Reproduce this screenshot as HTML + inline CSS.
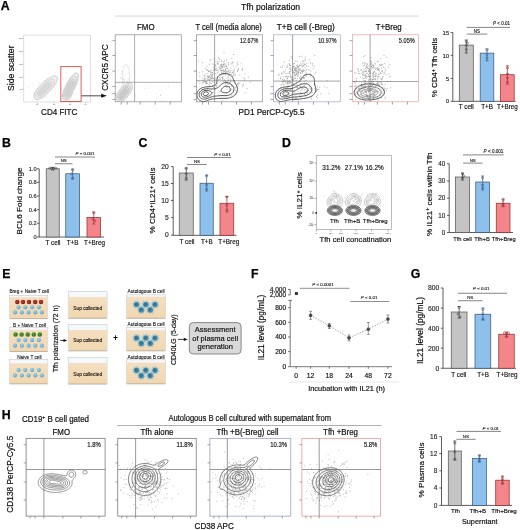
<!DOCTYPE html>
<html><head><meta charset="utf-8"><title>Figure</title>
<style>html,body{margin:0;padding:0;background:#fff;width:520px;height:530px;overflow:hidden}svg{display:block;filter:blur(0.35px)}</style>
</head><body>
<svg width="520" height="530" viewBox="0 0 520 530" font-family="Liberation Sans, Arial, Helvetica, sans-serif"><text x="0.66" y="9.93" font-size="12.3" font-weight="bold" fill="#000" stroke="#000" stroke-width="0.25">A</text>
<defs><clipPath id="cA1"><rect x="23.8" y="35.1" width="66.5" height="66.9"/></clipPath><clipPath id="cA2"><rect x="115.2" y="34.8" width="66.1" height="67"/></clipPath><clipPath id="cA3"><rect x="196.5" y="34.8" width="65.8" height="67"/></clipPath><clipPath id="cA4"><rect x="273.4" y="34.8" width="66.9" height="67"/></clipPath><clipPath id="cA5"><rect x="352.4" y="34.8" width="66" height="67"/></clipPath><clipPath id="cD"><rect x="316.3" y="155.3" width="75.2" height="74.3"/></clipPath><clipPath id="cH1"><rect x="25.8" y="438" width="78" height="77.5"/></clipPath><clipPath id="cH2"><rect x="118.8" y="438" width="71.7" height="77.5"/></clipPath><clipPath id="cH3"><rect x="210" y="438" width="81.2" height="77.5"/></clipPath><clipPath id="cH4"><rect x="301.2" y="438" width="79.3" height="77.5"/></clipPath></defs>
<rect x="23.8" y="35.1" width="66.5" height="66.9" fill="none" stroke="#c8c8c8" stroke-width="0.6" rx="0"/>
<line x1="22" y1="38.5" x2="23.8" y2="38.5" stroke="#bbb" stroke-width="0.6"/>
<line x1="22" y1="51.5" x2="23.8" y2="51.5" stroke="#bbb" stroke-width="0.6"/>
<line x1="22" y1="64.2" x2="23.8" y2="64.2" stroke="#bbb" stroke-width="0.6"/>
<line x1="22" y1="77" x2="23.8" y2="77" stroke="#bbb" stroke-width="0.6"/>
<line x1="22" y1="89.2" x2="23.8" y2="89.2" stroke="#bbb" stroke-width="0.6"/>
<line x1="37.2" y1="102" x2="37.2" y2="103.8" stroke="#bbb" stroke-width="0.6"/>
<line x1="54.2" y1="102" x2="54.2" y2="103.8" stroke="#bbb" stroke-width="0.6"/>
<line x1="70.3" y1="102" x2="70.3" y2="103.8" stroke="#bbb" stroke-width="0.6"/>
<line x1="85.7" y1="102" x2="85.7" y2="103.8" stroke="#bbb" stroke-width="0.6"/>
<text x="37.2" y="104.64" font-size="1.8" text-anchor="middle" font-weight="normal" fill="#999" stroke="#999" stroke-width="0.04">10³</text>
<text x="54.2" y="104.64" font-size="1.8" text-anchor="middle" font-weight="normal" fill="#999" stroke="#999" stroke-width="0.04">10⁴</text>
<text x="70.3" y="104.64" font-size="1.8" text-anchor="middle" font-weight="normal" fill="#999" stroke="#999" stroke-width="0.04">10⁵</text>
<text x="85.7" y="104.64" font-size="1.8" text-anchor="middle" font-weight="normal" fill="#999" stroke="#999" stroke-width="0.04">10⁶</text>
<text x="22.6" y="39.07" font-size="1.6" text-anchor="end" font-weight="normal" fill="#999" stroke="#999" stroke-width="0.04">250K</text>
<text x="22.6" y="52.07" font-size="1.6" text-anchor="end" font-weight="normal" fill="#999" stroke="#999" stroke-width="0.04">200K</text>
<text x="22.6" y="64.77" font-size="1.6" text-anchor="end" font-weight="normal" fill="#999" stroke="#999" stroke-width="0.04">150K</text>
<text x="22.6" y="77.57" font-size="1.6" text-anchor="end" font-weight="normal" fill="#999" stroke="#999" stroke-width="0.04">100K</text>
<text x="22.6" y="89.77" font-size="1.6" text-anchor="end" font-weight="normal" fill="#999" stroke="#999" stroke-width="0.04">50K</text>
<path d="M46.01 78.82h0.7M48.09 85.13h0.7M44.08 82.13h0.7M39.77 83.15h0.7M42.82 94.37h0.7M39.06 83.15h0.7M46.42 87.8h0.7M55.38 93.31h0.7M42.55 84.5h0.7M41.66 87.33h0.7M49.43 88.66h0.7M48.5 88.38h0.7M46.74 80.65h0.7M39.49 88.46h0.7M45.8 96.15h0.7M50.87 78.72h0.7M36.59 93.16h0.7M42.8 88.72h0.7M32.69 84.15h0.7M36.97 100h0.7M33.11 92.57h0.7M44.35 80.8h0.7M37.13 88.45h0.7M47.9 91.46h0.7M47.1 86.87h0.7M44.69 92.1h0.7M28.38 87.6h0.7M42.23 92h0.7M45.66 96.63h0.7M46.79 83.95h0.7M71.81 85.81h0.7M69.15 91.35h0.7M71.51 83.28h0.7M66.25 94.42h0.7M68.68 85.96h0.7M70.22 90.67h0.7M74.6 75.67h0.7M75.58 88.77h0.7M65.71 72.49h0.7M67.82 69.72h0.7M73.59 83.56h0.7M63.03 78.8h0.7M69.15 87.31h0.7M76.03 79.35h0.7M73.76 81.01h0.7M69.69 87.64h0.7M69.53 89.94h0.7M70 84.59h0.7M77.09 84.35h0.7M69.29 91.62h0.7M69.79 90.16h0.7M72.41 77.73h0.7M70.52 85.37h0.7M70.21 86.28h0.7M66.54 77.56h0.7M70.95 88.08h0.7M69.23 79.14h0.7M75.66 93.78h0.7M73.61 87.54h0.7" stroke="#c8c8c8" stroke-width="0.7" opacity="1" fill="none"/>
<g clip-path="url(#cA1)"><path d="M52.5 76.39 L53.5 76.12 L54.5 76 L55.5 76.07 L56.45 76.5 L56.91 77 L57.15 77.5 L57.31 78.5 L57.24 79.5 L57 80.47 L56.85 81 L56.5 81.87 L56.23 82.5 L55.97 83 L55.5 83.88 L55.15 84.5 L54.84 85 L54.49 85.5 L54 86.22 L53.5 86.91 L53.05 87.5 L52.66 88 L52.25 88.5 L51.82 89 L51.38 89.5 L50.92 90 L50.45 90.5 L49.96 91 L49.46 91.5 L48.96 92 L48.44 92.5 L47.92 93 L47.39 93.5 L46.85 94 L46.32 94.5 L45.77 95 L45.21 95.5 L44.63 96 L44.01 96.5 L43.5 96.91 L43 97.28 L42.5 97.6 L41.82 98 L41 98.44 L40.5 98.67 L39.54 99 L39 99.17 L38 99.35 L37 99.37 L36 99.19 L35.5 98.98 L34.84 98.5 L34.46 98 L34.08 97 L34.01 96 L34.1 95 L34.33 94 L34.51 93.5 L34.91 92.5 L35.15 92 L35.5 91.39 L36 90.59 L36.4 90 L36.76 89.5 L37.15 89 L37.57 88.5 L38 88 L38.5 87.41 L39 86.84 L39.5 86.28 L40 85.73 L40.5 85.19 L41 84.66 L41.5 84.14 L42 83.63 L42.5 83.14 L43 82.66 L43.5 82.19 L44 81.74 L44.5 81.31 L45 80.89 L45.5 80.5 L46.13 80 L46.8 79.5 L47.5 79.01 L48 78.66 L48.5 78.34 L49.08 78 L49.97 77.5 L50.5 77.21 L51 76.99 L52 76.57 L52.5 76.39 Z" fill="#f6f6f6" stroke="#a4a4a4" stroke-width="0.55"/><path d="M51.5 78.94 L52.5 78.81 L53.5 78.98 L54 79.33 L54.39 80 L54.48 81 L54.32 82 L54 82.94 L53.77 83.5 L53.5 84.05 L53 84.96 L52.68 85.5 L52.35 86 L52 86.5 L51.5 87.18 L51 87.82 L50.5 88.42 L50 88.99 L49.54 89.5 L49.06 90 L48.57 90.5 L48.07 91 L47.56 91.5 L47.03 92 L46.51 92.5 L46 92.99 L45.5 93.47 L45 93.95 L44.5 94.42 L44 94.87 L43.5 95.29 L43 95.68 L42.5 96.03 L41.75 96.5 L41 96.9 L40.5 97.1 L39.5 97.4 L38.5 97.49 L37.5 97.34 L36.85 97 L36.36 96.5 L36 95.62 L35.91 95 L36 94.06 L36.12 93.5 L36.49 92.5 L36.71 92 L37 91.5 L37.5 90.71 L38 90.03 L38.42 89.5 L38.84 89 L39.27 88.5 L39.72 88 L40.18 87.5 L40.64 87 L41.11 86.5 L41.58 86 L42.05 85.5 L42.54 85 L43.04 84.5 L43.55 84 L44.09 83.5 L44.65 83 L45.23 82.5 L45.86 82 L46.5 81.52 L47 81.15 L47.5 80.81 L48.01 80.5 L48.87 80 L49.5 79.67 L50 79.44 L51 79.07 L51.5 78.94 Z" fill="#eeeeee" stroke="#b0b0b0" stroke-width="0.5"/><path d="M50 81.47 L51 81.47 L51.5 81.75 L51.86 82.5 L51.79 83.5 L51.5 84.37 L51.22 85 L50.95 85.5 L50.5 86.24 L50 86.96 L49.59 87.5 L49.19 88 L48.76 88.5 L48.3 89 L47.82 89.5 L47.33 90 L46.82 90.5 L46.31 91 L45.81 91.5 L45.3 92 L44.8 92.5 L44.3 93 L43.78 93.5 L43.22 94 L42.61 94.5 L42 94.93 L41.5 95.23 L40.94 95.5 L40 95.8 L39 95.82 L38.24 95.5 L37.8 95 L37.57 94 L37.73 93 L38 92.3 L38.42 91.5 L38.75 91 L39.12 90.5 L39.53 90 L40 89.47 L40.5 88.93 L41 88.4 L41.5 87.87 L42 87.34 L42.5 86.81 L43 86.29 L43.5 85.78 L44 85.29 L44.5 84.82 L45 84.37 L45.5 83.95 L46.07 83.5 L46.76 83 L47.5 82.52 L48 82.23 L48.5 81.98 L49.5 81.59 L50 81.47 Z" fill="#e4e4e4" stroke="#bbb" stroke-width="0.5"/><path d="M47.5 83.95 L48.5 83.59 L49.5 83.75 L49.75 84.5 L49.5 85.48 L49.25 86 L48.96 86.5 L48.5 87.17 L48 87.8 L47.5 88.38 L47 88.92 L46.5 89.43 L46 89.93 L45.5 90.43 L45 90.93 L44.5 91.45 L44 91.98 L43.5 92.49 L43 92.97 L42.5 93.41 L42 93.79 L41.5 94.1 L40.5 94.49 L40 94.53 L39.5 94.41 L39 93.89 L38.92 93 L39.05 92.5 L39.5 91.6 L39.91 91 L40.32 90.5 L40.77 90 L41.25 89.5 L41.75 89 L42.24 88.5 L42.73 88 L43.21 87.5 L43.69 87 L44.19 86.5 L44.71 86 L45.26 85.5 L45.87 85 L46.5 84.54 L47 84.22 L47.5 83.95 Z" fill="#dadada" stroke="#c4c4c4" stroke-width="0.5"/></g>
<g clip-path="url(#cA1)"><path d="M76 73 L76.77 73 L77.5 73.35 L77.95 74 L78.13 74.5 L78.3 75.5 L78.32 76.5 L78.24 77.5 L78.08 78.5 L77.98 79 L77.77 80 L77.5 80.92 L77.35 81.5 L77 82.5 L76.85 83 L76.5 83.88 L76.28 84.5 L76 85.11 L75.63 86 L75.4 86.5 L75 87.29 L74.66 88 L74.4 88.5 L74 89.24 L73.61 90 L73.36 90.5 L73 91.24 L72.72 92 L72.5 92.59 L72.26 93.5 L72 94.29 L71.79 95 L71.5 95.65 L71.09 96.5 L70.79 97 L70.43 97.5 L70 98.01 L69.5 98.52 L68.92 99 L68.15 99.5 L67.5 99.83 L66.95 100 L66 100.21 L65 100.19 L64.35 100 L63.53 99.5 L63.1 99 L62.82 98.5 L62.53 97.5 L62.45 97 L62.4 96 L62.49 95 L62.56 94.5 L62.76 93.5 L63 92.74 L63.21 92 L63.5 91.27 L63.77 90.5 L64 89.96 L64.35 89 L64.56 88.5 L64.97 87.5 L65.16 87 L65.5 86.25 L65.81 85.5 L66.06 85 L66.5 84.11 L66.79 83.5 L67.06 83 L67.5 82.21 L67.9 81.5 L68.19 81 L68.51 80.5 L69 79.73 L69.5 79 L69.83 78.5 L70.2 78 L70.59 77.5 L71 76.99 L71.5 76.38 L72 75.82 L72.5 75.3 L73 74.82 L73.5 74.38 L74 74 L74.76 73.5 L75.5 73.13 L76 73 Z" fill="#f4f4f4" stroke="#9a9a9a" stroke-width="0.55"/><path d="M74 76.36 L75 76.08 L75.94 76.5 L76.23 77 L76.44 78 L76.44 79 L76.33 80 L76.14 81 L76 81.54 L75.74 82.5 L75.5 83.21 L75.23 84 L75 84.57 L74.62 85.5 L74.4 86 L74 86.83 L73.68 87.5 L73.41 88 L73 88.76 L72.6 89.5 L72.34 90 L72 90.69 L71.68 91.5 L71.5 92 L71.25 93 L71 93.86 L70.82 94.5 L70.5 95.27 L70.14 96 L69.81 96.5 L69.41 97 L68.91 97.5 L68.26 98 L67.5 98.4 L67 98.56 L66 98.64 L65.42 98.5 L64.6 98 L64.2 97.5 L63.96 97 L63.73 96 L63.71 95 L63.85 94 L64 93.42 L64.26 92.5 L64.5 91.87 L64.82 91 L65.03 90.5 L65.42 89.5 L65.61 89 L66 88.01 L66.19 87.5 L66.5 86.76 L66.81 86 L67.05 85.5 L67.5 84.57 L67.77 84 L68.05 83.5 L68.5 82.7 L68.91 82 L69.22 81.5 L69.55 81 L70 80.35 L70.5 79.67 L71 79.04 L71.47 78.5 L71.93 78 L72.44 77.5 L73 77.02 L73.5 76.65 L74 76.36 Z" fill="#eaeaea" stroke="#aaa" stroke-width="0.5"/><path d="M73.5 78.98 L74.03 79 L74.55 79.5 L74.75 80.5 L74.69 81.5 L74.51 82.5 L74.38 83 L74.08 84 L73.9 84.5 L73.5 85.49 L73.28 86 L73 86.58 L72.53 87.5 L72.26 88 L71.97 88.5 L71.5 89.32 L71.13 90 L70.89 90.5 L70.52 91.5 L70.39 92 L70.18 93 L70 93.71 L69.76 94.5 L69.5 95.07 L69 95.88 L68.5 96.43 L68 96.82 L67.5 97.08 L66.5 97.24 L65.81 97 L65.28 96.5 L65 95.9 L64.86 95 L64.94 94 L65.05 93.5 L65.37 92.5 L65.57 92 L66 91 L66.21 90.5 L66.5 89.78 L66.79 89 L67 88.43 L67.33 87.5 L67.53 87 L67.94 86 L68.17 85.5 L68.5 84.82 L68.93 84 L69.22 83.5 L69.52 83 L70 82.26 L70.5 81.56 L70.95 81 L71.39 80.5 L71.88 80 L72.47 79.5 L73 79.17 L73.5 78.98 Z" fill="#dedede" stroke="#b4b4b4" stroke-width="0.5"/><path d="M72.5 81.27 L73.19 81.5 L73.4 82.5 L73.26 83.5 L73 84.46 L72.81 85 L72.5 85.75 L72.15 86.5 L71.88 87 L71.5 87.68 L71 88.49 L70.67 89 L70.36 89.5 L70 90.18 L69.67 91 L69.5 91.82 L69.4 92.5 L69.23 93.5 L69 94.26 L68.63 95 L68.22 95.5 L67.53 96 L67 96.12 L66.45 96 L65.96 95.5 L65.76 94.5 L65.9 93.5 L66.06 93 L66.49 92 L66.76 91.5 L67 91 L67.46 90 L67.65 89.5 L67.95 88.5 L68.1 88 L68.43 87 L68.62 86.5 L69 85.62 L69.31 85 L69.58 84.5 L70 83.79 L70.5 83.06 L70.94 82.5 L71.42 82 L72 81.51 L72.5 81.27 Z" fill="#d2d2d2" stroke="#c0c0c0" stroke-width="0.5"/></g>
<rect x="60.8" y="66.6" width="20.3" height="34.9" fill="none" stroke="#df5c5c" stroke-width="1" rx="0"/>
<line x1="81.3" y1="95.8" x2="102" y2="95.8" stroke="#5a5a5a" stroke-width="1.1"/>
<path d="M101.2 93.8 L106.8 95.8 L101.2 97.8 Z" fill="#111"/>
<text x="11.4" y="71.25" font-size="8.6" text-anchor="middle" font-weight="normal" fill="#111" stroke="#111" stroke-width="0.21" transform="rotate(-90 11.4 68.2)">Side scatter</text>
<text x="59.2" y="114.76" font-size="8.05" text-anchor="middle" font-weight="normal" fill="#111" stroke="#111" stroke-width="0.19" transform="matrix(1,0,0,1.14,0,-16.07)">CD4 FITC</text>
<text x="241" y="10.27" font-size="8.65" text-anchor="start" font-weight="normal" fill="#111" stroke="#111" stroke-width="0.21" transform="matrix(1,0,0,1.05,0,-0.51)">Tfh polarization</text>
<line x1="115" y1="16.1" x2="418.5" y2="16.1" stroke="#d2d2d2" stroke-width="0.9"/>
<text x="145.8" y="30.3" font-size="7.9" text-anchor="middle" font-weight="normal" fill="#111" stroke="#111" stroke-width="0.19" transform="matrix(1,0,0,1.22,0,-6.67)">FMO</text>
<text x="228.7" y="30.2" font-size="7.6" text-anchor="middle" font-weight="normal" fill="#111" stroke="#111" stroke-width="0.18" transform="matrix(1,0,0,1.12,0,-3.62)">T cell (media alone)</text>
<text x="305.8" y="30.43" font-size="8.25" text-anchor="middle" font-weight="normal" fill="#111" stroke="#111" stroke-width="0.2" transform="matrix(1,0,0,1.18,0,-5.48)">T+B cell (-Breg)</text>
<text x="388.7" y="30.3" font-size="7.9" text-anchor="middle" font-weight="normal" fill="#111" stroke="#111" stroke-width="0.19" transform="matrix(1,0,0,1.22,0,-6.67)">T+Breg</text>
<text x="105.4" y="70.51" font-size="8.2" text-anchor="middle" font-weight="normal" fill="#111" stroke="#111" stroke-width="0.2" transform="rotate(-90 105.4 67.6)">CXCR5 APC</text>
<text x="238.6" y="114.89" font-size="8.15" text-anchor="start" font-weight="normal" fill="#111" stroke="#111" stroke-width="0.2">PD1 PerCP-Cy5.5</text>
<rect x="115.2" y="34.8" width="66.1" height="67" fill="none" stroke="#8c8c8c" stroke-width="0.7" rx="0"/>
<line x1="112.4" y1="40.7" x2="115.2" y2="40.7" stroke="#666" stroke-width="0.6"/>
<line x1="112.4" y1="55.5" x2="115.2" y2="55.5" stroke="#666" stroke-width="0.6"/>
<line x1="112.4" y1="71.1" x2="115.2" y2="71.1" stroke="#666" stroke-width="0.6"/>
<line x1="112.4" y1="86.6" x2="115.2" y2="86.6" stroke="#666" stroke-width="0.6"/>
<line x1="112.4" y1="93.7" x2="115.2" y2="93.7" stroke="#666" stroke-width="0.6"/>
<line x1="112.4" y1="99.4" x2="115.2" y2="99.4" stroke="#666" stroke-width="0.6"/>
<line x1="121.2" y1="101.8" x2="121.2" y2="104.6" stroke="#666" stroke-width="0.6"/>
<line x1="127.2" y1="101.8" x2="127.2" y2="104.6" stroke="#666" stroke-width="0.6"/>
<line x1="140.2" y1="101.8" x2="140.2" y2="104.6" stroke="#666" stroke-width="0.6"/>
<line x1="155.2" y1="101.8" x2="155.2" y2="104.6" stroke="#666" stroke-width="0.6"/>
<line x1="170.2" y1="101.8" x2="170.2" y2="104.6" stroke="#666" stroke-width="0.6"/>
<rect x="196.5" y="34.8" width="65.8" height="67" fill="none" stroke="#8c8c8c" stroke-width="0.7" rx="0"/>
<line x1="193.7" y1="40.7" x2="196.5" y2="40.7" stroke="#666" stroke-width="0.6"/>
<line x1="193.7" y1="55.5" x2="196.5" y2="55.5" stroke="#666" stroke-width="0.6"/>
<line x1="193.7" y1="71.1" x2="196.5" y2="71.1" stroke="#666" stroke-width="0.6"/>
<line x1="193.7" y1="86.6" x2="196.5" y2="86.6" stroke="#666" stroke-width="0.6"/>
<line x1="193.7" y1="93.7" x2="196.5" y2="93.7" stroke="#666" stroke-width="0.6"/>
<line x1="193.7" y1="99.4" x2="196.5" y2="99.4" stroke="#666" stroke-width="0.6"/>
<line x1="202.5" y1="101.8" x2="202.5" y2="104.6" stroke="#666" stroke-width="0.6"/>
<line x1="208.5" y1="101.8" x2="208.5" y2="104.6" stroke="#666" stroke-width="0.6"/>
<line x1="221.5" y1="101.8" x2="221.5" y2="104.6" stroke="#666" stroke-width="0.6"/>
<line x1="236.5" y1="101.8" x2="236.5" y2="104.6" stroke="#666" stroke-width="0.6"/>
<line x1="251.5" y1="101.8" x2="251.5" y2="104.6" stroke="#666" stroke-width="0.6"/>
<rect x="273.4" y="34.8" width="66.9" height="67" fill="none" stroke="#a4aac4" stroke-width="0.7" rx="0"/>
<line x1="270.6" y1="40.7" x2="273.4" y2="40.7" stroke="#666" stroke-width="0.6"/>
<line x1="270.6" y1="55.5" x2="273.4" y2="55.5" stroke="#666" stroke-width="0.6"/>
<line x1="270.6" y1="71.1" x2="273.4" y2="71.1" stroke="#666" stroke-width="0.6"/>
<line x1="270.6" y1="86.6" x2="273.4" y2="86.6" stroke="#666" stroke-width="0.6"/>
<line x1="270.6" y1="93.7" x2="273.4" y2="93.7" stroke="#666" stroke-width="0.6"/>
<line x1="270.6" y1="99.4" x2="273.4" y2="99.4" stroke="#666" stroke-width="0.6"/>
<line x1="279.4" y1="101.8" x2="279.4" y2="104.6" stroke="#666" stroke-width="0.6"/>
<line x1="285.4" y1="101.8" x2="285.4" y2="104.6" stroke="#666" stroke-width="0.6"/>
<line x1="298.4" y1="101.8" x2="298.4" y2="104.6" stroke="#666" stroke-width="0.6"/>
<line x1="313.4" y1="101.8" x2="313.4" y2="104.6" stroke="#666" stroke-width="0.6"/>
<line x1="328.4" y1="101.8" x2="328.4" y2="104.6" stroke="#666" stroke-width="0.6"/>
<rect x="352.4" y="34.8" width="66" height="67" fill="none" stroke="#e8a0a0" stroke-width="0.7" rx="0"/>
<line x1="349.6" y1="40.7" x2="352.4" y2="40.7" stroke="#666" stroke-width="0.6"/>
<line x1="349.6" y1="55.5" x2="352.4" y2="55.5" stroke="#666" stroke-width="0.6"/>
<line x1="349.6" y1="71.1" x2="352.4" y2="71.1" stroke="#666" stroke-width="0.6"/>
<line x1="349.6" y1="86.6" x2="352.4" y2="86.6" stroke="#666" stroke-width="0.6"/>
<line x1="349.6" y1="93.7" x2="352.4" y2="93.7" stroke="#666" stroke-width="0.6"/>
<line x1="349.6" y1="99.4" x2="352.4" y2="99.4" stroke="#666" stroke-width="0.6"/>
<line x1="358.4" y1="101.8" x2="358.4" y2="104.6" stroke="#666" stroke-width="0.6"/>
<line x1="364.4" y1="101.8" x2="364.4" y2="104.6" stroke="#666" stroke-width="0.6"/>
<line x1="377.4" y1="101.8" x2="377.4" y2="104.6" stroke="#666" stroke-width="0.6"/>
<line x1="392.4" y1="101.8" x2="392.4" y2="104.6" stroke="#666" stroke-width="0.6"/>
<line x1="407.4" y1="101.8" x2="407.4" y2="104.6" stroke="#666" stroke-width="0.6"/>
<path d="M124.31 81.3h0.7M121.93 71.59h0.7M123.58 76.74h0.7M117.01 98.89h0.7M120.04 77.96h0.7M125.27 74.51h0.7M116.55 87.04h0.7M126.96 96.67h0.7M117.89 70.91h0.7M126.65 82.12h0.7M121.04 78.31h0.7M126.73 68.15h0.7M124.46 90.61h0.7M118.62 83.79h0.7M128.37 84.64h0.7M129.05 77.23h0.7M123.77 88.09h0.7M123.04 79.15h0.7M123.44 82.71h0.7M120.59 74.03h0.7M127.85 73.06h0.7M122.1 96.02h0.7M123.82 79.44h0.7M121.22 86.63h0.7M121.81 83.7h0.7M119.53 80.03h0.7M128.4 79.43h0.7M123.46 89.67h0.7M127.38 81.28h0.7M124.05 82.64h0.7M121.57 84.2h0.7M122.86 94.59h0.7M122.04 90.12h0.7M124.03 87.44h0.7M122.69 78.93h0.7M161.39 100.94h0.7M161.6 90.42h0.7M148.31 88.25h0.7M156.5 98.27h0.7M159.38 90.94h0.7M159.97 94.95h0.7M161.06 98.36h0.7M144.53 88.42h0.7M168.18 86.56h0.7M135.04 96.04h0.7M160.34 95.18h0.7M155.93 94.02h0.7M160.48 95.15h0.7" stroke="#c0c0c0" stroke-width="0.7" opacity="1" fill="none"/>
<g clip-path="url(#cA2)"><path d="M127.5 83.49 L128.5 83.22 L129.5 83.14 L130.5 83.29 L131 83.52 L131.62 84 L132 84.54 L132.35 85.5 L132.44 86.5 L132.38 87.5 L132.18 88.5 L132 89.1 L131.7 90 L131.48 90.5 L131 91.5 L130.75 92 L130.45 92.5 L130 93.22 L129.5 93.95 L129.11 94.5 L128.74 95 L128.35 95.5 L127.96 96 L127.5 96.6 L127 97.27 L126.5 97.91 L126 98.49 L125.5 99 L125 99.44 L124.5 99.81 L124 100.12 L123.22 100.5 L122.5 100.81 L121.78 101 L121 101.19 L120 101.29 L119 101.24 L118.12 101 L117.5 100.72 L117 100.34 L116.5 99.78 L116.05 99 L115.87 98.5 L115.7 97.5 L115.77 96.5 L116 95.76 L116.31 95 L116.59 94.5 L117 93.85 L117.5 93.09 L117.87 92.5 L118.19 92 L118.52 91.5 L119 90.76 L119.5 90.05 L119.9 89.5 L120.29 89 L120.7 88.5 L121.15 88 L121.62 87.5 L122.12 87 L122.66 86.5 L123.24 86 L123.87 85.5 L124.5 85.04 L125 84.7 L125.5 84.4 L126.27 84 L127 83.66 L127.5 83.49 Z" fill="#f0f0f0" stroke="#a0a0a0" stroke-width="0.55"/><path d="M126.5 85.91 L127.5 85.64 L128.5 85.63 L129.39 86 L129.85 86.5 L130.09 87 L130.24 88 L130.15 89 L130 89.62 L129.72 90.5 L129.5 91.01 L129 92 L128.72 92.5 L128.4 93 L128 93.58 L127.5 94.25 L127 94.89 L126.51 95.5 L126.14 96 L125.78 96.5 L125.4 97 L125 97.51 L124.5 98.06 L124 98.5 L123.25 99 L122.5 99.36 L122 99.52 L121 99.7 L120 99.68 L119.31 99.5 L118.5 99.1 L118 98.63 L117.6 98 L117.45 97.5 L117.44 96.5 L117.56 96 L118 95.04 L118.32 94.5 L118.65 94 L119 93.49 L119.5 92.71 L119.94 92 L120.26 91.5 L120.59 91 L121 90.43 L121.5 89.79 L122 89.2 L122.5 88.67 L123 88.18 L123.5 87.74 L124 87.33 L124.5 86.98 L125.26 86.5 L126 86.11 L126.5 85.91 Z" fill="#e4e4e4" stroke="#aaa" stroke-width="0.55"/><path d="M127 87.5 L127.5 87.56 L128.16 88 L128.5 88.82 L128.52 89.5 L128.45 90 L128.15 91 L127.93 91.5 L127.5 92.29 L127.04 93 L126.68 93.5 L126.29 94 L125.88 94.5 L125.47 95 L125 95.62 L124.5 96.31 L124 96.98 L123.51 97.5 L123 97.91 L122.5 98.21 L121.64 98.5 L121 98.58 L120.27 98.5 L119.5 98.17 L119 97.65 L118.75 97 L118.86 96 L119.08 95.5 L119.5 94.8 L120 94.07 L120.38 93.5 L120.69 93 L121 92.48 L121.5 91.67 L121.96 91 L122.34 90.5 L122.77 90 L123.25 89.5 L123.81 89 L124.45 88.5 L125 88.15 L125.5 87.88 L126.5 87.55 L127 87.5 Z" fill="#d8d8d8" stroke="#b4b4b4" stroke-width="0.55"/><path d="M125.5 89.35 L126.5 89.38 L126.92 90 L126.84 91 L126.5 91.85 L126.12 92.5 L125.76 93 L125.35 93.5 L124.92 94 L124.48 94.5 L124 95.09 L123.5 95.79 L123 96.48 L122.5 96.96 L122 97.26 L121 97.43 L120.25 97 L120.17 96 L120.5 95.33 L121 94.6 L121.41 94 L121.71 93.5 L122 92.95 L122.5 92.06 L122.87 91.5 L123.27 91 L123.73 90.5 L124.31 90 L125 89.55 L125.5 89.35 Z" fill="#cccccc" stroke="#bbb" stroke-width="0.55"/></g>
<g clip-path="url(#cA2)"><path d="M126 64.41 L126.5 64.52 L127.13 65 L127.53 65.5 L128 66.33 L128.28 67 L128.5 67.61 L128.76 68.5 L129 69.5 L129.1 70 L129.27 71 L129.4 72 L129.5 73 L129.54 73.5 L129.6 74.5 L129.63 75.5 L129.63 76.5 L129.6 77.5 L129.54 78.5 L129.5 79 L129.4 80 L129.27 81 L129.1 82 L129 82.5 L128.76 83.5 L128.5 84.39 L128.28 85 L128 85.67 L127.53 86.5 L127.13 87 L126.5 87.48 L126 87.59 L125.5 87.48 L124.87 87 L124.47 86.5 L124 85.67 L123.72 85 L123.5 84.39 L123.24 83.5 L123 82.5 L122.9 82 L122.73 81 L122.6 80 L122.5 79 L122.46 78.5 L122.4 77.5 L122.37 76.5 L122.37 75.5 L122.4 74.5 L122.46 73.5 L122.5 73 L122.6 72 L122.73 71 L122.9 70 L123 69.5 L123.24 68.5 L123.5 67.61 L123.72 67 L124 66.33 L124.47 65.5 L124.87 65 L125.5 64.52 L126 64.41 Z" fill="none" stroke="#c8c8c8" stroke-width="0.45"/></g>
<line x1="134.6" y1="34.8" x2="134.6" y2="101.8" stroke="#777" stroke-width="0.6"/>
<line x1="115.2" y1="82.3" x2="181.3" y2="82.3" stroke="#777" stroke-width="0.6"/>
<path d="M214.83 64.95h0.85M208.62 76.24h0.85M221.42 74.01h0.85M213.77 58.66h0.85M207.39 79.76h0.85M227.8 74.89h0.85M222.42 79.73h0.85M226.86 68.51h0.85M213.6 69.08h0.85M216.75 63.68h0.85M213.51 87.49h0.85M214.58 69.86h0.85M224.86 81.32h0.85M215.56 66.79h0.85M226.38 72.06h0.85M226.23 60.14h0.85M242.24 68.51h0.85M209.77 77.39h0.85M231.44 62.86h0.85M222.15 77.97h0.85M222.87 73.19h0.85M209.23 64.21h0.85M218.63 67.74h0.85M230.06 68.02h0.85M222.22 70.68h0.85M223.77 67.52h0.85M220.24 65.62h0.85M233.97 69.02h0.85M222.8 64.33h0.85M202.1 62.62h0.85M216.43 70.69h0.85M204.3 76.74h0.85M217.96 71.02h0.85M235.67 66.78h0.85M223.45 64.65h0.85M211.86 76.55h0.85M214.06 67.63h0.85M233.74 80.74h0.85M224.5 65.93h0.85M223.46 73.51h0.85M222.49 69.52h0.85M223.36 66.1h0.85M230.65 74.82h0.85M228.25 69.99h0.85M225.05 74.92h0.85M213.09 70.69h0.85M227.86 63.94h0.85M216.5 70.34h0.85M233.39 71.34h0.85M210.93 77.23h0.85M221.69 65.11h0.85M222.93 70.74h0.85M210.42 59.81h0.85M239.36 75.23h0.85M236.87 63.97h0.85M218.6 59.26h0.85M230.33 70.62h0.85M226.6 78.19h0.85M198.17 61.09h0.85M225.38 63.93h0.85M222.42 66.17h0.85M223.79 63.66h0.85M212.77 73.47h0.85M220.44 65.75h0.85M221.31 66.31h0.85M234.29 74.79h0.85M226.18 66.09h0.85M222.95 73.81h0.85M237.53 64.69h0.85M217.73 63.12h0.85M219.3 59.07h0.85M205.74 83.1h0.85M237.91 68.92h0.85M232.16 72.59h0.85M231.71 70.8h0.85M229.35 72.04h0.85M224.05 71.32h0.85M225.05 83.4h0.85M220.61 64.25h0.85M221.07 60.88h0.85M223.52 64.42h0.85M237.36 62.32h0.85M228.28 75.86h0.85M222.44 76.33h0.85M217.5 64.75h0.85M216.97 61.96h0.85M238.23 68.69h0.85M227.81 80.04h0.85M223.64 52.67h0.85M219.71 74.42h0.85M212.46 64.01h0.85M222.36 77.76h0.85M231.3 63.99h0.85M219.27 69.14h0.85M220.84 61.21h0.85M220.9 64.65h0.85M224.04 80.01h0.85M207.87 76.33h0.85M220.76 68.39h0.85M214.88 65.34h0.85M231.4 58.69h0.85M215.68 68.44h0.85M228.48 70.8h0.85M237.48 70.45h0.85M220.02 70.39h0.85M217.29 63.71h0.85M224.82 70.57h0.85M222.98 70.75h0.85M213.56 79.39h0.85M227.38 83.13h0.85M242.15 70.11h0.85M220.55 66.02h0.85M221.07 70.58h0.85M213.07 67.05h0.85M226.03 66.17h0.85M211.15 70.62h0.85M212.48 64.22h0.85M235.16 74.94h0.85M214.4 70.32h0.85M233.27 72.63h0.85M237.48 69.81h0.85M225.46 66.27h0.85M228.26 64.84h0.85M241.55 69.46h0.85M221.13 67.43h0.85M217.37 72.52h0.85M210.14 70.97h0.85M223.4 62.15h0.85M237.05 71.44h0.85M232.12 62.27h0.85M214.05 66.99h0.85M214.87 69.09h0.85M218.21 57.51h0.85M225.78 71.59h0.85M221.05 71.98h0.85M225.04 69.97h0.85M225.82 68.24h0.85M220.16 68.57h0.85M222.62 64.65h0.85M224.96 69.25h0.85M222.2 67.41h0.85M227.78 71.6h0.85M240.77 63.17h0.85M228.62 72.53h0.85M223.53 71.93h0.85M206.98 70.08h0.85M226.69 68.15h0.85M204.51 74.59h0.85M209.61 60.18h0.85M231.12 73.99h0.85M229.71 72.58h0.85M221.58 72.84h0.85M206.75 73.49h0.85M219.47 66.75h0.85M216.55 69.31h0.85M229.05 75.14h0.85M244.45 73.8h0.85M225.06 72.34h0.85M215.6 61.16h0.85M211.88 74.5h0.85M222.47 78.6h0.85M221.32 77.56h0.85M212.06 72.52h0.85M224.11 60.88h0.85M212.07 77.13h0.85M233.57 70.04h0.85M233.1 54.54h0.85M233.31 73.45h0.85M218.5 61.3h0.85M227.89 62.57h0.85M221.75 66.87h0.85M219.31 79.27h0.85M219.78 68.59h0.85M210.65 72.76h0.85M209.28 82.36h0.85M230.55 81.36h0.85M221.18 70.33h0.85M225.06 69.43h0.85M232.52 62.8h0.85M206.54 66.49h0.85M215.55 73.76h0.85M224.67 73.57h0.85M226.72 71.72h0.85M219.42 77.47h0.85M232.78 65.98h0.85M225 70.64h0.85M211.47 75.75h0.85M209.92 79.38h0.85M212.35 75.12h0.85M208.99 80.58h0.85M205.45 82.26h0.85M208.81 75.85h0.85M201.99 71.77h0.85M198.8 72.82h0.85M209.9 83.33h0.85M206.72 76.21h0.85M208.54 79.29h0.85M198.51 81.06h0.85M205.17 83.1h0.85M204 78.33h0.85M202.68 82.49h0.85M205.33 78.19h0.85M211.49 74.88h0.85M208.9 85.66h0.85M204 79.86h0.85M206.93 76.3h0.85M210.78 78.24h0.85M206.38 83.5h0.85M209.72 72.02h0.85M210.41 74.81h0.85M215.5 78.11h0.85M212.68 92.66h0.85M208.56 84.78h0.85M208.51 79.44h0.85M210.93 83.56h0.85M204.3 90.29h0.85M206.8 78.83h0.85M211.53 78.17h0.85M216.79 86.06h0.85M206.2 82.47h0.85M206.76 83.36h0.85M207.99 77.46h0.85M213.72 89.62h0.85M206.85 88.55h0.85M214.35 82.83h0.85M202.17 83.42h0.85M206.07 69.86h0.85M206.01 83.19h0.85M210.93 79.03h0.85M212.23 82.17h0.85M199.45 83.41h0.85M202.42 78.29h0.85M208.68 71.55h0.85M203.71 81.84h0.85M199.39 76.29h0.85M212.19 78.35h0.85M209.47 76.98h0.85M209.47 78.29h0.85M204.62 68.45h0.85M212.14 86.08h0.85M205.8 81.27h0.85M212.48 85.56h0.85M202.44 89.9h0.85M202.73 80.11h0.85M208.02 70.99h0.85M203.49 75.53h0.85M210.38 73.97h0.85M208.3 77.49h0.85M202.39 80.4h0.85M207.36 69.99h0.85M205.24 81.71h0.85M211.58 72.45h0.85M203.84 81.49h0.85M204.8 79.45h0.85M213.06 78.43h0.85M218.19 79.63h0.85M217 77.3h0.85M207.32 76.94h0.85M208.09 71.59h0.85M214.67 79.85h0.85M246.76 88.46h0.85M247.84 77.26h0.85M242.57 85.01h0.85M237.65 84.44h0.85M226.59 87.25h0.85M243.54 77.85h0.85M231.55 95.8h0.85M231.45 86.63h0.85M229.67 78.73h0.85M232.74 75.75h0.85M228.52 84.31h0.85M231.33 85.46h0.85M223.32 81.69h0.85M229.01 86.55h0.85M250.24 82.15h0.85M231.44 89.31h0.85M230.09 81.65h0.85M236.26 85.77h0.85M237.66 91.87h0.85M230.34 79.95h0.85M239.35 83.21h0.85M234.16 80.96h0.85M232.98 90.71h0.85M244.43 79.11h0.85M226.58 83.09h0.85M232.66 85.82h0.85M227.84 80.13h0.85M243.92 80.26h0.85M216.39 83.15h0.85M226.64 73.4h0.85M227.77 77.33h0.85M237.31 83.52h0.85M236.85 86.89h0.85M243.16 84.89h0.85M219.41 75.36h0.85M238 83.22h0.85M229.65 90.79h0.85M226.67 89.34h0.85M236.32 85.53h0.85M224.64 80.68h0.85M215.38 89.79h0.85M229.04 82.53h0.85M220.02 78.98h0.85M226.81 81.19h0.85M234.97 94.69h0.85M234.5 87.32h0.85M244.7 92.96h0.85M230.4 83.12h0.85M219.73 91.63h0.85M225.95 82.39h0.85M224.64 85.06h0.85M222.26 100.92h0.85M235.48 90.6h0.85M226.84 82.99h0.85M216.18 85.49h0.85M237.58 87.96h0.85M231.11 93.26h0.85M234.85 83.07h0.85M232.85 75.55h0.85M237.05 84.32h0.85M232.3 86.09h0.85M241.89 86.66h0.85M235.4 93.9h0.85M235.14 87.9h0.85" stroke="#9a9a9a" stroke-width="0.85" opacity="1" fill="none"/>
<g clip-path="url(#cA3)"><path d="M222 73.98 L223 73.74 L224 73.6 L225 73.56 L226 73.6 L227 73.74 L228 73.98 L228.5 74.14 L229.38 74.5 L230 74.82 L230.5 75.13 L231 75.5 L231.55 76 L232 76.51 L232.5 77.24 L232.9 78 L233.1 78.5 L233.43 79.5 L233.59 80 L233.96 81 L234.18 81.5 L234.5 82.11 L235 82.99 L235.32 83.5 L235.62 84 L236 84.65 L236.45 85.5 L236.68 86 L237 86.85 L237.2 87.5 L237.38 88.5 L237.43 89.5 L237.35 90.5 L237.12 91.5 L236.95 92 L236.5 92.95 L236.17 93.5 L235.82 94 L235.4 94.5 L234.91 95 L234.35 95.5 L233.69 96 L233 96.44 L232.5 96.73 L231.93 97 L231 97.39 L230.5 97.56 L229.5 97.85 L228.74 98 L228 98.14 L227 98.25 L226 98.31 L225 98.34 L224 98.34 L223 98.33 L222 98.33 L221 98.35 L220 98.4 L219 98.45 L218.23 98.5 L217.5 98.55 L216.5 98.62 L215.5 98.67 L214.5 98.72 L213.5 98.8 L212.5 98.92 L212 99 L211 99.26 L210.15 99.5 L209.5 99.74 L208.75 100 L208 100.31 L207.46 100.5 L206.5 100.88 L206 101.05 L205 101.35 L204.01 101.5 L203.5 101.54 L202.54 101.5 L202 101.43 L201 101.13 L200.5 100.91 L199.81 100.5 L199.17 100 L198.66 99.5 L198.26 99 L197.93 98.5 L197.5 97.64 L197.24 97 L197.02 96 L196.94 95.5 L196.91 94.5 L197 93.69 L197.13 93 L197.49 92 L197.72 91.5 L198.03 91 L198.5 90.36 L199 89.81 L199.5 89.35 L200 88.97 L200.73 88.5 L201.5 88.09 L202 87.87 L203 87.53 L203.5 87.38 L204.5 87.15 L205.5 87.01 L206 86.95 L207 86.86 L208 86.8 L209 86.74 L210 86.66 L211 86.55 L211.5 86.47 L212.5 86.25 L213.42 86 L214 85.77 L214.6 85.5 L215.36 85 L215.88 84.5 L216.26 84 L216.54 83.5 L216.86 82.5 L216.98 81.5 L216.98 80.5 L216.99 79.5 L217.04 79 L217.27 78 L217.5 77.43 L218 76.59 L218.5 76 L219 75.53 L219.5 75.15 L220 74.83 L220.63 74.5 L221.5 74.14 L222 73.98 Z" fill="none" stroke="#222" stroke-width="0.75"/><path d="M226 82.48 L226.51 82.5 L227.5 82.64 L228.5 82.96 L229 83.15 L229.69 83.5 L230.5 83.98 L231 84.33 L231.5 84.73 L232 85.2 L232.5 85.75 L233 86.42 L233.34 87 L233.57 87.5 L233.86 88.5 L233.95 89.5 L233.83 90.5 L233.5 91.47 L233.23 92 L232.89 92.5 L232.47 93 L231.96 93.5 L231.3 94 L230.5 94.48 L230 94.73 L229.28 95 L228.5 95.24 L227.5 95.45 L227 95.52 L226 95.61 L225 95.64 L224 95.63 L223 95.6 L222 95.59 L221 95.61 L220 95.67 L219 95.76 L218 95.87 L217 95.97 L216.5 96.02 L215.5 96.11 L214.5 96.2 L213.5 96.34 L212.77 96.5 L212 96.72 L211.21 97 L210.5 97.28 L209.94 97.5 L209 97.88 L208.5 98.07 L207.5 98.43 L207 98.59 L206 98.88 L205.45 99 L204.5 99.16 L203.5 99.18 L202.5 99.02 L202 98.86 L201.31 98.5 L200.64 98 L200.18 97.5 L199.83 97 L199.5 96.3 L199.25 95.5 L199.16 94.5 L199.26 93.5 L199.5 92.77 L199.86 92 L200.2 91.5 L200.63 91 L201.18 90.5 L201.89 90 L202.5 89.65 L203 89.43 L204 89.09 L204.5 88.98 L205.5 88.8 L206.5 88.73 L207.5 88.73 L208.5 88.78 L209.5 88.86 L210.5 88.94 L211.5 88.97 L212.5 88.93 L213.5 88.82 L214.5 88.67 L215.32 88.5 L216 88.32 L216.9 88 L217.5 87.71 L218 87.41 L218.57 87 L219.15 86.5 L219.68 86 L220.2 85.5 L220.74 85 L221.31 84.5 L221.95 84 L222.5 83.61 L223 83.31 L223.65 83 L224.5 82.68 L225.5 82.51 L226 82.48 Z" fill="none" stroke="#222" stroke-width="0.75"/><path d="M225 86.39 L226 86.2 L227 86.23 L228 86.47 L228.5 86.7 L229.01 87 L229.58 87.5 L230 88.07 L230.35 89 L230.33 90 L230 90.83 L229.5 91.48 L229 91.89 L228.5 92.2 L227.79 92.5 L227 92.71 L226 92.83 L225 92.81 L224 92.67 L223.26 92.5 L222.5 92.23 L221.98 92 L221.32 91.5 L221.06 90.5 L221.42 89.5 L221.72 89 L222.07 88.5 L222.5 87.99 L223 87.5 L223.67 87 L224.5 86.57 L225 86.39 Z" fill="none" stroke="#222" stroke-width="0.75"/><path d="M205 90.49 L206 90.35 L207 90.36 L207.99 90.5 L208.5 90.61 L209.5 90.92 L210 91.13 L210.78 91.5 L211.5 91.99 L211.96 92.5 L212.05 93 L211.88 93.5 L211.5 94.02 L211 94.53 L210.47 95 L209.79 95.5 L209 95.98 L208.5 96.24 L207.93 96.5 L207 96.84 L206.42 97 L205.5 97.18 L204.5 97.23 L203.5 97.09 L203 96.91 L202.33 96.5 L201.83 96 L201.5 95.44 L201.25 94.5 L201.33 93.5 L201.51 93 L202 92.19 L202.5 91.67 L203 91.29 L203.5 91 L204.5 90.61 L205 90.49 Z" fill="none" stroke="#222" stroke-width="0.75"/><path d="M205.5 91.89 L206.5 91.86 L207.23 92 L208 92.39 L208.5 92.96 L208.61 93.5 L208.46 94 L208 94.58 L207.44 95 L206.5 95.4 L206 95.53 L205 95.57 L204.5 95.48 L203.68 95 L203.35 94.5 L203.32 93.5 L203.57 93 L204.04 92.5 L205 92 L205.5 91.89 Z" fill="none" stroke="#222" stroke-width="0.75"/></g>
<line x1="214.6" y1="34.8" x2="214.6" y2="101.8" stroke="#666" stroke-width="0.6"/>
<line x1="196.5" y1="80.8" x2="262.3" y2="80.8" stroke="#666" stroke-width="0.6"/>
<text x="249.2" y="42.82" font-size="5.4" text-anchor="middle" font-weight="normal" fill="#111" stroke="#111" stroke-width="0.13" transform="matrix(1,0,0,1.2,0,-8.56)">12.67%</text>
<path d="M303.1 78.44h0.85M288.74 63.79h0.85M303.51 65.32h0.85M312.72 68.37h0.85M302.8 77.53h0.85M298.9 65.66h0.85M298.15 66.51h0.85M310.4 76.75h0.85M290.05 76.62h0.85M296.17 68.57h0.85M300.45 63.73h0.85M302.58 60.93h0.85M293.72 66.46h0.85M299.3 56.5h0.85M294.92 75.87h0.85M297.9 66.9h0.85M296.01 74.13h0.85M288.44 83.14h0.85M296.84 78.62h0.85M303.58 63.52h0.85M289.75 76.65h0.85M295.19 78.53h0.85M301.99 66.15h0.85M288.98 64.8h0.85M298.37 70.29h0.85M289.05 60.59h0.85M305.51 80.56h0.85M314.35 55.37h0.85M312.17 63.81h0.85M295.36 69.25h0.85M302.55 69.52h0.85M297.91 72.08h0.85M297.77 72.76h0.85M308.61 69.61h0.85M287.11 78.39h0.85M304.91 57.09h0.85M296.63 71h0.85M307.56 66.36h0.85M298.4 71.86h0.85M291.95 72.43h0.85M299.08 65.07h0.85M302.52 66.83h0.85M297.27 76.15h0.85M300.66 73.27h0.85M293.09 66.58h0.85M281 84.26h0.85M303.75 86.01h0.85M302.24 61.49h0.85M298.11 72.96h0.85M297.51 87.31h0.85M304.77 76.1h0.85M293.57 72.44h0.85M291.7 69.65h0.85M295.59 67.48h0.85M305.92 69.62h0.85M286.6 67.42h0.85M305.94 75.84h0.85M292.21 68.41h0.85M288.74 68.13h0.85M306.45 63.19h0.85M296.27 70.68h0.85M287.25 65.19h0.85M294.31 69.83h0.85M303.98 77.77h0.85M305.94 73.38h0.85M293.8 74.28h0.85M300.05 73.31h0.85M302.36 71.38h0.85M292.17 70.17h0.85M299.66 69h0.85M296.76 75.93h0.85M292.98 63.95h0.85M293.31 79.71h0.85M297.5 71.22h0.85M297.22 66.13h0.85M292.76 67.82h0.85M293.81 66.6h0.85M305.35 72.04h0.85M298.6 66.33h0.85M303.64 78.42h0.85M306.01 65.92h0.85M301.42 56.23h0.85M314.03 66.25h0.85M290.81 57.94h0.85M303.06 70.74h0.85M294.61 77.88h0.85M310.92 75.21h0.85M309.75 62.31h0.85M282.34 66.05h0.85M289.73 82.56h0.85M301.98 73.07h0.85M302.92 71.03h0.85M302.52 77.86h0.85M296.47 86.94h0.85M300.41 79.43h0.85M301.9 71.91h0.85M296.42 73.31h0.85M304.7 75.01h0.85M280.05 67.02h0.85M301.75 64.12h0.85M289.24 71.34h0.85M304.19 64.84h0.85M295.28 70.6h0.85M290.33 71.62h0.85M299.8 86.22h0.85M290.16 65.47h0.85M290.15 70.21h0.85M285.25 69.93h0.85M296.8 73.84h0.85M300.73 77.8h0.85M304.67 67.81h0.85M295.94 65.66h0.85M304.86 60.34h0.85M297.13 64.98h0.85M296.3 74.49h0.85M301.3 71.3h0.85M304.94 64.4h0.85M294.44 68.58h0.85M295.17 71.2h0.85M295.79 74.27h0.85M297.62 67.14h0.85M290.25 69.37h0.85M304.71 59.18h0.85M294 63.52h0.85M300.47 81.52h0.85M290.81 56.78h0.85M299.69 68.8h0.85M299.94 72.42h0.85M293.84 68.57h0.85M312.16 65.75h0.85M299.78 70.6h0.85M310.33 70.97h0.85M304.19 70.47h0.85M292.03 58.79h0.85M294.13 70.04h0.85M300.27 65.44h0.85M297.46 67.44h0.85M297.37 72.48h0.85M294.85 75.16h0.85M283.44 76.83h0.85M295.31 67.77h0.85M280.36 77.01h0.85M299.79 78.63h0.85M291.55 78.39h0.85M291.63 80.03h0.85M295.36 70.05h0.85M299.05 69.87h0.85M286.26 76.36h0.85M283.89 62.12h0.85M289 72.36h0.85M281.69 67.55h0.85M289.75 68.6h0.85M308.93 59.68h0.85M289.08 65.21h0.85M301.89 70.87h0.85M286.71 76.77h0.85M299.24 77.44h0.85M294.6 70.48h0.85M296.55 69.77h0.85M301.27 65.6h0.85M310.17 73.62h0.85M298.46 69.39h0.85M297.93 74.94h0.85M289.7 82.39h0.85M301.38 70.79h0.85M295.15 61.27h0.85M303.24 65.4h0.85M296.67 61.52h0.85M310.06 63.22h0.85M282.13 79.48h0.85M294.78 72.47h0.85M303.61 61.12h0.85M294.37 75.25h0.85M291.06 79.19h0.85M295.01 68.66h0.85M286.65 66.61h0.85M297.89 68.81h0.85M315.3 72.85h0.85M289.2 80.88h0.85M291.91 77.35h0.85M292.06 79.84h0.85M291.93 88.05h0.85M292.81 71.49h0.85M289.31 81.29h0.85M278.35 75.47h0.85M285.35 80.94h0.85M287.57 84.2h0.85M284.08 79.71h0.85M290.56 83.86h0.85M284.2 72.05h0.85M281.37 85.53h0.85M293.22 76.98h0.85M289.33 83.11h0.85M287.1 80.91h0.85M290.63 67.07h0.85M291.31 76.22h0.85M287.71 81.1h0.85M282.62 81.44h0.85M283.72 81.29h0.85M281.08 72.94h0.85M286.99 87.16h0.85M291.96 89.04h0.85M283.58 80.14h0.85M280.33 78.9h0.85M296.14 71.9h0.85M283.74 84.42h0.85M279.84 93.51h0.85M287.19 83.59h0.85M288.13 86.32h0.85M282.47 82.71h0.85M289.95 75.07h0.85M283.56 86.68h0.85M281.39 73.83h0.85M286.89 78.95h0.85M289.85 81.39h0.85M282.83 84.41h0.85M287.65 82.08h0.85M285.53 81.93h0.85M300.12 76.19h0.85M282.46 73.55h0.85M292.92 80.31h0.85M285.74 76.45h0.85M285.37 73.46h0.85M289.61 73.67h0.85M290.47 77.55h0.85M292.34 70.74h0.85M287.64 73.26h0.85M283 71.82h0.85M283.31 80.91h0.85M288.55 82.04h0.85M288.9 90.04h0.85M292.99 72.51h0.85M288.09 76.6h0.85M291.3 84.56h0.85M293.58 78.92h0.85M286.82 78.37h0.85M278.57 88.55h0.85M280.1 78.31h0.85M278.81 74.22h0.85M293.96 73.42h0.85M281.76 81.68h0.85M292.16 81.53h0.85M288.93 73.14h0.85M294.58 75.07h0.85M291.02 82.67h0.85M285.49 82.89h0.85M285 76.78h0.85M286.43 83.11h0.85M308.15 90.51h0.85M286.95 82.58h0.85M300.19 86.59h0.85M306.74 92.34h0.85M297.84 91.11h0.85M283.75 96h0.85M300.45 90.4h0.85M317.22 86.42h0.85M283.28 91.3h0.85M326.52 80.42h0.85M292.86 83.73h0.85M311.61 96.64h0.85M314.11 85.29h0.85M311.85 92.65h0.85M304.35 89.69h0.85M292.55 84.78h0.85M308.64 88.26h0.85M296.56 87.43h0.85M280.3 87.56h0.85M328.46 93.77h0.85M309.37 93.26h0.85M319.36 87.11h0.85M294.8 85.46h0.85M316.21 91.41h0.85M317.31 89.5h0.85M316.99 95.14h0.85M292.18 94.21h0.85M301.4 89.83h0.85M283.18 89.14h0.85M287.68 85.72h0.85M303.83 85.47h0.85M294.08 84.98h0.85M301.52 88.02h0.85M302.02 87.86h0.85M320.38 93.72h0.85M314.68 88.01h0.85M302.6 89.01h0.85M313.88 83.91h0.85M295.98 98.22h0.85M299.97 92.53h0.85M311.19 98.94h0.85M291.83 93.98h0.85M300.49 97.45h0.85M291.11 88.76h0.85M304.06 93.59h0.85M296.23 83.88h0.85M305.03 95.88h0.85M294.92 98.49h0.85M292.65 92.11h0.85M291.88 93.83h0.85M316.09 96.4h0.85M324.26 86.65h0.85M307.35 92.09h0.85M296.55 85.56h0.85M309.34 86.54h0.85M299.99 86.84h0.85M310.21 89.27h0.85M305.62 90.75h0.85M305.52 92.32h0.85M308.47 82.75h0.85M297.78 100.13h0.85M299.36 95.92h0.85M287.51 93.72h0.85M299.02 88.17h0.85M290.2 89.54h0.85M301.7 92.81h0.85M294.38 92.11h0.85M303.91 81.39h0.85M307.08 93.8h0.85M295.68 80.53h0.85M294.51 95.1h0.85M309.72 91.89h0.85M318.36 89.43h0.85M310.66 97.04h0.85M299.86 83.93h0.85M316.19 90.84h0.85M289.37 97.51h0.85M316.49 88.99h0.85M297.09 87.85h0.85M277.98 90.59h0.85M326.86 87.72h0.85M317.2 97.95h0.85M293.71 85.34h0.85M304.52 94.48h0.85M301.07 83.57h0.85" stroke="#9a9a9a" stroke-width="0.85" opacity="1" fill="none"/>
<g clip-path="url(#cA4)"><path d="M306.5 74.49 L307.5 74.34 L308.5 74.34 L309.5 74.49 L310 74.62 L310.98 75 L311.5 75.28 L312 75.61 L312.5 76.02 L313 76.54 L313.5 77.21 L313.93 78 L314.12 78.5 L314.37 79.5 L314.48 80.5 L314.49 81.5 L314.49 82.5 L314.51 83 L314.63 84 L314.86 85 L315 85.51 L315.31 86.5 L315.5 87.22 L315.69 88 L315.82 89 L315.83 90 L315.69 91 L315.5 91.63 L315.15 92.5 L314.87 93 L314.5 93.54 L314 94.16 L313.5 94.67 L313 95.12 L312.5 95.5 L311.76 96 L311 96.44 L310.5 96.7 L309.8 97 L309 97.32 L308.43 97.5 L307.5 97.79 L306.58 98 L306 98.13 L305 98.32 L304 98.47 L303.5 98.54 L302.5 98.67 L301.5 98.79 L300.5 98.9 L299.5 98.99 L299 99.04 L298 99.14 L297 99.22 L296 99.28 L295 99.33 L294 99.37 L293 99.41 L292 99.47 L291.5 99.51 L290.5 99.64 L289.5 99.77 L288.5 99.92 L287.98 100 L287 100.22 L286 100.46 L285.5 100.6 L284.5 100.91 L284 101.06 L283 101.34 L282 101.49 L281.5 101.53 L280.61 101.5 L280 101.42 L279 101.12 L278.5 100.89 L277.85 100.5 L277.22 100 L276.73 99.5 L276.35 99 L276 98.41 L275.6 97.5 L275.45 97 L275.27 96 L275.25 95 L275.39 94 L275.52 93.5 L275.87 92.5 L276.13 92 L276.5 91.41 L277 90.75 L277.5 90.21 L278 89.76 L278.5 89.36 L279.05 89 L279.93 88.5 L280.5 88.21 L281.04 88 L282 87.64 L282.55 87.5 L283.5 87.25 L284.5 87.08 L285.11 87 L286 86.88 L287 86.77 L288 86.67 L289 86.55 L289.5 86.46 L290.5 86.18 L291.06 86 L292 85.58 L292.5 85.32 L293.09 85 L293.95 84.5 L294.5 84.17 L295 83.87 L295.66 83.5 L296.5 83.03 L297 82.74 L297.5 82.48 L298.33 82 L299 81.57 L299.5 81.2 L300 80.78 L300.5 80.25 L301 79.57 L301.34 79 L301.62 78.5 L302 77.84 L302.5 77.09 L302.99 76.5 L303.5 76 L304 75.6 L304.5 75.27 L305.01 75 L306 74.62 L306.5 74.49 Z" fill="none" stroke="#222" stroke-width="0.75"/><path d="M303 83.92 L304 83.77 L305 83.71 L306 83.75 L307 83.95 L307.5 84.11 L308.34 84.5 L309 84.91 L309.5 85.3 L310 85.76 L310.5 86.32 L310.99 87 L311.28 87.5 L311.51 88 L311.8 89 L311.86 90 L311.68 91 L311.49 91.5 L311 92.34 L310.5 92.95 L310 93.43 L309.5 93.82 L309 94.16 L308.39 94.5 L307.5 94.91 L307 95.11 L306 95.43 L305.5 95.56 L304.5 95.79 L303.5 95.97 L303 96.05 L302 96.2 L301 96.34 L300 96.46 L299.5 96.51 L298.5 96.63 L297.5 96.74 L296.5 96.83 L295.5 96.9 L294.5 96.98 L294 97.02 L293 97.14 L292 97.29 L291 97.48 L290.5 97.59 L289.5 97.82 L288.61 98 L288 98.13 L287 98.32 L286 98.49 L285.5 98.58 L284.5 98.76 L283.5 98.92 L282.67 99 L282 99.03 L281.41 99 L280.5 98.83 L279.74 98.5 L279.03 98 L278.57 97.5 L278.24 97 L278 96.43 L277.78 95.5 L277.79 94.5 L278 93.58 L278.21 93 L278.5 92.47 L279 91.77 L279.5 91.22 L280 90.78 L280.5 90.41 L281.18 90 L282 89.6 L282.5 89.4 L283.5 89.09 L284 88.98 L285 88.79 L286 88.7 L287 88.66 L288 88.66 L289 88.68 L290 88.67 L291 88.61 L291.74 88.5 L292.5 88.31 L293.41 88 L294 87.74 L294.51 87.5 L295.43 87 L296 86.68 L296.5 86.39 L297.22 86 L298 85.59 L298.5 85.35 L299.33 85 L300 84.74 L300.72 84.5 L301.5 84.26 L302.5 84.03 L303 83.92 Z" fill="none" stroke="#222" stroke-width="0.75"/><path d="M303.5 86.99 L304 87 L305 87.15 L306 87.5 L306.5 87.79 L307 88.2 L307.5 88.85 L307.75 89.5 L307.71 90.5 L307.5 91.01 L307 91.66 L306.5 92.1 L305.87 92.5 L305 92.89 L304.5 93.06 L303.5 93.32 L302.54 93.5 L302 93.57 L301 93.68 L300 93.76 L299 93.83 L298 93.89 L297 93.94 L296 93.99 L295.5 94.02 L294.5 94.11 L293.5 94.29 L292.89 94.5 L292 94.84 L291.5 95.07 L290.58 95.5 L290 95.75 L289.38 96 L288.5 96.3 L287.79 96.5 L287 96.68 L286 96.84 L285 96.94 L284 96.98 L283 96.92 L282 96.7 L281.5 96.48 L280.87 96 L280.5 95.46 L280.27 94.5 L280.44 93.5 L280.67 93 L281.01 92.5 L281.5 91.97 L282.09 91.5 L282.96 91 L283.5 90.77 L284.43 90.5 L285 90.39 L286 90.28 L287 90.29 L288 90.39 L288.69 90.5 L289.5 90.66 L290.5 90.89 L291 91 L292 91.19 L293 91.23 L294 91.08 L294.5 90.93 L295.48 90.5 L296 90.23 L296.5 89.93 L297.18 89.5 L297.95 89 L298.5 88.66 L299 88.35 L299.65 88 L300.5 87.61 L301 87.42 L302 87.15 L303 87.01 L303.5 86.99 Z" fill="none" stroke="#222" stroke-width="0.75"/><path d="M285 91.88 L286 91.76 L287 91.84 L287.64 92 L288.5 92.45 L288.97 93 L289.04 93.5 L288.83 94 L288.32 94.5 L287.5 94.96 L287 95.13 L286 95.34 L285 95.38 L284 95.21 L283.47 95 L282.93 94.5 L282.83 93.5 L283.1 93 L283.61 92.5 L284.5 92.03 L285 91.88 Z" fill="none" stroke="#222" stroke-width="0.75"/></g>
<line x1="292.6" y1="34.8" x2="292.6" y2="101.8" stroke="#666" stroke-width="0.6"/>
<line x1="273.4" y1="81.1" x2="340.3" y2="81.1" stroke="#666" stroke-width="0.6"/>
<text x="327.4" y="42.82" font-size="5.4" text-anchor="middle" font-weight="normal" fill="#111" stroke="#111" stroke-width="0.13" transform="matrix(1,0,0,1.2,0,-8.56)">10.97%</text>
<path d="M377.5 69.6h0.85M371.14 66.39h0.85M371.95 65.48h0.85M363.23 56.72h0.85M368.35 82.2h0.85M384.65 68.21h0.85M362.81 71.55h0.85M363.28 62.82h0.85M383.85 63.4h0.85M372.95 64.75h0.85M384.68 71.11h0.85M374.66 76.96h0.85M364.74 55.62h0.85M371.45 80.02h0.85M382.11 64.54h0.85M379.74 65.47h0.85M372.01 79.42h0.85M372.4 73.4h0.85M371.07 61.71h0.85M367.24 88.76h0.85M387.89 67.12h0.85M372.06 75.98h0.85M362.7 75.6h0.85M368.08 85.29h0.85M377.97 70.35h0.85M377.28 82.06h0.85M370.87 68.06h0.85M366.5 82.98h0.85M372.2 67.9h0.85M358.23 71.1h0.85M361.29 89.17h0.85M378.57 76.54h0.85M368.06 74.88h0.85M375.08 91.94h0.85M382.02 76.89h0.85M377.34 67.47h0.85M372.17 79.88h0.85M389.5 64.55h0.85M377.49 83.03h0.85M369.08 83.65h0.85M378.02 69.42h0.85M375.35 68.98h0.85M364.96 75.41h0.85M372.6 74.11h0.85M370.64 66.18h0.85M355.83 78.54h0.85M370.58 57.66h0.85M369.67 70.54h0.85M368.39 70.77h0.85M358.47 71.81h0.85M369.08 76.46h0.85M371.67 64.18h0.85M372.84 78.71h0.85M362.66 72.56h0.85M377.2 68.8h0.85M362 63.07h0.85M370.16 64.54h0.85M382.73 76.88h0.85M366.31 66.29h0.85M367.8 74.51h0.85M380.83 82.5h0.85M368.84 82.26h0.85M369.56 86.48h0.85M373.82 71.63h0.85M380.63 65.32h0.85M353.88 82.16h0.85M365.19 76.48h0.85M363.72 82.99h0.85M363.08 74.09h0.85M364.98 83.57h0.85M365.11 80.77h0.85M374.47 79.73h0.85M364.7 78.03h0.85M373 77.18h0.85M375.29 75.86h0.85M366.02 75.81h0.85M373.07 81.92h0.85M385.42 69.9h0.85M374.64 87.89h0.85M366.78 73.15h0.85M371.47 81.88h0.85M364.5 73.28h0.85M374.22 72.03h0.85M379.06 90.26h0.85M365.3 71.53h0.85M370.29 63.78h0.85M381.1 68.29h0.85M367.93 71.46h0.85M373.54 91.24h0.85M363.63 75.65h0.85M365.31 81.48h0.85M367.81 65.99h0.85M389.41 76.82h0.85M368.73 79.37h0.85M367.76 88.41h0.85M367.49 68.43h0.85M370.68 78.83h0.85M377.25 76.42h0.85M373.52 65.83h0.85M388.46 73.84h0.85M373.71 71.89h0.85M383.58 55.4h0.85M374.21 78.79h0.85M376.84 78.32h0.85M360.45 70.49h0.85M370.98 63.29h0.85M371.45 85.84h0.85M370.06 76.13h0.85M354.78 82.13h0.85M379.04 85.28h0.85M368.9 69.83h0.85M368.5 80.5h0.85M369.96 72.07h0.85M370.18 73.5h0.85M375.26 73.32h0.85M361.83 73.99h0.85M364.55 82.91h0.85M374.33 74.99h0.85M373.16 72.77h0.85M368.99 71.79h0.85M367.41 76.73h0.85M365.32 66.84h0.85M371.53 69.98h0.85M381.45 73.58h0.85M363.54 69.47h0.85M384.19 73.05h0.85M378.75 69.11h0.85M368.38 90.03h0.85M378.26 84.63h0.85M360.27 77.6h0.85M358.15 73.57h0.85M361.68 91.53h0.85M368.72 76.58h0.85M369.4 73.31h0.85M367.88 76.43h0.85M372.8 76.45h0.85M354.92 85.28h0.85M375.96 73.85h0.85M360.65 90.79h0.85M366.71 66.94h0.85M368.7 79.55h0.85M362.75 65.99h0.85M361.03 88.54h0.85M363.95 71.36h0.85M371.9 73.53h0.85M376.72 81.39h0.85M376.51 84.04h0.85M364.04 65.1h0.85M365.67 71.23h0.85M364.64 62.84h0.85M375.6 75.1h0.85M355.7 73.19h0.85M381.91 71.21h0.85M368.12 68.52h0.85M365.73 70.91h0.85M374.72 68.03h0.85M380.26 78.23h0.85M374.74 86.13h0.85M380.42 58.55h0.85M373.07 73.07h0.85M381.84 70.65h0.85M381.96 77.94h0.85M371.2 66.39h0.85M383.51 72.83h0.85M373.32 65.68h0.85M372.7 79.57h0.85M364.63 74.79h0.85M369.69 72.71h0.85M378.22 76.96h0.85M361.5 72.03h0.85M377.2 61.57h0.85M374.79 78.77h0.85M374.22 76.31h0.85M354.35 72.77h0.85M371.17 81.88h0.85M377.19 83.75h0.85M365.9 65.26h0.85M372.72 67.75h0.85M377.37 85.35h0.85M366.7 68.09h0.85M378.97 64.55h0.85M357.26 68.9h0.85M377.54 70.02h0.85M370.1 61.33h0.85M378.46 74.25h0.85M364.59 63.76h0.85M367.05 64.32h0.85M389.94 81.33h0.85M365.36 68.53h0.85M366.35 73.43h0.85M369.79 79.03h0.85M363.82 80.51h0.85M381.52 71.3h0.85M385.8 74.35h0.85M366.37 67.4h0.85M358.19 87.98h0.85M381.38 79.2h0.85M380.87 65.17h0.85M378.57 74.03h0.85M381.25 79.71h0.85M365.06 77.84h0.85M370.65 88.63h0.85M360.93 84.98h0.85M360.65 69.69h0.85M379.85 73.29h0.85M366.62 63.75h0.85M390.24 76h0.85M372.59 75.21h0.85M366.88 95.63h0.85M378.38 74.78h0.85M386.41 57.25h0.85M375.89 68.62h0.85M362.26 74.9h0.85M374.97 63.95h0.85M383 67.06h0.85M368.05 71.07h0.85M365.81 76.73h0.85M380.13 72.68h0.85M373.12 66.89h0.85M363.18 80.3h0.85M368.96 69.68h0.85M365.95 70.01h0.85M374.37 62.96h0.85M372.88 67.71h0.85M381.2 79.21h0.85M377.68 61.06h0.85M359.49 73.43h0.85M375.26 79.74h0.85M379.18 70.98h0.85M375.65 75.92h0.85M380.24 65.07h0.85M379.79 92.83h0.85M370.12 84.03h0.85M358.59 91.51h0.85M376.79 83.39h0.85M383.42 88.34h0.85M370.67 88.6h0.85M379.23 85.86h0.85M366.3 78.56h0.85M368.01 92.29h0.85M371.81 91.99h0.85M354.24 86.52h0.85M376.47 90.9h0.85M379.9 95.27h0.85M357.66 90.92h0.85M355.8 92.5h0.85M371.16 94.16h0.85M362.11 77.81h0.85M369.4 95.88h0.85M363.71 96.08h0.85M387.02 81.55h0.85M369.25 89.29h0.85M361.22 85.13h0.85M368.91 86.48h0.85M358.64 95.8h0.85M361.14 85.18h0.85M371.48 89.22h0.85M363.01 78.55h0.85M363.94 89.05h0.85M383.02 90.54h0.85M375.74 85.77h0.85M375.23 85.68h0.85M372.36 82.74h0.85M381.11 83.7h0.85M367.82 85.15h0.85M384.7 97.19h0.85M365.7 91.99h0.85M355.59 85.7h0.85M364.91 87.43h0.85M372.67 96.39h0.85M381.06 84.53h0.85M362.03 98.72h0.85M368.05 98.5h0.85M364.77 90.42h0.85M361.35 93.88h0.85M357.3 94.5h0.85M368.55 99.33h0.85M368.99 97.09h0.85M368.19 87.75h0.85M362.08 85.39h0.85M358.9 90.62h0.85M355.54 88.71h0.85M384.84 84.08h0.85M355.92 80.42h0.85M382.02 84.35h0.85M373.4 98.71h0.85M357.59 93.9h0.85M377.38 97.12h0.85M383.57 86.9h0.85M359.59 89.54h0.85M365.31 91.7h0.85M377.46 83.51h0.85M371.02 84.06h0.85M386 90.58h0.85M362.87 88.08h0.85M372.88 83.62h0.85M356.74 92.32h0.85M386.86 88.42h0.85M361.43 96.13h0.85M366.87 88.2h0.85M366.75 90.77h0.85M385.24 88.97h0.85M364.95 85.99h0.85M367.89 87.59h0.85M373.34 94.5h0.85M382.28 93.88h0.85M367.43 97.72h0.85M377.36 79.84h0.85M372.66 87.64h0.85M365.33 87.51h0.85M368.7 91.03h0.85M368.26 87.29h0.85M359.76 86.92h0.85M378.92 94.7h0.85M355.53 91.07h0.85M378.54 83h0.85M376.59 98.01h0.85M367.16 95.98h0.85M361.11 86.56h0.85M365.96 94.99h0.85M372.25 85.59h0.85M374.69 96.75h0.85M370.58 88.69h0.85M376.93 85.18h0.85M362.98 87.76h0.85M370.11 85.41h0.85M353.88 91.15h0.85M374.87 91.05h0.85M369.38 90.21h0.85M364.26 86.66h0.85M378.45 68.03h0.85M374.22 90.56h0.85M368.36 91.47h0.85M354.9 96.78h0.85M377.6 91.64h0.85M390.4 87.66h0.85M363.33 88.92h0.85M368.67 89.2h0.85M365.74 86.7h0.85M371.16 86.5h0.85M373.8 84.46h0.85M379.58 97.13h0.85M359.11 89.91h0.85M382.14 95.74h0.85M359.62 88.5h0.85M370.49 90.43h0.85M378.43 88.98h0.85M374.42 92.78h0.85M359.55 94.96h0.85M361.68 91.44h0.85M363.84 85.96h0.85M367.54 85.32h0.85M378.32 99.96h0.85M356.37 88.32h0.85M372.2 88.25h0.85M373.49 98.79h0.85M373.02 96.53h0.85M372.2 93.2h0.85M381.66 87.6h0.85M375.71 92.36h0.85M373.07 93.28h0.85M384.14 88.97h0.85M379.54 81.99h0.85M365.65 92.44h0.85M365.47 92.35h0.85M359.27 88.56h0.85M364.56 81.35h0.85M361.81 88.03h0.85M372.45 81.26h0.85M354.75 95.39h0.85M380.88 96.92h0.85M365.77 95.27h0.85M361.62 86.44h0.85M360.92 84.77h0.85M357.83 69.29h0.85M363.1 86.43h0.85M368.05 88.94h0.85M366.4 95.81h0.85M355.27 93.67h0.85M365.61 93.53h0.85M359.96 91.28h0.85M369.44 93.97h0.85M384.78 98.69h0.85M373.63 83.61h0.85M365.18 87.26h0.85M353.38 81.67h0.85M355.27 99.71h0.85M374.53 94.51h0.85M361.11 82.81h0.85M368.56 91.04h0.85M362.4 88.59h0.85M368.82 90.48h0.85M380.62 88.87h0.85M361.84 93.12h0.85M364.93 87.63h0.85M360.74 95.13h0.85M375.87 91.45h0.85M358.77 88.24h0.85M357.8 89.33h0.85M355.51 87.36h0.85M355.32 94.88h0.85" stroke="#9a9a9a" stroke-width="0.85" opacity="1" fill="none"/>
<g clip-path="url(#cA5)"><path d="M366.5 83.97 L367.5 83.9 L368.5 83.88 L369.5 83.9 L370.5 83.96 L371 84 L372 84.1 L373 84.24 L374 84.43 L374.5 84.54 L375.5 84.76 L376.29 85 L377 85.21 L377.79 85.5 L378.5 85.77 L379 86 L380 86.5 L380.5 86.77 L381 87.09 L381.57 87.5 L382.19 88 L382.72 88.5 L383.16 89 L383.52 89.5 L384 90.37 L384.25 91 L384.42 92 L384.37 93 L384.07 94 L383.83 94.5 L383.5 95.02 L383 95.65 L382.5 96.15 L382 96.57 L381.41 97 L380.58 97.5 L380 97.81 L379.5 98.02 L378.5 98.42 L378 98.59 L377 98.89 L376.49 99 L375.5 99.24 L374.5 99.41 L373.86 99.5 L373 99.63 L372 99.76 L371 99.86 L370 99.93 L369 99.98 L368.38 100 L367.5 100.02 L366.5 100.01 L366 99.99 L365 99.93 L364 99.83 L363 99.68 L362.22 99.5 L361.5 99.34 L360.5 99.04 L360 98.87 L359.11 98.5 L358.5 98.22 L358 97.95 L357.28 97.5 L356.6 97 L356.04 96.5 L355.56 96 L355.17 95.5 L354.85 95 L354.5 94.21 L354.28 93.5 L354.17 92.5 L354.27 91.5 L354.5 90.74 L354.81 90 L355.1 89.5 L355.5 88.92 L356 88.32 L356.5 87.81 L357 87.37 L357.5 86.99 L358.21 86.5 L359 86.04 L359.5 85.78 L360.11 85.5 L361 85.13 L361.5 84.96 L362.5 84.65 L363.13 84.5 L364 84.3 L365 84.13 L366 84.01 L366.5 83.97 Z" fill="none" stroke="#222" stroke-width="0.75"/><path d="M366.5 86.94 L367.5 86.82 L368.5 86.74 L369.5 86.7 L370.5 86.69 L371.5 86.73 L372.5 86.8 L373.5 86.93 L374 87.01 L375 87.2 L376 87.47 L376.5 87.63 L377.46 88 L378 88.25 L378.5 88.52 L379.24 89 L379.85 89.5 L380.34 90 L380.71 90.5 L381 91.07 L381.26 92 L381.21 93 L381 93.62 L380.5 94.47 L380.03 95 L379.5 95.46 L379 95.82 L378.5 96.12 L377.72 96.5 L377 96.8 L376.4 97 L375.5 97.27 L374.5 97.5 L374 97.61 L373 97.79 L372 97.93 L371.42 98 L370.5 98.11 L369.5 98.21 L368.5 98.27 L367.5 98.3 L366.5 98.29 L365.5 98.22 L364.5 98.11 L363.92 98 L363 97.81 L362 97.51 L361.5 97.34 L360.75 97 L360 96.59 L359.5 96.25 L359 95.84 L358.5 95.32 L358 94.58 L357.74 94 L357.58 93 L357.73 92 L358 91.37 L358.5 90.6 L359 90.04 L359.5 89.59 L360 89.21 L360.5 88.89 L361.2 88.5 L362 88.12 L362.5 87.92 L363.5 87.58 L364 87.44 L365 87.2 L366 87.02 L366.5 86.94 Z" fill="none" stroke="#444" stroke-width="0.65"/><path d="M369.5 88.98 L370.5 88.95 L371.5 88.97 L372.05 89 L373 89.09 L374 89.26 L374.9 89.5 L375.5 89.71 L376.13 90 L376.9 90.5 L377.43 91 L377.76 91.5 L377.99 92.5 L377.66 93.5 L377.27 94 L376.68 94.5 L376 94.91 L375.5 95.16 L374.6 95.5 L374 95.69 L373 95.94 L372.5 96.05 L371.5 96.24 L370.5 96.39 L369.58 96.5 L369 96.56 L368 96.62 L367 96.62 L366 96.56 L365.46 96.5 L364.5 96.33 L363.5 96.04 L363 95.83 L362.35 95.5 L361.66 95 L361.2 94.5 L360.9 94 L360.73 93 L361 92.14 L361.45 91.5 L361.99 91 L362.5 90.65 L363 90.36 L363.83 90 L364.5 89.76 L365.48 89.5 L366 89.38 L367 89.21 L368 89.09 L369 89.01 L369.5 88.98 Z" fill="none" stroke="#666" stroke-width="0.6"/><path d="M367 90.91 L368 90.77 L369 90.69 L370 90.67 L371 90.71 L372 90.82 L372.88 91 L373.5 91.23 L374.03 91.5 L374.53 92 L374.55 93 L374.13 93.5 L373.5 93.91 L373 94.15 L372.06 94.5 L371.5 94.65 L370.5 94.88 L369.87 95 L369 95.12 L368 95.19 L367 95.18 L366 95.07 L365.5 94.95 L364.5 94.56 L364 94.2 L363.51 93.5 L363.48 93 L363.69 92.5 L364.16 92 L364.98 91.5 L365.5 91.3 L366.5 91 L367 90.91 Z" fill="none" stroke="#777" stroke-width="0.6"/></g>
<line x1="370.1" y1="34.8" x2="370.1" y2="101.8" stroke="#666" stroke-width="0.6"/>
<line x1="352.4" y1="81.5" x2="418.4" y2="81.5" stroke="#666" stroke-width="0.6"/>
<text x="406.8" y="43.09" font-size="5.6" text-anchor="middle" font-weight="normal" fill="#111" stroke="#111" stroke-width="0.13" transform="matrix(1,0,0,1.2,0,-8.62)">5.05%</text>
<line x1="452.8" y1="32.5" x2="452.8" y2="101.3" stroke="#333" stroke-width="0.8"/>
<line x1="452.8" y1="101.3" x2="515.5" y2="101.3" stroke="#333" stroke-width="0.8"/>
<line x1="450.6" y1="32.5" x2="452.8" y2="32.5" stroke="#333" stroke-width="0.8"/>
<text x="449.2" y="34.67" font-size="6.1" text-anchor="end" font-weight="normal" fill="#2a2a2a" stroke="#2a2a2a" stroke-width="0.15">15</text>
<line x1="450.6" y1="55.4" x2="452.8" y2="55.4" stroke="#333" stroke-width="0.8"/>
<text x="449.2" y="57.57" font-size="6.1" text-anchor="end" font-weight="normal" fill="#2a2a2a" stroke="#2a2a2a" stroke-width="0.15">10</text>
<line x1="450.6" y1="78.4" x2="452.8" y2="78.4" stroke="#333" stroke-width="0.8"/>
<text x="449.2" y="80.57" font-size="6.1" text-anchor="end" font-weight="normal" fill="#2a2a2a" stroke="#2a2a2a" stroke-width="0.15">5</text>
<line x1="450.6" y1="101.3" x2="452.8" y2="101.3" stroke="#333" stroke-width="0.8"/>
<text x="449.2" y="103.47" font-size="6.1" text-anchor="end" font-weight="normal" fill="#2a2a2a" stroke="#2a2a2a" stroke-width="0.15">0</text>
<rect x="459.3" y="45.1" width="14" height="56.2" fill="#c4c4c4" stroke="#5a5a5a" stroke-width="0.75" rx="0"/>
<line x1="466.3" y1="40" x2="466.3" y2="53" stroke="#333" stroke-width="0.7"/>
<line x1="464.7" y1="40" x2="467.9" y2="40" stroke="#333" stroke-width="0.7"/>
<line x1="464.7" y1="53" x2="467.9" y2="53" stroke="#333" stroke-width="0.7"/>
<circle cx="466.3" cy="41.5" r="1.1" fill="none" stroke="#444" stroke-width="0.55"/>
<circle cx="466.3" cy="45.5" r="1.1" fill="none" stroke="#444" stroke-width="0.55"/>
<circle cx="466.3" cy="49.5" r="1.1" fill="none" stroke="#444" stroke-width="0.55"/>
<circle cx="467.3" cy="43" r="1.1" fill="none" stroke="#444" stroke-width="0.55"/>
<rect x="480.2" y="53.1" width="13.6" height="48.2" fill="#8ec0ec" stroke="#3a5a85" stroke-width="0.75" rx="0"/>
<line x1="487" y1="48.9" x2="487" y2="60.7" stroke="#3a5a85" stroke-width="0.7"/>
<line x1="485.4" y1="48.9" x2="488.6" y2="48.9" stroke="#3a5a85" stroke-width="0.7"/>
<line x1="485.4" y1="60.7" x2="488.6" y2="60.7" stroke="#3a5a85" stroke-width="0.7"/>
<circle cx="487" cy="50" r="1.1" fill="none" stroke="#3a5a85" stroke-width="0.55"/>
<circle cx="487" cy="54.5" r="1.1" fill="none" stroke="#3a5a85" stroke-width="0.55"/>
<circle cx="487" cy="58" r="1.1" fill="none" stroke="#3a5a85" stroke-width="0.55"/>
<rect x="500.6" y="74.7" width="13.6" height="26.6" fill="#f4868b" stroke="#963232" stroke-width="0.75" rx="0"/>
<line x1="507.4" y1="65.8" x2="507.4" y2="84.2" stroke="#963232" stroke-width="0.7"/>
<line x1="505.8" y1="65.8" x2="509" y2="65.8" stroke="#963232" stroke-width="0.7"/>
<line x1="505.8" y1="84.2" x2="509" y2="84.2" stroke="#963232" stroke-width="0.7"/>
<circle cx="507.4" cy="68" r="1.1" fill="none" stroke="#963232" stroke-width="0.55"/>
<circle cx="507.4" cy="74" r="1.1" fill="none" stroke="#963232" stroke-width="0.55"/>
<circle cx="507.4" cy="78" r="1.1" fill="none" stroke="#963232" stroke-width="0.55"/>
<circle cx="507.4" cy="82" r="1.1" fill="none" stroke="#963232" stroke-width="0.55"/>
<text x="466.3" y="109.44" font-size="6.3" text-anchor="middle" font-weight="normal" fill="#111" stroke="#111" stroke-width="0.15">T cell</text>
<text x="487" y="109.44" font-size="6.3" text-anchor="middle" font-weight="normal" fill="#111" stroke="#111" stroke-width="0.15">T+B</text>
<text x="507.4" y="109.44" font-size="6.3" text-anchor="middle" font-weight="normal" fill="#111" stroke="#111" stroke-width="0.15">T+Breg</text>
<text x="434.2" y="70.3" font-size="7.9" text-anchor="middle" font-weight="normal" fill="#111" stroke="#111" stroke-width="0.19" transform="rotate(-90 434.2 67.5)">% CD4<tspan font-size="65%" dy="-2.3">+</tspan><tspan dy="2.3"> Tfh cells</tspan></text>
<line x1="466.7" y1="34.1" x2="487.2" y2="34.1" stroke="#333" stroke-width="0.6"/>
<text x="477" y="32.7" font-size="4.5" text-anchor="middle" font-weight="normal" fill="#111" stroke="#111" stroke-width="0.11">NS</text>
<line x1="466.7" y1="27.4" x2="510" y2="27.4" stroke="#333" stroke-width="0.6"/>
<text x="501.5" y="25.2" font-size="4.5" text-anchor="middle" font-weight="normal" fill="#111" stroke="#111" stroke-width="0.11"><tspan font-style="italic">P</tspan> &lt; 0.01</text>
<text x="1.91" y="146.63" font-size="12.3" font-weight="bold" fill="#000" stroke="#000" stroke-width="0.25">B</text>
<line x1="39.2" y1="168.8" x2="39.2" y2="237" stroke="#333" stroke-width="0.8"/>
<line x1="39.2" y1="237" x2="104" y2="237" stroke="#333" stroke-width="0.8"/>
<line x1="37" y1="168.8" x2="39.2" y2="168.8" stroke="#333" stroke-width="0.8"/>
<text x="36.6" y="170.82" font-size="5.7" text-anchor="end" font-weight="normal" fill="#2a2a2a" stroke="#2a2a2a" stroke-width="0.14">1.0</text>
<line x1="37" y1="182.4" x2="39.2" y2="182.4" stroke="#333" stroke-width="0.8"/>
<text x="36.6" y="184.42" font-size="5.7" text-anchor="end" font-weight="normal" fill="#2a2a2a" stroke="#2a2a2a" stroke-width="0.14">0.8</text>
<line x1="37" y1="196" x2="39.2" y2="196" stroke="#333" stroke-width="0.8"/>
<text x="36.6" y="198.02" font-size="5.7" text-anchor="end" font-weight="normal" fill="#2a2a2a" stroke="#2a2a2a" stroke-width="0.14">0.6</text>
<line x1="37" y1="209.6" x2="39.2" y2="209.6" stroke="#333" stroke-width="0.8"/>
<text x="36.6" y="211.62" font-size="5.7" text-anchor="end" font-weight="normal" fill="#2a2a2a" stroke="#2a2a2a" stroke-width="0.14">0.4</text>
<line x1="37" y1="223.3" x2="39.2" y2="223.3" stroke="#333" stroke-width="0.8"/>
<text x="36.6" y="225.32" font-size="5.7" text-anchor="end" font-weight="normal" fill="#2a2a2a" stroke="#2a2a2a" stroke-width="0.14">0.2</text>
<line x1="37" y1="237" x2="39.2" y2="237" stroke="#333" stroke-width="0.8"/>
<text x="36.6" y="239.02" font-size="5.7" text-anchor="end" font-weight="normal" fill="#2a2a2a" stroke="#2a2a2a" stroke-width="0.14">0</text>
<rect x="46.25" y="168.75" width="13" height="68.25" fill="#c4c4c4" stroke="#5a5a5a" stroke-width="0.75" rx="0"/>
<line x1="52.75" y1="167.5" x2="52.75" y2="170" stroke="#333" stroke-width="0.7"/>
<line x1="51.15" y1="167.5" x2="54.35" y2="167.5" stroke="#333" stroke-width="0.7"/>
<line x1="51.15" y1="170" x2="54.35" y2="170" stroke="#333" stroke-width="0.7"/>
<circle cx="49.75" cy="168.2" r="1.1" fill="none" stroke="#444" stroke-width="0.55"/>
<circle cx="51.75" cy="168.2" r="1.1" fill="none" stroke="#444" stroke-width="0.55"/>
<circle cx="53.75" cy="168.2" r="1.1" fill="none" stroke="#444" stroke-width="0.55"/>
<circle cx="55.75" cy="168.2" r="1.1" fill="none" stroke="#444" stroke-width="0.55"/>
<rect x="65.75" y="173.75" width="13.75" height="63.25" fill="#8ec0ec" stroke="#3a5a85" stroke-width="0.75" rx="0"/>
<line x1="72.62" y1="169" x2="72.62" y2="179" stroke="#3a5a85" stroke-width="0.7"/>
<line x1="71.03" y1="169" x2="74.22" y2="169" stroke="#3a5a85" stroke-width="0.7"/>
<line x1="71.03" y1="179" x2="74.22" y2="179" stroke="#3a5a85" stroke-width="0.7"/>
<circle cx="72.62" cy="170" r="1.1" fill="none" stroke="#3a5a85" stroke-width="0.55"/>
<circle cx="71.62" cy="174" r="1.1" fill="none" stroke="#3a5a85" stroke-width="0.55"/>
<circle cx="72.62" cy="178" r="1.1" fill="none" stroke="#3a5a85" stroke-width="0.55"/>
<rect x="87" y="217.5" width="13.5" height="19.5" fill="#f4868b" stroke="#963232" stroke-width="0.75" rx="0"/>
<line x1="93.75" y1="212" x2="93.75" y2="224" stroke="#963232" stroke-width="0.7"/>
<line x1="92.15" y1="212" x2="95.35" y2="212" stroke="#963232" stroke-width="0.7"/>
<line x1="92.15" y1="224" x2="95.35" y2="224" stroke="#963232" stroke-width="0.7"/>
<circle cx="93.75" cy="213" r="1.1" fill="none" stroke="#963232" stroke-width="0.55"/>
<circle cx="92.75" cy="219" r="1.1" fill="none" stroke="#963232" stroke-width="0.55"/>
<circle cx="94.75" cy="221" r="1.1" fill="none" stroke="#963232" stroke-width="0.55"/>
<text x="53" y="244.74" font-size="6.3" text-anchor="middle" font-weight="normal" fill="#111" stroke="#111" stroke-width="0.15">T cell</text>
<text x="72.5" y="244.74" font-size="6.3" text-anchor="middle" font-weight="normal" fill="#111" stroke="#111" stroke-width="0.15">T+B</text>
<text x="94.5" y="244.74" font-size="6.3" text-anchor="middle" font-weight="normal" fill="#111" stroke="#111" stroke-width="0.15">T+Breg</text>
<text x="19.5" y="203.88" font-size="8.1" text-anchor="middle" font-weight="normal" fill="#111" stroke="#111" stroke-width="0.19" transform="rotate(-90 19.5 201)">BCL6 Fold change</text>
<line x1="55" y1="163.75" x2="72.5" y2="163.75" stroke="#333" stroke-width="0.6"/>
<text x="63.75" y="162.06" font-size="4.4" text-anchor="middle" font-weight="normal" fill="#111" stroke="#111" stroke-width="0.11">NS</text>
<line x1="55" y1="157" x2="95" y2="157" stroke="#333" stroke-width="0.6"/>
<text x="85" y="155.36" font-size="4.4" text-anchor="middle" font-weight="normal" fill="#111" stroke="#111" stroke-width="0.11"><tspan font-style="italic">P</tspan> &lt; 0.001</text>
<text x="138.41" y="146.73" font-size="12.3" font-weight="bold" fill="#000" stroke="#000" stroke-width="0.25">C</text>
<line x1="173.2" y1="166.6" x2="173.2" y2="235.3" stroke="#333" stroke-width="0.8"/>
<line x1="173.2" y1="235.3" x2="236.5" y2="235.3" stroke="#333" stroke-width="0.8"/>
<line x1="171" y1="166.6" x2="173.2" y2="166.6" stroke="#333" stroke-width="0.8"/>
<text x="168.8" y="168.98" font-size="6.7" text-anchor="end" font-weight="normal" fill="#2a2a2a" stroke="#2a2a2a" stroke-width="0.16">20</text>
<line x1="171" y1="183.5" x2="173.2" y2="183.5" stroke="#333" stroke-width="0.8"/>
<text x="168.8" y="185.88" font-size="6.7" text-anchor="end" font-weight="normal" fill="#2a2a2a" stroke="#2a2a2a" stroke-width="0.16">15</text>
<line x1="171" y1="200.4" x2="173.2" y2="200.4" stroke="#333" stroke-width="0.8"/>
<text x="168.8" y="202.78" font-size="6.7" text-anchor="end" font-weight="normal" fill="#2a2a2a" stroke="#2a2a2a" stroke-width="0.16">10</text>
<line x1="171" y1="217.6" x2="173.2" y2="217.6" stroke="#333" stroke-width="0.8"/>
<text x="168.8" y="219.98" font-size="6.7" text-anchor="end" font-weight="normal" fill="#2a2a2a" stroke="#2a2a2a" stroke-width="0.16">5</text>
<line x1="171" y1="235.1" x2="173.2" y2="235.1" stroke="#333" stroke-width="0.8"/>
<text x="168.8" y="237.48" font-size="6.7" text-anchor="end" font-weight="normal" fill="#2a2a2a" stroke="#2a2a2a" stroke-width="0.16">0</text>
<rect x="179.25" y="173" width="14" height="62.3" fill="#c4c4c4" stroke="#5a5a5a" stroke-width="0.75" rx="0"/>
<line x1="186.25" y1="168" x2="186.25" y2="180" stroke="#333" stroke-width="0.7"/>
<line x1="184.65" y1="168" x2="187.85" y2="168" stroke="#333" stroke-width="0.7"/>
<line x1="184.65" y1="180" x2="187.85" y2="180" stroke="#333" stroke-width="0.7"/>
<circle cx="186.25" cy="168.5" r="1.1" fill="none" stroke="#444" stroke-width="0.55"/>
<circle cx="186.25" cy="174" r="1.1" fill="none" stroke="#444" stroke-width="0.55"/>
<circle cx="186.25" cy="178" r="1.1" fill="none" stroke="#444" stroke-width="0.55"/>
<rect x="200" y="183.25" width="13.25" height="52.05" fill="#8ec0ec" stroke="#3a5a85" stroke-width="0.75" rx="0"/>
<line x1="206.62" y1="175" x2="206.62" y2="191" stroke="#3a5a85" stroke-width="0.7"/>
<line x1="205.03" y1="175" x2="208.22" y2="175" stroke="#3a5a85" stroke-width="0.7"/>
<line x1="205.03" y1="191" x2="208.22" y2="191" stroke="#3a5a85" stroke-width="0.7"/>
<circle cx="206.62" cy="176" r="1.1" fill="none" stroke="#3a5a85" stroke-width="0.55"/>
<circle cx="206.62" cy="185" r="1.1" fill="none" stroke="#3a5a85" stroke-width="0.55"/>
<circle cx="206.62" cy="189" r="1.1" fill="none" stroke="#3a5a85" stroke-width="0.55"/>
<rect x="220" y="203.25" width="13.75" height="32.05" fill="#f4868b" stroke="#963232" stroke-width="0.75" rx="0"/>
<line x1="226.88" y1="196.5" x2="226.88" y2="212" stroke="#963232" stroke-width="0.7"/>
<line x1="225.28" y1="196.5" x2="228.47" y2="196.5" stroke="#963232" stroke-width="0.7"/>
<line x1="225.28" y1="212" x2="228.47" y2="212" stroke="#963232" stroke-width="0.7"/>
<circle cx="226.88" cy="197" r="1.1" fill="none" stroke="#963232" stroke-width="0.55"/>
<circle cx="226.88" cy="205" r="1.1" fill="none" stroke="#963232" stroke-width="0.55"/>
<circle cx="226.88" cy="210" r="1.1" fill="none" stroke="#963232" stroke-width="0.55"/>
<text x="187" y="243.99" font-size="6.3" text-anchor="middle" font-weight="normal" fill="#111" stroke="#111" stroke-width="0.15">T cell</text>
<text x="206.75" y="243.99" font-size="6.3" text-anchor="middle" font-weight="normal" fill="#111" stroke="#111" stroke-width="0.15">T+B</text>
<text x="228.75" y="243.99" font-size="6.3" text-anchor="middle" font-weight="normal" fill="#111" stroke="#111" stroke-width="0.15">T+Breg</text>
<text x="152.2" y="203.38" font-size="8.1" text-anchor="middle" font-weight="normal" fill="#111" stroke="#111" stroke-width="0.19" transform="rotate(-90 152.2 200.5)">% CD4<tspan font-size="65%" dy="-2.3">+</tspan><tspan dy="2.3">IL21<tspan font-size="65%" dy="-2.3">+</tspan><tspan dy="2.3"> cells</tspan></tspan></text>
<line x1="187" y1="164.5" x2="206.75" y2="164.5" stroke="#333" stroke-width="0.6"/>
<text x="197" y="163.06" font-size="4.4" text-anchor="middle" font-weight="normal" fill="#111" stroke="#111" stroke-width="0.11">NS</text>
<line x1="187" y1="157.5" x2="231.25" y2="157.5" stroke="#333" stroke-width="0.6"/>
<text x="222.5" y="155.76" font-size="4.4" text-anchor="middle" font-weight="normal" fill="#111" stroke="#111" stroke-width="0.11"><tspan font-style="italic">P</tspan> &lt; 0.01</text>
<text x="282.11" y="146.93" font-size="12.3" font-weight="bold" fill="#000" stroke="#000" stroke-width="0.25">D</text>
<rect x="316.3" y="155.3" width="75.2" height="74.3" fill="none" stroke="#a0a0a0" stroke-width="0.7" rx="0"/>
<line x1="314.5" y1="163" x2="316.3" y2="163" stroke="#777" stroke-width="0.6"/>
<line x1="314.5" y1="181.1" x2="316.3" y2="181.1" stroke="#777" stroke-width="0.6"/>
<line x1="314.5" y1="198.4" x2="316.3" y2="198.4" stroke="#777" stroke-width="0.6"/>
<line x1="314.5" y1="212.8" x2="316.3" y2="212.8" stroke="#777" stroke-width="0.6"/>
<line x1="314.5" y1="224.6" x2="316.3" y2="224.6" stroke="#777" stroke-width="0.6"/>
<line x1="316.3" y1="229.6" x2="316.3" y2="231.4" stroke="#777" stroke-width="0.6"/>
<line x1="330.8" y1="229.6" x2="330.8" y2="231.4" stroke="#777" stroke-width="0.6"/>
<line x1="341" y1="229.6" x2="341" y2="231.4" stroke="#777" stroke-width="0.6"/>
<line x1="356" y1="229.6" x2="356" y2="231.4" stroke="#777" stroke-width="0.6"/>
<line x1="371.6" y1="229.6" x2="371.6" y2="231.4" stroke="#777" stroke-width="0.6"/>
<line x1="388" y1="229.6" x2="388" y2="231.4" stroke="#777" stroke-width="0.6"/>
<text x="313.8" y="164.06" font-size="3" text-anchor="end" font-weight="normal" fill="#555" stroke="#555" stroke-width="0.07">10⁵</text>
<text x="313.8" y="182.16" font-size="3" text-anchor="end" font-weight="normal" fill="#555" stroke="#555" stroke-width="0.07">10⁴</text>
<text x="313.8" y="199.47" font-size="3" text-anchor="end" font-weight="normal" fill="#555" stroke="#555" stroke-width="0.07">10³</text>
<text x="313.8" y="213.87" font-size="3" text-anchor="end" font-weight="normal" fill="#555" stroke="#555" stroke-width="0.07">0</text>
<text x="313.8" y="225.66" font-size="3" text-anchor="end" font-weight="normal" fill="#555" stroke="#555" stroke-width="0.07">-10³</text>
<text x="316.3" y="233.58" font-size="2.2" text-anchor="middle" font-weight="normal" fill="#888" stroke="#888" stroke-width="0.05">0</text>
<text x="330.8" y="233.58" font-size="2.2" text-anchor="middle" font-weight="normal" fill="#888" stroke="#888" stroke-width="0.05">50K</text>
<text x="341" y="233.58" font-size="2.2" text-anchor="middle" font-weight="normal" fill="#888" stroke="#888" stroke-width="0.05">100K</text>
<text x="356" y="233.58" font-size="2.2" text-anchor="middle" font-weight="normal" fill="#888" stroke="#888" stroke-width="0.05">150K</text>
<text x="371.6" y="233.58" font-size="2.2" text-anchor="middle" font-weight="normal" fill="#888" stroke="#888" stroke-width="0.05">200K</text>
<text x="388" y="233.58" font-size="2.2" text-anchor="middle" font-weight="normal" fill="#888" stroke="#888" stroke-width="0.05">250K</text>
<circle cx="316.3" cy="213" r="0.9" fill="#333" stroke="none" stroke-width="0.6"/>
<path d="M333.76 201.95h0.7M336.14 206.48h0.7M333.25 201.68h0.7M328.66 200.03h0.7M338.71 203.5h0.7M330.46 202.87h0.7M337.75 205.32h0.7M336.66 203.11h0.7M327.94 198.55h0.7M330.93 199.98h0.7M332.74 199.68h0.7M331.45 200.15h0.7M329.94 199.76h0.7M338.01 196.03h0.7M333.89 191.01h0.7M336.52 196.45h0.7M333.09 191.3h0.7M336.18 199.26h0.7M331.75 199.02h0.7M334.79 192.63h0.7M337.34 201.62h0.7M335.09 202.29h0.7M332.98 199.36h0.7M330.34 205.34h0.7M335.6 206.11h0.7M336.35 194.42h0.7M333.81 202.94h0.7M331.67 200.68h0.7M337.18 200.59h0.7M345.32 202.55h0.7M333.63 196.27h0.7M336.31 196.75h0.7M336.49 195.86h0.7M324.12 196.13h0.7M335.42 198.63h0.7M331.93 193.48h0.7M340.72 195.03h0.7M333.83 201.19h0.7M331.63 198.73h0.7M333.98 200.46h0.7M335.6 191.82h0.7M332.55 196.02h0.7M334.68 196.89h0.7M329.21 199.12h0.7M333.95 196.77h0.7" stroke="#b8b8b8" stroke-width="0.7" opacity="1" fill="none"/>
<g clip-path="url(#cD)"><path d="M333 193.93 L334 193.62 L335 193.53 L336 193.62 L337 193.89 L337.5 194.1 L338.3 194.5 L339 194.91 L339.5 195.23 L340 195.6 L340.5 196.01 L341.01 196.5 L341.5 197.07 L342 197.85 L342.31 198.5 L342.5 199.15 L342.67 200 L342.69 201 L342.55 202 L342.44 202.5 L342.1 203.5 L341.87 204 L341.5 204.65 L341 205.37 L340.5 205.95 L340 206.43 L339.5 206.83 L339 207.17 L338.41 207.5 L337.5 207.91 L337 208.08 L336 208.32 L335 208.44 L334 208.45 L333 208.37 L332 208.16 L331.5 207.99 L330.5 207.59 L330 207.32 L329.5 206.98 L328.9 206.5 L328.41 206 L328 205.47 L327.5 204.6 L327.25 204 L327.03 203 L326.99 202.5 L327 201.88 L327.1 201 L327.38 200 L327.58 199.5 L328 198.68 L328.43 198 L328.8 197.5 L329.21 197 L329.67 196.5 L330.15 196 L330.67 195.5 L331.25 195 L331.93 194.5 L332.5 194.16 L333 193.93 Z" fill="none" stroke="#9c9c9c" stroke-width="0.55"/><path d="M334.5 194.99 L335.5 194.96 L336 195.05 L337 195.43 L337.5 195.69 L338 196.01 L338.7 196.5 L339.3 197 L339.8 197.5 L340.2 198 L340.5 198.53 L340.85 199.5 L340.93 200.5 L340.8 201.5 L340.5 202.41 L340.22 203 L339.93 203.5 L339.5 204.09 L339 204.65 L338.5 205.11 L337.99 205.5 L337.15 206 L336.5 206.3 L335.87 206.5 L335 206.7 L334 206.79 L333 206.74 L332 206.52 L331.5 206.35 L330.81 206 L330.1 205.5 L329.6 205 L329.24 204.5 L328.98 204 L328.69 203 L328.66 202 L328.88 201 L329.07 200.5 L329.5 199.7 L329.98 199 L330.38 198.5 L330.79 198 L331.21 197.5 L331.63 197 L332.06 196.5 L332.55 196 L333.2 195.5 L334 195.11 L334.5 194.99 Z" fill="none" stroke="#a4a4a4" stroke-width="0.55"/><path d="M334 196.49 L335 196.16 L336 196.27 L336.58 196.5 L337.45 197 L338 197.4 L338.5 197.84 L339 198.41 L339.35 199 L339.53 199.5 L339.63 200.5 L339.5 201.24 L339.22 202 L338.94 202.5 L338.5 203.12 L338 203.69 L337.5 204.15 L337 204.53 L336.2 205 L335.5 205.31 L334.81 205.5 L334 205.63 L333 205.6 L332.49 205.5 L331.5 205.12 L331 204.78 L330.5 204.28 L330.05 203.5 L329.9 203 L329.89 202 L330 201.5 L330.47 200.5 L330.81 200 L331.22 199.5 L331.67 199 L332.11 198.5 L332.53 198 L333 197.42 L333.5 196.88 L334 196.49 Z" fill="none" stroke="#aaa" stroke-width="0.55"/><path d="M335 197.78 L336 197.76 L336.63 198 L337.38 198.5 L337.84 199 L338.13 199.5 L338.28 200.5 L338 201.5 L337.7 202 L337.33 202.5 L336.86 203 L336.27 203.5 L335.51 204 L335 204.24 L334.05 204.5 L333.5 204.54 L333 204.49 L332 204.11 L331.5 203.66 L331.14 203 L331.11 202 L331.5 201.08 L331.94 200.5 L332.42 200 L332.94 199.5 L333.45 199 L333.95 198.5 L334.5 198.03 L335 197.78 Z" fill="none" stroke="#b0b0b0" stroke-width="0.55"/></g>
<ellipse cx="334.9" cy="210.5" rx="7.7" ry="5" fill="#b8b8b8" stroke="#555" stroke-width="0.7"/>
<ellipse cx="334.9" cy="210.5" rx="6.4" ry="4" fill="none" stroke="#444" stroke-width="0.7"/>
<ellipse cx="334.9" cy="210.5" rx="5.1" ry="3" fill="#a8a8a8" stroke="#3c3c3c" stroke-width="0.7"/>
<ellipse cx="334.9" cy="210.5" rx="3.6" ry="1.9" fill="#d0d0d0" stroke="#555" stroke-width="0.6"/>
<rect x="333.1" y="209.7" width="3.6" height="1.6" fill="#f4f4f4" stroke="none" stroke-width="0.8" rx="0"/>
<path d="M357.42 201h0.7M353.26 196.75h0.7M353.57 201.7h0.7M353.56 197.06h0.7M356.47 192.2h0.7M351.52 206.72h0.7M358.21 197.67h0.7M355.43 196.69h0.7M354.15 200.29h0.7M353.68 193.07h0.7M355.69 193.86h0.7M357.76 197.1h0.7M357.47 197.03h0.7M355.08 199.27h0.7M357.18 203.27h0.7M354 197.2h0.7M358.76 200.87h0.7M353.39 201.29h0.7M344.78 194.88h0.7M359.12 199.87h0.7M353.95 195.42h0.7M348.58 203.04h0.7M352.67 200.73h0.7M349.79 199.06h0.7M362.32 193.91h0.7M355.59 199.44h0.7M346.91 196.09h0.7M355.79 201.68h0.7M351.83 198.55h0.7M361.55 195.91h0.7M349.08 202.52h0.7M344.06 201.74h0.7M353.78 196.75h0.7M352.04 203.42h0.7M351.75 197.87h0.7M344.51 197.83h0.7M355.29 199.47h0.7M360.53 196.14h0.7M345.48 197.32h0.7M358.42 198.39h0.7M351.11 204.82h0.7M363.37 204.7h0.7M355.33 198.02h0.7M352.71 205.12h0.7M358.14 198.84h0.7" stroke="#b8b8b8" stroke-width="0.7" opacity="1" fill="none"/>
<g clip-path="url(#cD)"><path d="M351.5 193.97 L352.5 193.64 L353.5 193.53 L354.5 193.6 L355.5 193.85 L356 194.05 L356.9 194.5 L357.5 194.84 L358 195.16 L358.5 195.53 L359.09 196 L359.62 196.5 L360.05 197 L360.5 197.67 L360.91 198.5 L361.07 199 L361.27 200 L361.29 201 L361.16 202 L361 202.61 L360.7 203.5 L360.47 204 L360 204.81 L359.5 205.49 L359.05 206 L358.51 206.5 L358 206.9 L357.5 207.24 L357 207.51 L356 207.95 L355.5 208.11 L354.5 208.34 L353.5 208.45 L352.5 208.45 L351.5 208.35 L350.5 208.13 L350 207.96 L349 207.53 L348.5 207.26 L348 206.91 L347.5 206.5 L347 205.99 L346.5 205.33 L346.05 204.5 L345.85 204 L345.62 203 L345.58 202 L345.69 201 L345.99 200 L346.17 199.5 L346.5 198.86 L347 198.04 L347.4 197.5 L347.81 197 L348.26 196.5 L348.75 196 L349.27 195.5 L349.85 195 L350.5 194.52 L351 194.21 L351.5 193.97 Z" fill="none" stroke="#9c9c9c" stroke-width="0.55"/><path d="M353.5 194.94 L354.31 195 L355 195.17 L355.74 195.5 L356.5 195.94 L357 196.27 L357.5 196.65 L358 197.09 L358.5 197.62 L359 198.34 L359.31 199 L359.5 199.88 L359.53 200.5 L359.49 201 L359.26 202 L359 202.64 L358.53 203.5 L358.17 204 L357.75 204.5 L357.23 205 L356.59 205.5 L356 205.87 L355.5 206.13 L354.5 206.5 L354 206.63 L353 206.78 L352 206.78 L351 206.63 L350.5 206.49 L349.5 206.06 L349 205.74 L348.5 205.32 L348 204.74 L347.57 204 L347.39 203.5 L347.24 202.5 L347.34 201.5 L347.5 200.95 L347.92 200 L348.22 199.5 L348.58 199 L349 198.47 L349.5 197.88 L350 197.28 L350.5 196.69 L351 196.15 L351.5 195.7 L352 195.37 L353 195 L353.5 194.94 Z" fill="none" stroke="#a4a4a4" stroke-width="0.55"/><path d="M353 196.3 L354 196.16 L355 196.41 L355.5 196.66 L356.05 197 L356.72 197.5 L357.26 198 L357.67 198.5 L358 199.12 L358.23 200 L358.17 201 L358 201.57 L357.55 202.5 L357.2 203 L356.78 203.5 L356.27 204 L355.64 204.5 L355 204.9 L354.5 205.15 L353.5 205.49 L353 205.58 L352 205.64 L351.09 205.5 L350.5 205.31 L349.9 205 L349.29 204.5 L348.89 204 L348.5 203 L348.45 202.5 L348.5 201.94 L348.79 201 L349.06 200.5 L349.5 199.88 L350 199.29 L350.5 198.74 L351 198.15 L351.5 197.54 L351.97 197 L352.5 196.56 L353 196.3 Z" fill="none" stroke="#aaa" stroke-width="0.55"/><path d="M353.5 197.81 L354.5 197.73 L355.23 198 L355.99 198.5 L356.45 199 L356.73 199.5 L356.89 200.5 L356.6 201.5 L356.31 202 L355.93 202.5 L355.46 203 L354.88 203.5 L354.12 204 L353.5 204.28 L352.64 204.5 L352 204.54 L351.5 204.48 L350.5 204.05 L350 203.54 L349.74 203 L349.71 202 L350 201.25 L350.5 200.54 L351 200.01 L351.5 199.53 L352 199.04 L352.5 198.54 L353 198.1 L353.5 197.81 Z" fill="none" stroke="#b0b0b0" stroke-width="0.55"/></g>
<ellipse cx="353.5" cy="210.5" rx="7.7" ry="5" fill="#b8b8b8" stroke="#555" stroke-width="0.7"/>
<ellipse cx="353.5" cy="210.5" rx="6.4" ry="4" fill="none" stroke="#444" stroke-width="0.7"/>
<ellipse cx="353.5" cy="210.5" rx="5.1" ry="3" fill="#a8a8a8" stroke="#3c3c3c" stroke-width="0.7"/>
<ellipse cx="353.5" cy="210.5" rx="3.6" ry="1.9" fill="#d0d0d0" stroke="#555" stroke-width="0.6"/>
<rect x="351.7" y="209.7" width="3.6" height="1.6" fill="#f4f4f4" stroke="none" stroke-width="0.8" rx="0"/>
<path d="M374.1 199.42h0.7M376.21 202.18h0.7M373.73 194.25h0.7M382.64 199.44h0.7M373.52 198.4h0.7M367.47 194.78h0.7M377.98 199.82h0.7M370.77 199.13h0.7M371.22 197.44h0.7M359.93 200.5h0.7M376.7 193.61h0.7M375.94 198.8h0.7M375.86 200.64h0.7M376.61 200.08h0.7M379.6 203.09h0.7M372.31 194.44h0.7M376.44 193.27h0.7M369.38 199.91h0.7M371.01 200.73h0.7M376.94 207.06h0.7M374.14 201.34h0.7M366.9 195.68h0.7M374.02 202.06h0.7M371.73 195.79h0.7M369.06 193.35h0.7M374.32 208.91h0.7M370.8 200.24h0.7M365.9 201.72h0.7M367.83 201.14h0.7M379.93 205.89h0.7M366.14 200.08h0.7M373.44 203.63h0.7M375.06 195.1h0.7M375.18 193.71h0.7M367.35 204.42h0.7M371.15 204.6h0.7M373.09 200.94h0.7M375.86 199.86h0.7M369.79 199.63h0.7M367.61 196.38h0.7M376.71 204.85h0.7M377.14 201.5h0.7M374.05 200.92h0.7M369.94 200.43h0.7M374.21 202.98h0.7" stroke="#b8b8b8" stroke-width="0.7" opacity="1" fill="none"/>
<g clip-path="url(#cD)"><path d="M370.5 193.97 L371.5 193.64 L372.5 193.53 L373.5 193.6 L374.5 193.85 L375 194.05 L375.9 194.5 L376.5 194.84 L377 195.16 L377.5 195.53 L378.09 196 L378.62 196.5 L379.05 197 L379.5 197.67 L379.91 198.5 L380.07 199 L380.27 200 L380.29 201 L380.16 202 L380 202.61 L379.7 203.5 L379.47 204 L379 204.81 L378.5 205.49 L378.05 206 L377.51 206.5 L377 206.9 L376.5 207.24 L376 207.51 L375 207.95 L374.5 208.11 L373.5 208.34 L372.5 208.45 L371.5 208.45 L370.5 208.35 L369.5 208.13 L369 207.96 L368 207.53 L367.5 207.26 L367 206.91 L366.5 206.5 L366 205.99 L365.5 205.33 L365.05 204.5 L364.85 204 L364.62 203 L364.58 202 L364.69 201 L364.99 200 L365.17 199.5 L365.5 198.86 L366 198.04 L366.4 197.5 L366.81 197 L367.26 196.5 L367.75 196 L368.27 195.5 L368.85 195 L369.5 194.52 L370 194.21 L370.5 193.97 Z" fill="none" stroke="#9c9c9c" stroke-width="0.55"/><path d="M372.5 194.94 L373.31 195 L374 195.17 L374.74 195.5 L375.5 195.94 L376 196.27 L376.5 196.65 L377 197.09 L377.5 197.62 L378 198.34 L378.31 199 L378.5 199.88 L378.53 200.5 L378.49 201 L378.26 202 L378 202.64 L377.53 203.5 L377.17 204 L376.75 204.5 L376.23 205 L375.59 205.5 L375 205.87 L374.5 206.13 L373.5 206.5 L373 206.63 L372 206.78 L371 206.78 L370 206.63 L369.5 206.49 L368.5 206.06 L368 205.74 L367.5 205.32 L367 204.74 L366.57 204 L366.39 203.5 L366.24 202.5 L366.34 201.5 L366.5 200.95 L366.92 200 L367.22 199.5 L367.58 199 L368 198.47 L368.5 197.88 L369 197.28 L369.5 196.69 L370 196.15 L370.5 195.7 L371 195.37 L372 195 L372.5 194.94 Z" fill="none" stroke="#a4a4a4" stroke-width="0.55"/><path d="M372 196.3 L373 196.16 L374 196.41 L374.5 196.66 L375.05 197 L375.72 197.5 L376.26 198 L376.67 198.5 L377 199.12 L377.23 200 L377.17 201 L377 201.57 L376.55 202.5 L376.2 203 L375.78 203.5 L375.27 204 L374.64 204.5 L374 204.9 L373.5 205.15 L372.5 205.49 L372 205.58 L371 205.64 L370.09 205.5 L369.5 205.31 L368.9 205 L368.29 204.5 L367.89 204 L367.5 203 L367.45 202.5 L367.5 201.94 L367.79 201 L368.06 200.5 L368.5 199.88 L369 199.29 L369.5 198.74 L370 198.15 L370.5 197.54 L370.97 197 L371.5 196.56 L372 196.3 Z" fill="none" stroke="#aaa" stroke-width="0.55"/><path d="M372.5 197.81 L373.5 197.73 L374.23 198 L374.99 198.5 L375.45 199 L375.73 199.5 L375.89 200.5 L375.6 201.5 L375.31 202 L374.93 202.5 L374.46 203 L373.88 203.5 L373.12 204 L372.5 204.28 L371.64 204.5 L371 204.54 L370.5 204.48 L369.5 204.05 L369 203.54 L368.74 203 L368.71 202 L369 201.25 L369.5 200.54 L370 200.01 L370.5 199.53 L371 199.04 L371.5 198.54 L372 198.1 L372.5 197.81 Z" fill="none" stroke="#b0b0b0" stroke-width="0.55"/></g>
<ellipse cx="372.5" cy="210.5" rx="7.7" ry="5" fill="#b8b8b8" stroke="#555" stroke-width="0.7"/>
<ellipse cx="372.5" cy="210.5" rx="6.4" ry="4" fill="none" stroke="#444" stroke-width="0.7"/>
<ellipse cx="372.5" cy="210.5" rx="5.1" ry="3" fill="#a8a8a8" stroke="#3c3c3c" stroke-width="0.7"/>
<ellipse cx="372.5" cy="210.5" rx="3.6" ry="1.9" fill="#d0d0d0" stroke="#555" stroke-width="0.6"/>
<rect x="370.7" y="209.7" width="3.6" height="1.6" fill="#f4f4f4" stroke="none" stroke-width="0.8" rx="0"/>
<text x="331.4" y="169.87" font-size="6.4" text-anchor="middle" font-weight="normal" fill="#111" stroke="#111" stroke-width="0.15">31.2%</text>
<text x="353.9" y="169.87" font-size="6.4" text-anchor="middle" font-weight="normal" fill="#111" stroke="#111" stroke-width="0.15">27.1%</text>
<text x="374.6" y="169.87" font-size="6.4" text-anchor="middle" font-weight="normal" fill="#111" stroke="#111" stroke-width="0.15">16.2%</text>
<text x="334.4" y="223.43" font-size="6" text-anchor="middle" font-weight="normal" fill="#111" stroke="#111" stroke-width="0.14">Tfh</text>
<text x="352.2" y="223.43" font-size="6" text-anchor="middle" font-weight="normal" fill="#111" stroke="#111" stroke-width="0.14">Tfh+B</text>
<text x="375.3" y="223.43" font-size="6" text-anchor="middle" font-weight="normal" fill="#111" stroke="#111" stroke-width="0.14">Tfh+Breg</text>
<text x="299.5" y="198.24" font-size="8" text-anchor="middle" font-weight="normal" fill="#111" stroke="#111" stroke-width="0.19" transform="rotate(-90 299.5 195.4)">% IL21<tspan font-size="65%" dy="-2.3">+</tspan><tspan dy="2.3"> cells</tspan></text>
<text x="355.4" y="241.92" font-size="7.65" text-anchor="middle" font-weight="normal" fill="#111" stroke="#111" stroke-width="0.18">Tfh cell concatination</text>
<line x1="449.2" y1="163.75" x2="449.2" y2="232.5" stroke="#333" stroke-width="0.8"/>
<line x1="449.2" y1="232.5" x2="513" y2="232.5" stroke="#333" stroke-width="0.8"/>
<line x1="447" y1="163.75" x2="449.2" y2="163.75" stroke="#333" stroke-width="0.8"/>
<text x="445.2" y="165.99" font-size="6.3" text-anchor="end" font-weight="normal" fill="#2a2a2a" stroke="#2a2a2a" stroke-width="0.15">40</text>
<line x1="447" y1="181" x2="449.2" y2="181" stroke="#333" stroke-width="0.8"/>
<text x="445.2" y="183.24" font-size="6.3" text-anchor="end" font-weight="normal" fill="#2a2a2a" stroke="#2a2a2a" stroke-width="0.15">30</text>
<line x1="447" y1="198.2" x2="449.2" y2="198.2" stroke="#333" stroke-width="0.8"/>
<text x="445.2" y="200.44" font-size="6.3" text-anchor="end" font-weight="normal" fill="#2a2a2a" stroke="#2a2a2a" stroke-width="0.15">20</text>
<line x1="447" y1="215.4" x2="449.2" y2="215.4" stroke="#333" stroke-width="0.8"/>
<text x="445.2" y="217.64" font-size="6.3" text-anchor="end" font-weight="normal" fill="#2a2a2a" stroke="#2a2a2a" stroke-width="0.15">10</text>
<line x1="447" y1="232.5" x2="449.2" y2="232.5" stroke="#333" stroke-width="0.8"/>
<text x="445.2" y="234.74" font-size="6.3" text-anchor="end" font-weight="normal" fill="#2a2a2a" stroke="#2a2a2a" stroke-width="0.15">0</text>
<rect x="455.5" y="177" width="14" height="55.5" fill="#c4c4c4" stroke="#5a5a5a" stroke-width="0.75" rx="0"/>
<line x1="462.5" y1="173" x2="462.5" y2="180" stroke="#333" stroke-width="0.7"/>
<line x1="460.9" y1="173" x2="464.1" y2="173" stroke="#333" stroke-width="0.7"/>
<line x1="460.9" y1="180" x2="464.1" y2="180" stroke="#333" stroke-width="0.7"/>
<circle cx="462.5" cy="174" r="1.1" fill="none" stroke="#444" stroke-width="0.55"/>
<circle cx="462.5" cy="178" r="1.1" fill="none" stroke="#444" stroke-width="0.55"/>
<circle cx="463.5" cy="176" r="1.1" fill="none" stroke="#444" stroke-width="0.55"/>
<rect x="475.75" y="182" width="13.75" height="50.5" fill="#8ec0ec" stroke="#3a5a85" stroke-width="0.75" rx="0"/>
<line x1="482.62" y1="176" x2="482.62" y2="190" stroke="#3a5a85" stroke-width="0.7"/>
<line x1="481.02" y1="176" x2="484.23" y2="176" stroke="#3a5a85" stroke-width="0.7"/>
<line x1="481.02" y1="190" x2="484.23" y2="190" stroke="#3a5a85" stroke-width="0.7"/>
<circle cx="482.62" cy="178" r="1.1" fill="none" stroke="#3a5a85" stroke-width="0.55"/>
<circle cx="482.62" cy="185" r="1.1" fill="none" stroke="#3a5a85" stroke-width="0.55"/>
<circle cx="482.62" cy="188" r="1.1" fill="none" stroke="#3a5a85" stroke-width="0.55"/>
<rect x="496.25" y="203.25" width="13.75" height="29.25" fill="#f4868b" stroke="#963232" stroke-width="0.75" rx="0"/>
<line x1="503.12" y1="199" x2="503.12" y2="206" stroke="#963232" stroke-width="0.7"/>
<line x1="501.52" y1="199" x2="504.73" y2="199" stroke="#963232" stroke-width="0.7"/>
<line x1="501.52" y1="206" x2="504.73" y2="206" stroke="#963232" stroke-width="0.7"/>
<circle cx="503.12" cy="200" r="1.1" fill="none" stroke="#963232" stroke-width="0.55"/>
<circle cx="503.12" cy="204" r="1.1" fill="none" stroke="#963232" stroke-width="0.55"/>
<circle cx="503.12" cy="206" r="1.1" fill="none" stroke="#963232" stroke-width="0.55"/>
<text x="462.5" y="241.31" font-size="5.8" text-anchor="middle" font-weight="normal" fill="#111" stroke="#111" stroke-width="0.14">Tfh cell</text>
<text x="482" y="241.31" font-size="5.8" text-anchor="middle" font-weight="normal" fill="#111" stroke="#111" stroke-width="0.14">Tfh+B</text>
<text x="503.75" y="241.31" font-size="5.8" text-anchor="middle" font-weight="normal" fill="#111" stroke="#111" stroke-width="0.14">Tfh+Breg</text>
<text x="428.75" y="197.08" font-size="8.1" text-anchor="middle" font-weight="normal" fill="#111" stroke="#111" stroke-width="0.19" transform="rotate(-90 428.75 194.2)">% IL21<tspan font-size="65%" dy="-2.3">+</tspan><tspan dy="2.3"> cells within Tfh</tspan></text>
<line x1="463" y1="163.1" x2="482.5" y2="163.1" stroke="#333" stroke-width="0.6"/>
<text x="472.7" y="161.56" font-size="4.4" text-anchor="middle" font-weight="normal" fill="#111" stroke="#111" stroke-width="0.11">NS</text>
<line x1="463" y1="154.9" x2="503.75" y2="154.9" stroke="#333" stroke-width="0.6"/>
<text x="493.5" y="153.43" font-size="4.6" text-anchor="middle" font-weight="normal" fill="#111" stroke="#111" stroke-width="0.11"><tspan font-style="italic">P</tspan> &lt; 0.001</text>
<text x="2.35" y="277.63" font-size="12.3" font-weight="bold" fill="#000" stroke="#000" stroke-width="0.25">E</text>
<defs><radialGradient id="gR" cx="40%" cy="35%" r="65%"><stop offset="0" stop-color="#c0392b"/><stop offset="1" stop-color="#8b1a14"/></radialGradient><radialGradient id="gG" cx="40%" cy="35%" r="65%"><stop offset="0" stop-color="#5aa03c"/><stop offset="1" stop-color="#2f6e1e"/></radialGradient><radialGradient id="gBl" cx="40%" cy="35%" r="65%"><stop offset="0" stop-color="#9fd4ee"/><stop offset="1" stop-color="#5aa2c8"/></radialGradient><linearGradient id="gTan" x1="0" y1="0" x2="0" y2="1"><stop offset="0" stop-color="#f5dfc0"/><stop offset="1" stop-color="#f1d7b0"/></linearGradient></defs>
<text x="29.2" y="293.37" font-size="4.7" text-anchor="middle" font-weight="normal" fill="#111" stroke="#111" stroke-width="0.11">Breg + Naive T cell</text>
<rect x="9.4" y="295.3" width="38.4" height="23.3" fill="#f3f9fc" stroke="#c8c8c8" stroke-width="0.6" rx="0"/>
<rect x="9.7" y="297.2" width="37.8" height="21.4" fill="url(#gTan)" stroke="none" stroke-width="0" rx="0"/>
<line x1="9.9" y1="318.6" x2="47.3" y2="318.6" stroke="#b5a99a" stroke-width="0.8"/>
<circle cx="17.3" cy="302.1" r="2.25" fill="url(#gR)" stroke="none" stroke-width="0"/>
<circle cx="23" cy="302.1" r="2.25" fill="url(#gR)" stroke="none" stroke-width="0"/>
<circle cx="29" cy="302.1" r="2.25" fill="url(#gR)" stroke="none" stroke-width="0"/>
<circle cx="35.2" cy="302.1" r="2.25" fill="url(#gR)" stroke="none" stroke-width="0"/>
<circle cx="41" cy="302.1" r="2.25" fill="url(#gR)" stroke="none" stroke-width="0"/>
<circle cx="18.6" cy="307.3" r="2.1" fill="url(#gBl)" stroke="none" stroke-width="0"/>
<circle cx="25.3" cy="307.3" r="2.1" fill="url(#gBl)" stroke="none" stroke-width="0"/>
<circle cx="32.1" cy="307.3" r="2.1" fill="url(#gBl)" stroke="none" stroke-width="0"/>
<circle cx="38.9" cy="307.3" r="2.1" fill="url(#gBl)" stroke="none" stroke-width="0"/>
<circle cx="15.1" cy="312.4" r="2.1" fill="url(#gBl)" stroke="none" stroke-width="0"/>
<circle cx="21.8" cy="312.4" r="2.1" fill="url(#gBl)" stroke="none" stroke-width="0"/>
<circle cx="28.6" cy="312.4" r="2.1" fill="url(#gBl)" stroke="none" stroke-width="0"/>
<circle cx="35.3" cy="312.4" r="2.1" fill="url(#gBl)" stroke="none" stroke-width="0"/>
<circle cx="41.9" cy="312.4" r="2.1" fill="url(#gBl)" stroke="none" stroke-width="0"/>
<text x="29.5" y="326.97" font-size="4.7" text-anchor="middle" font-weight="normal" fill="#111" stroke="#111" stroke-width="0.11">B + Naive T cell</text>
<rect x="9.4" y="327.6" width="38.4" height="23.9" fill="#f3f9fc" stroke="#c8c8c8" stroke-width="0.6" rx="0"/>
<rect x="9.7" y="329.9" width="37.8" height="21.6" fill="url(#gTan)" stroke="none" stroke-width="0" rx="0"/>
<line x1="9.9" y1="351.5" x2="47.3" y2="351.5" stroke="#b5a99a" stroke-width="0.8"/>
<circle cx="15.6" cy="334.5" r="2.25" fill="url(#gG)" stroke="none" stroke-width="0"/>
<circle cx="21.6" cy="334.5" r="2.25" fill="url(#gG)" stroke="none" stroke-width="0"/>
<circle cx="27.7" cy="334.5" r="2.25" fill="url(#gG)" stroke="none" stroke-width="0"/>
<circle cx="33.8" cy="334.5" r="2.25" fill="url(#gG)" stroke="none" stroke-width="0"/>
<circle cx="39.8" cy="334.5" r="2.25" fill="url(#gG)" stroke="none" stroke-width="0"/>
<circle cx="18.6" cy="340.1" r="2.1" fill="url(#gBl)" stroke="none" stroke-width="0"/>
<circle cx="25.3" cy="340.1" r="2.1" fill="url(#gBl)" stroke="none" stroke-width="0"/>
<circle cx="32.1" cy="340.1" r="2.1" fill="url(#gBl)" stroke="none" stroke-width="0"/>
<circle cx="38.9" cy="340.1" r="2.1" fill="url(#gBl)" stroke="none" stroke-width="0"/>
<circle cx="15.1" cy="345.7" r="2.1" fill="url(#gBl)" stroke="none" stroke-width="0"/>
<circle cx="21.8" cy="345.7" r="2.1" fill="url(#gBl)" stroke="none" stroke-width="0"/>
<circle cx="28.6" cy="345.7" r="2.1" fill="url(#gBl)" stroke="none" stroke-width="0"/>
<circle cx="35.3" cy="345.7" r="2.1" fill="url(#gBl)" stroke="none" stroke-width="0"/>
<circle cx="41.9" cy="345.7" r="2.1" fill="url(#gBl)" stroke="none" stroke-width="0"/>
<text x="29.4" y="359.27" font-size="4.7" text-anchor="middle" font-weight="normal" fill="#111" stroke="#111" stroke-width="0.11">Naive T cell</text>
<rect x="9.4" y="359.6" width="38.4" height="24.2" fill="#f3f9fc" stroke="#c8c8c8" stroke-width="0.6" rx="0"/>
<rect x="9.7" y="363.3" width="37.8" height="20.5" fill="url(#gTan)" stroke="none" stroke-width="0" rx="0"/>
<line x1="9.9" y1="383.8" x2="47.3" y2="383.8" stroke="#b5a99a" stroke-width="0.8"/>
<circle cx="18.6" cy="370.1" r="2.1" fill="url(#gBl)" stroke="none" stroke-width="0"/>
<circle cx="25.3" cy="370.1" r="2.1" fill="url(#gBl)" stroke="none" stroke-width="0"/>
<circle cx="32.1" cy="370.1" r="2.1" fill="url(#gBl)" stroke="none" stroke-width="0"/>
<circle cx="38.9" cy="370.1" r="2.1" fill="url(#gBl)" stroke="none" stroke-width="0"/>
<circle cx="15.1" cy="375.4" r="2.1" fill="url(#gBl)" stroke="none" stroke-width="0"/>
<circle cx="21.8" cy="375.4" r="2.1" fill="url(#gBl)" stroke="none" stroke-width="0"/>
<circle cx="28.6" cy="375.4" r="2.1" fill="url(#gBl)" stroke="none" stroke-width="0"/>
<circle cx="35.3" cy="375.4" r="2.1" fill="url(#gBl)" stroke="none" stroke-width="0"/>
<circle cx="41.9" cy="375.4" r="2.1" fill="url(#gBl)" stroke="none" stroke-width="0"/>
<text x="55.5" y="341.25" font-size="6.9" text-anchor="middle" font-weight="normal" fill="#111" stroke="#111" stroke-width="0.17" transform="rotate(-90 55.5 338.8)">Tfh polarization (72 h)</text>
<line x1="60.2" y1="340.5" x2="64.5" y2="340.5" stroke="#111" stroke-width="0.8"/>
<path d="M63.5 338.9 L67.3 340.5 L63.5 342.1 Z" fill="#111"/>
<rect x="68.2" y="291.7" width="38.9" height="26.5" fill="#f3f9fc" stroke="#c8c8c8" stroke-width="0.6" rx="0"/>
<rect x="68.5" y="297" width="38.3" height="21.2" fill="url(#gTan)" stroke="none" stroke-width="0" rx="0"/>
<line x1="68.7" y1="318.2" x2="106.6" y2="318.2" stroke="#b5a99a" stroke-width="0.8"/>
<text x="87.7" y="309.8" font-size="4.8" text-anchor="middle" font-weight="normal" fill="#111" stroke="#111" stroke-width="0.12">Sup collected</text>
<rect x="68.2" y="324.5" width="38.9" height="26.3" fill="#f3f9fc" stroke="#c8c8c8" stroke-width="0.6" rx="0"/>
<rect x="68.5" y="330" width="38.3" height="20.8" fill="url(#gTan)" stroke="none" stroke-width="0" rx="0"/>
<line x1="68.7" y1="350.8" x2="106.6" y2="350.8" stroke="#b5a99a" stroke-width="0.8"/>
<text x="87.7" y="342.3" font-size="4.8" text-anchor="middle" font-weight="normal" fill="#111" stroke="#111" stroke-width="0.12">Sup collected</text>
<rect x="68.2" y="357.3" width="38.9" height="26.7" fill="#f3f9fc" stroke="#c8c8c8" stroke-width="0.6" rx="0"/>
<rect x="68.5" y="363" width="38.3" height="21" fill="url(#gTan)" stroke="none" stroke-width="0" rx="0"/>
<line x1="68.7" y1="384" x2="106.6" y2="384" stroke="#b5a99a" stroke-width="0.8"/>
<text x="87.7" y="375.5" font-size="4.8" text-anchor="middle" font-weight="normal" fill="#111" stroke="#111" stroke-width="0.12">Sup collected</text>
<text x="115.6" y="341.32" font-size="8.5" text-anchor="middle" font-weight="bold" fill="#111">+</text>
<text x="146" y="293.4" font-size="4.8" text-anchor="middle" font-weight="normal" fill="#111" stroke="#111" stroke-width="0.12">Autologous B cell</text>
<rect x="126.5" y="294.8" width="38.9" height="23.4" fill="#f3f9fc" stroke="#c8c8c8" stroke-width="0.6" rx="0"/>
<rect x="126.8" y="296.7" width="38.3" height="21.5" fill="url(#gTan)" stroke="none" stroke-width="0" rx="0"/>
<line x1="127" y1="318.2" x2="164.9" y2="318.2" stroke="#b5a99a" stroke-width="0.8"/>
<polygon points="140.79 305.37 138.68 305.97 138.92 308.15 137 307.08 135.63 308.79 135.03 306.68 132.85 306.92 133.92 305 132.21 303.63 134.32 303.03 134.08 300.85 136 301.92 137.37 300.21 137.97 302.32 140.15 302.08 139.08 304" fill="#9ccbdc" stroke="#7fb5ca" stroke-width="0.3"/>
<circle cx="136.5" cy="304.5" r="2.62" fill="#4a8cab" stroke="none" stroke-width="0"/>
<circle cx="136.2" cy="304.2" r="1.5" fill="#33708f" stroke="none" stroke-width="0"/>
<polygon points="150.09 305.37 147.98 305.97 148.22 308.15 146.3 307.08 144.93 308.79 144.33 306.68 142.15 306.92 143.22 305 141.51 303.63 143.62 303.03 143.38 300.85 145.3 301.92 146.67 300.21 147.27 302.32 149.45 302.08 148.38 304" fill="#9ccbdc" stroke="#7fb5ca" stroke-width="0.3"/>
<circle cx="145.8" cy="304.5" r="2.62" fill="#4a8cab" stroke="none" stroke-width="0"/>
<circle cx="145.5" cy="304.2" r="1.5" fill="#33708f" stroke="none" stroke-width="0"/>
<polygon points="159.29 305.37 157.18 305.97 157.42 308.15 155.5 307.08 154.13 308.79 153.53 306.68 151.35 306.92 152.42 305 150.71 303.63 152.82 303.03 152.58 300.85 154.5 301.92 155.87 300.21 156.47 302.32 158.65 302.08 157.58 304" fill="#9ccbdc" stroke="#7fb5ca" stroke-width="0.3"/>
<circle cx="155" cy="304.5" r="2.62" fill="#4a8cab" stroke="none" stroke-width="0"/>
<circle cx="154.7" cy="304.2" r="1.5" fill="#33708f" stroke="none" stroke-width="0"/>
<polygon points="145.59 310.77 143.48 311.37 143.72 313.55 141.8 312.48 140.43 314.19 139.83 312.08 137.65 312.32 138.72 310.4 137.01 309.03 139.12 308.43 138.88 306.25 140.8 307.32 142.17 305.61 142.77 307.72 144.95 307.48 143.88 309.4" fill="#9ccbdc" stroke="#7fb5ca" stroke-width="0.3"/>
<circle cx="141.3" cy="309.9" r="2.62" fill="#4a8cab" stroke="none" stroke-width="0"/>
<circle cx="141" cy="309.6" r="1.5" fill="#33708f" stroke="none" stroke-width="0"/>
<polygon points="154.59 310.77 152.48 311.37 152.72 313.55 150.8 312.48 149.43 314.19 148.83 312.08 146.65 312.32 147.72 310.4 146.01 309.03 148.12 308.43 147.88 306.25 149.8 307.32 151.17 305.61 151.77 307.72 153.95 307.48 152.88 309.4" fill="#9ccbdc" stroke="#7fb5ca" stroke-width="0.3"/>
<circle cx="150.3" cy="309.9" r="2.62" fill="#4a8cab" stroke="none" stroke-width="0"/>
<circle cx="150" cy="309.6" r="1.5" fill="#33708f" stroke="none" stroke-width="0"/>
<text x="146" y="326" font-size="4.8" text-anchor="middle" font-weight="normal" fill="#111" stroke="#111" stroke-width="0.12">Autologous B cell</text>
<rect x="126.5" y="327.2" width="38.9" height="23.6" fill="#f3f9fc" stroke="#c8c8c8" stroke-width="0.6" rx="0"/>
<rect x="126.8" y="330.2" width="38.3" height="20.6" fill="url(#gTan)" stroke="none" stroke-width="0" rx="0"/>
<line x1="127" y1="350.8" x2="164.9" y2="350.8" stroke="#b5a99a" stroke-width="0.8"/>
<polygon points="140.79 338.87 138.68 339.47 138.92 341.65 137 340.58 135.63 342.29 135.03 340.18 132.85 340.42 133.92 338.5 132.21 337.13 134.32 336.53 134.08 334.35 136 335.42 137.37 333.71 137.97 335.82 140.15 335.58 139.08 337.5" fill="#9ccbdc" stroke="#7fb5ca" stroke-width="0.3"/>
<circle cx="136.5" cy="338" r="2.62" fill="#4a8cab" stroke="none" stroke-width="0"/>
<circle cx="136.2" cy="337.7" r="1.5" fill="#33708f" stroke="none" stroke-width="0"/>
<polygon points="150.09 338.87 147.98 339.47 148.22 341.65 146.3 340.58 144.93 342.29 144.33 340.18 142.15 340.42 143.22 338.5 141.51 337.13 143.62 336.53 143.38 334.35 145.3 335.42 146.67 333.71 147.27 335.82 149.45 335.58 148.38 337.5" fill="#9ccbdc" stroke="#7fb5ca" stroke-width="0.3"/>
<circle cx="145.8" cy="338" r="2.62" fill="#4a8cab" stroke="none" stroke-width="0"/>
<circle cx="145.5" cy="337.7" r="1.5" fill="#33708f" stroke="none" stroke-width="0"/>
<polygon points="159.29 338.87 157.18 339.47 157.42 341.65 155.5 340.58 154.13 342.29 153.53 340.18 151.35 340.42 152.42 338.5 150.71 337.13 152.82 336.53 152.58 334.35 154.5 335.42 155.87 333.71 156.47 335.82 158.65 335.58 157.58 337.5" fill="#9ccbdc" stroke="#7fb5ca" stroke-width="0.3"/>
<circle cx="155" cy="338" r="2.62" fill="#4a8cab" stroke="none" stroke-width="0"/>
<circle cx="154.7" cy="337.7" r="1.5" fill="#33708f" stroke="none" stroke-width="0"/>
<polygon points="145.59 344.27 143.48 344.87 143.72 347.05 141.8 345.98 140.43 347.69 139.83 345.58 137.65 345.82 138.72 343.9 137.01 342.53 139.12 341.93 138.88 339.75 140.8 340.82 142.17 339.11 142.77 341.22 144.95 340.98 143.88 342.9" fill="#9ccbdc" stroke="#7fb5ca" stroke-width="0.3"/>
<circle cx="141.3" cy="343.4" r="2.62" fill="#4a8cab" stroke="none" stroke-width="0"/>
<circle cx="141" cy="343.1" r="1.5" fill="#33708f" stroke="none" stroke-width="0"/>
<polygon points="154.59 344.27 152.48 344.87 152.72 347.05 150.8 345.98 149.43 347.69 148.83 345.58 146.65 345.82 147.72 343.9 146.01 342.53 148.12 341.93 147.88 339.75 149.8 340.82 151.17 339.11 151.77 341.22 153.95 340.98 152.88 342.9" fill="#9ccbdc" stroke="#7fb5ca" stroke-width="0.3"/>
<circle cx="150.3" cy="343.4" r="2.62" fill="#4a8cab" stroke="none" stroke-width="0"/>
<circle cx="150" cy="343.1" r="1.5" fill="#33708f" stroke="none" stroke-width="0"/>
<text x="146" y="359" font-size="4.8" text-anchor="middle" font-weight="normal" fill="#111" stroke="#111" stroke-width="0.12">Autologous B cell</text>
<rect x="126.5" y="359.8" width="38.9" height="24" fill="#f3f9fc" stroke="#c8c8c8" stroke-width="0.6" rx="0"/>
<rect x="126.8" y="362.5" width="38.3" height="21.3" fill="url(#gTan)" stroke="none" stroke-width="0" rx="0"/>
<line x1="127" y1="383.8" x2="164.9" y2="383.8" stroke="#b5a99a" stroke-width="0.8"/>
<polygon points="140.79 371.17 138.68 371.77 138.92 373.95 137 372.88 135.63 374.59 135.03 372.48 132.85 372.72 133.92 370.8 132.21 369.43 134.32 368.83 134.08 366.65 136 367.72 137.37 366.01 137.97 368.12 140.15 367.88 139.08 369.8" fill="#9ccbdc" stroke="#7fb5ca" stroke-width="0.3"/>
<circle cx="136.5" cy="370.3" r="2.62" fill="#4a8cab" stroke="none" stroke-width="0"/>
<circle cx="136.2" cy="370" r="1.5" fill="#33708f" stroke="none" stroke-width="0"/>
<polygon points="150.09 371.17 147.98 371.77 148.22 373.95 146.3 372.88 144.93 374.59 144.33 372.48 142.15 372.72 143.22 370.8 141.51 369.43 143.62 368.83 143.38 366.65 145.3 367.72 146.67 366.01 147.27 368.12 149.45 367.88 148.38 369.8" fill="#9ccbdc" stroke="#7fb5ca" stroke-width="0.3"/>
<circle cx="145.8" cy="370.3" r="2.62" fill="#4a8cab" stroke="none" stroke-width="0"/>
<circle cx="145.5" cy="370" r="1.5" fill="#33708f" stroke="none" stroke-width="0"/>
<polygon points="159.29 371.17 157.18 371.77 157.42 373.95 155.5 372.88 154.13 374.59 153.53 372.48 151.35 372.72 152.42 370.8 150.71 369.43 152.82 368.83 152.58 366.65 154.5 367.72 155.87 366.01 156.47 368.12 158.65 367.88 157.58 369.8" fill="#9ccbdc" stroke="#7fb5ca" stroke-width="0.3"/>
<circle cx="155" cy="370.3" r="2.62" fill="#4a8cab" stroke="none" stroke-width="0"/>
<circle cx="154.7" cy="370" r="1.5" fill="#33708f" stroke="none" stroke-width="0"/>
<polygon points="145.59 376.57 143.48 377.17 143.72 379.35 141.8 378.28 140.43 379.99 139.83 377.88 137.65 378.12 138.72 376.2 137.01 374.83 139.12 374.23 138.88 372.05 140.8 373.12 142.17 371.41 142.77 373.52 144.95 373.28 143.88 375.2" fill="#9ccbdc" stroke="#7fb5ca" stroke-width="0.3"/>
<circle cx="141.3" cy="375.7" r="2.62" fill="#4a8cab" stroke="none" stroke-width="0"/>
<circle cx="141" cy="375.4" r="1.5" fill="#33708f" stroke="none" stroke-width="0"/>
<polygon points="154.59 376.57 152.48 377.17 152.72 379.35 150.8 378.28 149.43 379.99 148.83 377.88 146.65 378.12 147.72 376.2 146.01 374.83 148.12 374.23 147.88 372.05 149.8 373.12 151.17 371.41 151.77 373.52 153.95 373.28 152.88 375.2" fill="#9ccbdc" stroke="#7fb5ca" stroke-width="0.3"/>
<circle cx="150.3" cy="375.7" r="2.62" fill="#4a8cab" stroke="none" stroke-width="0"/>
<circle cx="150" cy="375.4" r="1.5" fill="#33708f" stroke="none" stroke-width="0"/>
<text x="173.7" y="342.25" font-size="6.9" text-anchor="middle" font-weight="normal" fill="#111" stroke="#111" stroke-width="0.17" transform="rotate(-90 173.7 339.8)">CD40LG (5-day)</text>
<line x1="178" y1="339.4" x2="184.5" y2="339.4" stroke="#111" stroke-width="0.8"/>
<path d="M183.8 337.8 L187.8 339.4 L183.8 341 Z" fill="#111"/>
<rect x="189.3" y="322.6" width="51.8" height="31.4" fill="#d9d9d9" stroke="#707070" stroke-width="0.8" rx="4"/>
<text x="215.2" y="332.26" font-size="7.5" text-anchor="middle" font-weight="normal" fill="#111" stroke="#111" stroke-width="0.18">Assessment</text>
<text x="215.2" y="340.56" font-size="7.5" text-anchor="middle" font-weight="normal" fill="#111" stroke="#111" stroke-width="0.18">of plasma cell</text>
<text x="215.2" y="349.16" font-size="7.5" text-anchor="middle" font-weight="normal" fill="#111" stroke="#111" stroke-width="0.18">generation</text>
<text x="251.09" y="277.53" font-size="12.3" font-weight="bold" fill="#000" stroke="#000" stroke-width="0.25">F</text>
<line x1="290.2" y1="289.1" x2="290.2" y2="295.2" stroke="#555" stroke-width="0.8"/>
<line x1="290.2" y1="300.4" x2="290.2" y2="366.7" stroke="#555" stroke-width="0.8"/>
<line x1="288.4" y1="300.4" x2="292" y2="300.4" stroke="#555" stroke-width="0.8"/>
<line x1="288" y1="289.4" x2="290.2" y2="289.4" stroke="#555" stroke-width="0.8"/>
<text x="286.2" y="291.74" font-size="6.6" text-anchor="end" font-weight="normal" fill="#111" stroke="#111" stroke-width="0.16">4,000</text>
<line x1="288" y1="294.9" x2="290.2" y2="294.9" stroke="#555" stroke-width="0.8"/>
<text x="286.2" y="297.24" font-size="6.6" text-anchor="end" font-weight="normal" fill="#111" stroke="#111" stroke-width="0.16">2,000</text>
<line x1="288" y1="307.7" x2="290.2" y2="307.7" stroke="#555" stroke-width="0.8"/>
<text x="286.2" y="310.04" font-size="6.6" text-anchor="end" font-weight="normal" fill="#111" stroke="#111" stroke-width="0.16">800</text>
<line x1="288" y1="322.3" x2="290.2" y2="322.3" stroke="#555" stroke-width="0.8"/>
<text x="286.2" y="324.64" font-size="6.6" text-anchor="end" font-weight="normal" fill="#111" stroke="#111" stroke-width="0.16">600</text>
<line x1="288" y1="337" x2="290.2" y2="337" stroke="#555" stroke-width="0.8"/>
<text x="286.2" y="339.34" font-size="6.6" text-anchor="end" font-weight="normal" fill="#111" stroke="#111" stroke-width="0.16">400</text>
<line x1="288" y1="351.6" x2="290.2" y2="351.6" stroke="#555" stroke-width="0.8"/>
<text x="286.2" y="353.94" font-size="6.6" text-anchor="end" font-weight="normal" fill="#111" stroke="#111" stroke-width="0.16">200</text>
<line x1="288" y1="366.7" x2="290.2" y2="366.7" stroke="#555" stroke-width="0.8"/>
<text x="286.2" y="369.04" font-size="6.6" text-anchor="end" font-weight="normal" fill="#111" stroke="#111" stroke-width="0.16">0</text>
<line x1="290.2" y1="366.7" x2="392" y2="366.7" stroke="#555" stroke-width="0.8"/>
<line x1="289" y1="382" x2="399" y2="382" stroke="#e2e2e2" stroke-width="0.8"/>
<line x1="296.1" y1="366.7" x2="296.1" y2="368.8" stroke="#555" stroke-width="0.8"/>
<text x="296.1" y="377.81" font-size="6.8" text-anchor="middle" font-weight="normal" fill="#111" stroke="#111" stroke-width="0.16">0</text>
<line x1="310.6" y1="366.7" x2="310.6" y2="368.8" stroke="#555" stroke-width="0.8"/>
<text x="310.6" y="377.81" font-size="6.8" text-anchor="middle" font-weight="normal" fill="#111" stroke="#111" stroke-width="0.16">12</text>
<line x1="329.3" y1="366.7" x2="329.3" y2="368.8" stroke="#555" stroke-width="0.8"/>
<text x="329.3" y="377.81" font-size="6.8" text-anchor="middle" font-weight="normal" fill="#111" stroke="#111" stroke-width="0.16">18</text>
<line x1="349" y1="366.7" x2="349" y2="368.8" stroke="#555" stroke-width="0.8"/>
<text x="349" y="377.81" font-size="6.8" text-anchor="middle" font-weight="normal" fill="#111" stroke="#111" stroke-width="0.16">24</text>
<line x1="368.3" y1="366.7" x2="368.3" y2="368.8" stroke="#555" stroke-width="0.8"/>
<text x="368.3" y="377.81" font-size="6.8" text-anchor="middle" font-weight="normal" fill="#111" stroke="#111" stroke-width="0.16">48</text>
<line x1="387.9" y1="366.7" x2="387.9" y2="368.8" stroke="#555" stroke-width="0.8"/>
<text x="387.9" y="377.81" font-size="6.8" text-anchor="middle" font-weight="normal" fill="#111" stroke="#111" stroke-width="0.16">72</text>
<text x="346.6" y="391.03" font-size="7.4" text-anchor="middle" font-weight="normal" fill="#111" stroke="#111" stroke-width="0.18">Incubation with IL21 (h)</text>
<text x="261.4" y="330.41" font-size="8.2" text-anchor="middle" font-weight="normal" fill="#111" stroke="#111" stroke-width="0.2" transform="rotate(-90 261.4 327.5)">IL21 level (pg/mL)</text>
<polyline points="310.6 315.4 329.3 325.8 349 337.9 368.3 329.2 387.9 319.1" fill="none" stroke="#8a8a8a" stroke-width="0.7" stroke-dasharray="1.6 1.2"/>
<line x1="310.6" y1="311.3" x2="310.6" y2="319.4" stroke="#555" stroke-width="0.6"/>
<line x1="309.2" y1="311.3" x2="312" y2="311.3" stroke="#555" stroke-width="0.6"/>
<line x1="309.2" y1="319.4" x2="312" y2="319.4" stroke="#555" stroke-width="0.6"/>
<circle cx="310.6" cy="315.4" r="1.55" fill="#4a4a4a" stroke="#333" stroke-width="0.4"/>
<line x1="329.3" y1="323.5" x2="329.3" y2="328.5" stroke="#555" stroke-width="0.6"/>
<line x1="327.9" y1="323.5" x2="330.7" y2="323.5" stroke="#555" stroke-width="0.6"/>
<line x1="327.9" y1="328.5" x2="330.7" y2="328.5" stroke="#555" stroke-width="0.6"/>
<circle cx="329.3" cy="325.8" r="1.55" fill="#4a4a4a" stroke="#333" stroke-width="0.4"/>
<line x1="349" y1="335" x2="349" y2="341" stroke="#555" stroke-width="0.6"/>
<line x1="347.6" y1="335" x2="350.4" y2="335" stroke="#555" stroke-width="0.6"/>
<line x1="347.6" y1="341" x2="350.4" y2="341" stroke="#555" stroke-width="0.6"/>
<circle cx="349" cy="337.9" r="1.55" fill="#4a4a4a" stroke="#333" stroke-width="0.4"/>
<line x1="368.3" y1="322.5" x2="368.3" y2="334.5" stroke="#555" stroke-width="0.6"/>
<line x1="366.9" y1="322.5" x2="369.7" y2="322.5" stroke="#555" stroke-width="0.6"/>
<line x1="366.9" y1="334.5" x2="369.7" y2="334.5" stroke="#555" stroke-width="0.6"/>
<circle cx="368.3" cy="329.2" r="1.55" fill="#4a4a4a" stroke="#333" stroke-width="0.4"/>
<line x1="387.9" y1="315" x2="387.9" y2="323" stroke="#555" stroke-width="0.6"/>
<line x1="386.5" y1="315" x2="389.3" y2="315" stroke="#555" stroke-width="0.6"/>
<line x1="386.5" y1="323" x2="389.3" y2="323" stroke="#555" stroke-width="0.6"/>
<circle cx="387.9" cy="319.1" r="1.55" fill="#4a4a4a" stroke="#333" stroke-width="0.4"/>
<rect x="294.9" y="292" width="3" height="3" fill="#333" stroke="none" stroke-width="0" rx="0.5"/>
<line x1="299.8" y1="288.3" x2="349.5" y2="288.3" stroke="#444" stroke-width="0.6"/>
<text x="323" y="286.16" font-size="4.4" text-anchor="middle" font-weight="normal" fill="#111" stroke="#111" stroke-width="0.11"><tspan font-style="italic">P</tspan> &lt; 0.0001</text>
<line x1="350.4" y1="301.5" x2="389.3" y2="301.5" stroke="#444" stroke-width="0.6"/>
<text x="369.1" y="298.86" font-size="4.4" text-anchor="middle" font-weight="normal" fill="#111" stroke="#111" stroke-width="0.11"><tspan font-style="italic">P</tspan> &lt; 0.01</text>
<text x="410.82" y="277.83" font-size="12.3" font-weight="bold" fill="#000" stroke="#000" stroke-width="0.25">G</text>
<line x1="443" y1="288" x2="443" y2="368.25" stroke="#333" stroke-width="0.8"/>
<line x1="443" y1="368.25" x2="516" y2="368.25" stroke="#333" stroke-width="0.8"/>
<line x1="440.8" y1="288" x2="443" y2="288" stroke="#333" stroke-width="0.8"/>
<text x="439.4" y="290.41" font-size="6.8" text-anchor="end" font-weight="normal" fill="#2a2a2a" stroke="#2a2a2a" stroke-width="0.16">800</text>
<line x1="440.8" y1="308.1" x2="443" y2="308.1" stroke="#333" stroke-width="0.8"/>
<text x="439.4" y="310.51" font-size="6.8" text-anchor="end" font-weight="normal" fill="#2a2a2a" stroke="#2a2a2a" stroke-width="0.16">600</text>
<line x1="440.8" y1="328.2" x2="443" y2="328.2" stroke="#333" stroke-width="0.8"/>
<text x="439.4" y="330.61" font-size="6.8" text-anchor="end" font-weight="normal" fill="#2a2a2a" stroke="#2a2a2a" stroke-width="0.16">400</text>
<line x1="440.8" y1="348.2" x2="443" y2="348.2" stroke="#333" stroke-width="0.8"/>
<text x="439.4" y="350.61" font-size="6.8" text-anchor="end" font-weight="normal" fill="#2a2a2a" stroke="#2a2a2a" stroke-width="0.16">200</text>
<line x1="440.8" y1="368.25" x2="443" y2="368.25" stroke="#333" stroke-width="0.8"/>
<text x="439.4" y="370.66" font-size="6.8" text-anchor="end" font-weight="normal" fill="#2a2a2a" stroke="#2a2a2a" stroke-width="0.16">0</text>
<rect x="451.25" y="312" width="15.75" height="56.25" fill="#c4c4c4" stroke="#5a5a5a" stroke-width="0.75" rx="0"/>
<line x1="459.12" y1="306.5" x2="459.12" y2="318" stroke="#333" stroke-width="0.7"/>
<line x1="457.52" y1="306.5" x2="460.73" y2="306.5" stroke="#333" stroke-width="0.7"/>
<line x1="457.52" y1="318" x2="460.73" y2="318" stroke="#333" stroke-width="0.7"/>
<circle cx="459.12" cy="307.5" r="1.1" fill="none" stroke="#444" stroke-width="0.55"/>
<circle cx="458.12" cy="314" r="1.1" fill="none" stroke="#444" stroke-width="0.55"/>
<circle cx="460.12" cy="317" r="1.1" fill="none" stroke="#444" stroke-width="0.55"/>
<rect x="475" y="314.25" width="15.75" height="54" fill="#8ec0ec" stroke="#3a5a85" stroke-width="0.75" rx="0"/>
<line x1="482.88" y1="308" x2="482.88" y2="320" stroke="#3a5a85" stroke-width="0.7"/>
<line x1="481.27" y1="308" x2="484.48" y2="308" stroke="#3a5a85" stroke-width="0.7"/>
<line x1="481.27" y1="320" x2="484.48" y2="320" stroke="#3a5a85" stroke-width="0.7"/>
<circle cx="482.88" cy="309.5" r="1.1" fill="none" stroke="#3a5a85" stroke-width="0.55"/>
<circle cx="482.88" cy="314" r="1.1" fill="none" stroke="#3a5a85" stroke-width="0.55"/>
<circle cx="482.88" cy="319" r="1.1" fill="none" stroke="#3a5a85" stroke-width="0.55"/>
<rect x="498.75" y="334.25" width="15.5" height="34" fill="#f4868b" stroke="#963232" stroke-width="0.75" rx="0"/>
<line x1="506.5" y1="332" x2="506.5" y2="337" stroke="#963232" stroke-width="0.7"/>
<line x1="504.9" y1="332" x2="508.1" y2="332" stroke="#963232" stroke-width="0.7"/>
<line x1="504.9" y1="337" x2="508.1" y2="337" stroke="#963232" stroke-width="0.7"/>
<circle cx="504.5" cy="333" r="1.1" fill="none" stroke="#963232" stroke-width="0.55"/>
<circle cx="506.5" cy="334" r="1.1" fill="none" stroke="#963232" stroke-width="0.55"/>
<circle cx="508.5" cy="333" r="1.1" fill="none" stroke="#963232" stroke-width="0.55"/>
<circle cx="506.5" cy="336.5" r="1.1" fill="none" stroke="#963232" stroke-width="0.55"/>
<text x="458.75" y="377.24" font-size="6.3" text-anchor="middle" font-weight="normal" fill="#111" stroke="#111" stroke-width="0.15">T cell</text>
<text x="483" y="377.24" font-size="6.3" text-anchor="middle" font-weight="normal" fill="#111" stroke="#111" stroke-width="0.15">T+B</text>
<text x="507" y="377.24" font-size="6.3" text-anchor="middle" font-weight="normal" fill="#111" stroke="#111" stroke-width="0.15">T+Breg</text>
<text x="419.8" y="333.48" font-size="8.4" text-anchor="middle" font-weight="normal" fill="#111" stroke="#111" stroke-width="0.2" transform="rotate(-90 419.8 330.5)">IL21 level (pg/mL)</text>
<line x1="458" y1="300.75" x2="482.5" y2="300.75" stroke="#333" stroke-width="0.6"/>
<text x="470.2" y="299.16" font-size="4.4" text-anchor="middle" font-weight="normal" fill="#111" stroke="#111" stroke-width="0.11">NS</text>
<line x1="458" y1="293.25" x2="507" y2="293.25" stroke="#333" stroke-width="0.6"/>
<text x="481.25" y="289.96" font-size="4.4" text-anchor="middle" font-weight="normal" fill="#111" stroke="#111" stroke-width="0.11"><tspan font-style="italic">P</tspan> &lt; 0.01</text>
<text x="1.81" y="419.03" font-size="12.3" font-weight="bold" fill="#000" stroke="#000" stroke-width="0.25">H</text>
<text x="22" y="421.62" font-size="7.95" text-anchor="start" font-weight="normal" fill="#111" stroke="#111" stroke-width="0.19" transform="matrix(1,0,0,1.18,0,-75.89)">CD19<tspan font-size="65%" dy="-2.2">+</tspan><tspan dy="2.2"> B cell gated</tspan></text>
<text x="168.4" y="420.7" font-size="7.6" text-anchor="start" font-weight="normal" fill="#111" stroke="#111" stroke-width="0.18" transform="matrix(1,0,0,1.2,0,-84.14)">Autologous B cell cultured with supernatant from</text>
<line x1="117.3" y1="425.5" x2="381.5" y2="425.5" stroke="#9a9a9a" stroke-width="0.8"/>
<text x="61.3" y="435.4" font-size="7.9" text-anchor="middle" font-weight="normal" fill="#111" stroke="#111" stroke-width="0.19" transform="matrix(1,0,0,1.18,0,-78.37)">FMO</text>
<text x="157" y="435.4" font-size="7.9" text-anchor="middle" font-weight="normal" fill="#111" stroke="#111" stroke-width="0.19" transform="matrix(1,0,0,1.18,0,-78.37)">Tfh alone</text>
<text x="247.5" y="435.4" font-size="7.9" text-anchor="middle" font-weight="normal" fill="#111" stroke="#111" stroke-width="0.19" transform="matrix(1,0,0,1.18,0,-78.37)">Tfh +B(-Breg) cell</text>
<text x="340.5" y="435.4" font-size="7.9" text-anchor="middle" font-weight="normal" fill="#111" stroke="#111" stroke-width="0.19" transform="matrix(1,0,0,1.18,0,-78.37)">Tfh +Breg</text>
<text x="10.4" y="477.15" font-size="8.3" text-anchor="middle" font-weight="normal" fill="#111" stroke="#111" stroke-width="0.2" transform="rotate(-90 10.4 474.2)">CD138 PerCP-Cy5.5</text>
<text x="214.2" y="528.98" font-size="8.1" text-anchor="middle" font-weight="normal" fill="#111" stroke="#111" stroke-width="0.19" transform="matrix(1,0,0,1.14,0,-74.06)">CD38 APC</text>
<rect x="26.1" y="438.3" width="79" height="77.8" fill="none" stroke="#666" stroke-width="0.7" rx="0"/>
<line x1="23.7" y1="444.7" x2="26.1" y2="444.7" stroke="#666" stroke-width="0.6"/>
<line x1="23.7" y1="462.9" x2="26.1" y2="462.9" stroke="#666" stroke-width="0.6"/>
<line x1="23.7" y1="481.9" x2="26.1" y2="481.9" stroke="#666" stroke-width="0.6"/>
<line x1="23.7" y1="500" x2="26.1" y2="500" stroke="#666" stroke-width="0.6"/>
<line x1="30.1" y1="516.1" x2="30.1" y2="518.5" stroke="#666" stroke-width="0.6"/>
<line x1="35.1" y1="516.1" x2="35.1" y2="518.5" stroke="#666" stroke-width="0.6"/>
<line x1="43.9" y1="516.1" x2="43.9" y2="518.5" stroke="#666" stroke-width="0.6"/>
<line x1="62.9" y1="516.1" x2="62.9" y2="518.5" stroke="#666" stroke-width="0.6"/>
<line x1="80.9" y1="516.1" x2="80.9" y2="518.5" stroke="#666" stroke-width="0.6"/>
<line x1="98.9" y1="516.1" x2="98.9" y2="518.5" stroke="#666" stroke-width="0.6"/>
<rect x="117.8" y="438.3" width="78.4" height="77.8" fill="none" stroke="#666" stroke-width="0.7" rx="0"/>
<line x1="115.4" y1="444.7" x2="117.8" y2="444.7" stroke="#666" stroke-width="0.6"/>
<line x1="115.4" y1="462.9" x2="117.8" y2="462.9" stroke="#666" stroke-width="0.6"/>
<line x1="115.4" y1="481.9" x2="117.8" y2="481.9" stroke="#666" stroke-width="0.6"/>
<line x1="115.4" y1="500" x2="117.8" y2="500" stroke="#666" stroke-width="0.6"/>
<line x1="121.8" y1="516.1" x2="121.8" y2="518.5" stroke="#666" stroke-width="0.6"/>
<line x1="126.8" y1="516.1" x2="126.8" y2="518.5" stroke="#666" stroke-width="0.6"/>
<line x1="135.6" y1="516.1" x2="135.6" y2="518.5" stroke="#666" stroke-width="0.6"/>
<line x1="154.6" y1="516.1" x2="154.6" y2="518.5" stroke="#666" stroke-width="0.6"/>
<line x1="172.6" y1="516.1" x2="172.6" y2="518.5" stroke="#666" stroke-width="0.6"/>
<line x1="190.6" y1="516.1" x2="190.6" y2="518.5" stroke="#666" stroke-width="0.6"/>
<rect x="209.9" y="438.3" width="80.9" height="77.8" fill="none" stroke="#8a93b0" stroke-width="0.7" rx="0"/>
<line x1="207.5" y1="444.7" x2="209.9" y2="444.7" stroke="#666" stroke-width="0.6"/>
<line x1="207.5" y1="462.9" x2="209.9" y2="462.9" stroke="#666" stroke-width="0.6"/>
<line x1="207.5" y1="481.9" x2="209.9" y2="481.9" stroke="#666" stroke-width="0.6"/>
<line x1="207.5" y1="500" x2="209.9" y2="500" stroke="#666" stroke-width="0.6"/>
<line x1="213.9" y1="516.1" x2="213.9" y2="518.5" stroke="#666" stroke-width="0.6"/>
<line x1="218.9" y1="516.1" x2="218.9" y2="518.5" stroke="#666" stroke-width="0.6"/>
<line x1="227.3" y1="516.1" x2="227.3" y2="518.5" stroke="#666" stroke-width="0.6"/>
<line x1="246.3" y1="516.1" x2="246.3" y2="518.5" stroke="#666" stroke-width="0.6"/>
<line x1="264.3" y1="516.1" x2="264.3" y2="518.5" stroke="#666" stroke-width="0.6"/>
<line x1="282.3" y1="516.1" x2="282.3" y2="518.5" stroke="#666" stroke-width="0.6"/>
<rect x="301.9" y="438.3" width="78.7" height="77.8" fill="none" stroke="#e38d8d" stroke-width="0.7" rx="0"/>
<line x1="299.5" y1="444.7" x2="301.9" y2="444.7" stroke="#666" stroke-width="0.6"/>
<line x1="299.5" y1="462.9" x2="301.9" y2="462.9" stroke="#666" stroke-width="0.6"/>
<line x1="299.5" y1="481.9" x2="301.9" y2="481.9" stroke="#666" stroke-width="0.6"/>
<line x1="299.5" y1="500" x2="301.9" y2="500" stroke="#666" stroke-width="0.6"/>
<line x1="305.9" y1="516.1" x2="305.9" y2="518.5" stroke="#666" stroke-width="0.6"/>
<line x1="310.9" y1="516.1" x2="310.9" y2="518.5" stroke="#666" stroke-width="0.6"/>
<line x1="319.2" y1="516.1" x2="319.2" y2="518.5" stroke="#666" stroke-width="0.6"/>
<line x1="338.2" y1="516.1" x2="338.2" y2="518.5" stroke="#666" stroke-width="0.6"/>
<line x1="356.2" y1="516.1" x2="356.2" y2="518.5" stroke="#666" stroke-width="0.6"/>
<line x1="374.2" y1="516.1" x2="374.2" y2="518.5" stroke="#666" stroke-width="0.6"/>
<path d="M59.55 475.02h0.7M61.71 484.28h0.7M44.48 470.78h0.7M59.59 477.32h0.7M74.68 486.49h0.7M50.33 482.45h0.7M53.84 479.05h0.7M63.03 487.7h0.7M63.62 475.77h0.7M60.62 483.71h0.7M40.44 479.01h0.7M59.52 476.92h0.7M44.35 484.78h0.7M47.58 476.04h0.7M59.93 493.41h0.7M52.34 478.49h0.7M62.29 493.94h0.7M83.33 475.44h0.7M61.99 485.64h0.7M61.51 474.8h0.7M46.94 473.95h0.7M49.21 482.96h0.7M45.43 486.07h0.7M50.21 474.35h0.7M45.17 489.1h0.7M49.06 477.21h0.7M53.12 482.79h0.7M45.99 484.28h0.7M42.23 485.57h0.7M42.75 471.21h0.7M59.09 491.71h0.7M55.54 485.37h0.7M64.23 479.45h0.7M64.4 475.86h0.7M51.93 471.84h0.7M61.03 473.83h0.7M42.04 485.27h0.7M75.55 479.95h0.7M65.76 475.21h0.7M53.06 478.84h0.7" stroke="#c8c8c8" stroke-width="0.7" opacity="1" fill="none"/>
<g clip-path="url(#cH1)"><path d="M71.5 469.99 L72 470.02 L73 470.29 L73.5 470.55 L74.12 471 L74.61 471.5 L75 472.06 L75.44 473 L75.58 473.5 L75.7 474.5 L75.61 475.5 L75.48 476 L75.09 477 L74.79 477.5 L74.41 478 L73.95 478.5 L73.4 479 L72.82 479.5 L72.34 480 L72 481 L72.04 482 L72.1 483 L72.02 484 L71.93 484.5 L71.58 485.5 L71.34 486 L71 486.53 L70.5 487.19 L70 487.74 L69.5 488.2 L69 488.61 L68.46 489 L67.67 489.5 L67 489.88 L66.5 490.13 L65.66 490.5 L65 490.78 L64.33 491 L63.5 491.28 L62.66 491.5 L62 491.68 L61 491.89 L60.3 492 L59.5 492.14 L58.5 492.26 L57.5 492.35 L56.5 492.4 L55.5 492.43 L54.5 492.42 L53.5 492.38 L52.5 492.31 L51.5 492.2 L50.5 492.04 L50 491.96 L49 491.76 L48.02 491.5 L47.5 491.36 L46.5 491.03 L46 490.86 L45.13 490.5 L44.5 490.22 L44 489.97 L43.15 489.5 L42.5 489.1 L42 488.76 L41.5 488.37 L41 487.95 L40.5 487.47 L40 486.93 L39.5 486.3 L39 485.51 L38.73 485 L38.5 484.4 L38.24 483.5 L38.14 482.5 L38.2 481.5 L38.46 480.5 L38.64 480 L39 479.32 L39.5 478.56 L39.96 478 L40.45 477.5 L41 477.02 L41.5 476.63 L42 476.28 L42.5 475.98 L43.4 475.5 L44 475.21 L44.55 475 L45.5 474.65 L46.04 474.5 L47 474.23 L48 474.05 L48.5 473.97 L49.5 473.83 L50.5 473.75 L51.5 473.72 L52.5 473.73 L53.5 473.78 L54.5 473.87 L55.46 474 L56 474.07 L57 474.22 L58 474.41 L58.5 474.52 L59.5 474.7 L60.5 474.92 L61 475.03 L62 475.24 L63 475.5 L63.5 475.61 L64.5 475.84 L65.5 475.99 L66.5 475.65 L66.82 475 L67 474.44 L67.25 473.5 L67.5 472.89 L67.97 472 L68.34 471.5 L68.85 471 L69.5 470.53 L70 470.28 L71 470.02 L71.5 469.99 Z" fill="none" stroke="#444" stroke-width="0.55"/><path d="M84 470.78 L85 470.6 L86 470.78 L86.5 471.05 L87 471.54 L87.24 472.5 L87 473.06 L86.5 473.56 L85.5 473.95 L84.5 473.95 L83.5 473.56 L83 473.06 L82.76 472.5 L83 471.54 L83.5 471.05 L84 470.78 Z" fill="none" stroke="#444" stroke-width="0.55"/><path d="M70.5 472.27 L71.5 472.02 L72.5 472.28 L73 472.64 L73.5 473.31 L73.75 474 L73.77 475 L73.5 475.79 L73 476.5 L72.5 476.89 L72 477.12 L71 477.22 L70.32 477 L69.7 476.5 L69.38 476 L69.11 475 L69.18 474 L69.5 473.23 L70 472.61 L70.5 472.27 Z" fill="none" stroke="#444" stroke-width="0.55"/><path d="M48.5 475.45 L49.5 475.29 L50.5 475.2 L51.5 475.17 L52.5 475.2 L53.5 475.27 L54.5 475.39 L55.17 475.5 L56 475.63 L57 475.82 L57.8 476 L58.5 476.13 L59.5 476.34 L60.2 476.5 L61 476.66 L62 476.89 L62.5 477.03 L63.5 477.3 L64.09 477.5 L65 477.82 L65.5 478.03 L66.49 478.5 L67 478.78 L67.5 479.11 L68 479.53 L68.5 480.07 L69 480.83 L69.32 481.5 L69.5 482.16 L69.62 483 L69.52 484 L69.38 484.5 L69 485.31 L68.54 486 L68.1 486.5 L67.56 487 L67 487.43 L66.5 487.77 L66 488.05 L65.08 488.5 L64.5 488.75 L63.76 489 L63 489.24 L62 489.47 L61.5 489.58 L60.5 489.75 L59.5 489.86 L58.5 489.93 L57.5 489.97 L56.5 489.98 L55.5 489.96 L54.5 489.92 L53.5 489.86 L52.5 489.76 L51.5 489.63 L50.72 489.5 L50 489.38 L49 489.15 L48.45 489 L47.5 488.72 L46.9 488.5 L46 488.14 L45.5 487.91 L44.74 487.5 L44 487.05 L43.5 486.7 L43 486.29 L42.5 485.82 L42 485.26 L41.5 484.55 L41.19 484 L41 483.5 L40.76 482.5 L40.75 481.5 L40.98 480.5 L41.18 480 L41.5 479.44 L42 478.75 L42.5 478.22 L43 477.77 L43.5 477.4 L44.12 477 L45 476.54 L45.5 476.31 L46.34 476 L47 475.78 L48 475.54 L48.5 475.45 Z" fill="none" stroke="#444" stroke-width="0.55"/><path d="M51 476.48 L52 476.47 L52.5 476.5 L53.5 476.58 L54.5 476.72 L55.5 476.9 L56 477 L57 477.2 L58 477.42 L58.5 477.52 L59.5 477.72 L60.5 477.93 L61 478.04 L62 478.28 L62.72 478.5 L63.5 478.76 L64.07 479 L65 479.47 L65.5 479.79 L66 480.17 L66.5 480.65 L67 481.3 L67.35 482 L67.5 482.63 L67.52 483.5 L67.41 484 L67 484.89 L66.54 485.5 L66.03 486 L65.5 486.41 L65 486.74 L64.5 487 L63.5 487.43 L63 487.6 L62 487.87 L61.24 488 L60.5 488.11 L59.5 488.2 L58.5 488.23 L57.5 488.22 L56.5 488.18 L55.5 488.11 L54.5 488.02 L54 487.98 L53 487.89 L52 487.78 L51 487.64 L50.24 487.5 L49.5 487.36 L48.5 487.09 L48 486.94 L47 486.56 L46.5 486.33 L45.89 486 L45.12 485.5 L44.5 485 L44.01 484.5 L43.61 484 L43.31 483.5 L43 482.63 L42.9 482 L42.99 481 L43.14 480.5 L43.5 479.82 L44 479.16 L44.5 478.67 L45 478.27 L45.5 477.95 L46.35 477.5 L47 477.22 L47.7 477 L48.5 476.78 L49.5 476.6 L50.5 476.5 L51 476.48 Z" fill="none" stroke="#444" stroke-width="0.55"/><path d="M49 477.96 L50 477.76 L51 477.67 L52 477.67 L53 477.74 L54 477.87 L54.68 478 L55.5 478.16 L56.5 478.37 L57.07 478.5 L58 478.68 L59 478.88 L59.6 479 L60.5 479.18 L61.5 479.44 L62 479.59 L63 479.98 L63.5 480.23 L64 480.53 L64.6 481 L65.05 481.5 L65.5 482.37 L65.62 483 L65.5 483.75 L65.15 484.5 L64.73 485 L64.12 485.5 L63.5 485.88 L63 486.11 L62 486.46 L61.5 486.58 L60.5 486.75 L59.5 486.83 L58.5 486.84 L57.5 486.8 L56.5 486.72 L55.5 486.62 L54.5 486.52 L54 486.47 L53 486.38 L52 486.27 L51 486.13 L50.32 486 L49.5 485.82 L48.5 485.51 L48 485.31 L47.35 485 L46.55 484.5 L46 484.04 L45.51 483.5 L45.2 483 L45 482.5 L44.89 481.5 L45 480.97 L45.5 480 L45.94 479.5 L46.5 479.05 L47 478.73 L47.5 478.47 L48.5 478.09 L49 477.96 Z" fill="none" stroke="#444" stroke-width="0.55"/><path d="M50 478.98 L51 478.85 L52 478.83 L53 478.91 L53.62 479 L54.5 479.17 L55.5 479.38 L56.01 479.5 L57 479.71 L58 479.91 L58.52 480 L59.5 480.19 L60.5 480.42 L61 480.57 L62 480.97 L62.5 481.26 L63 481.66 L63.5 482.34 L63.68 483 L63.5 483.72 L63 484.39 L62.5 484.77 L62 485.04 L61 485.37 L60.27 485.5 L59.5 485.57 L58.5 485.58 L57.5 485.51 L57 485.47 L56 485.36 L55 485.25 L54 485.15 L53 485.06 L52.42 485 L51.5 484.88 L50.5 484.7 L49.77 484.5 L49 484.21 L48.5 483.97 L47.8 483.5 L47.31 483 L47 482.5 L46.83 481.5 L47 480.91 L47.5 480.21 L48 479.79 L48.5 479.49 L49.5 479.11 L50 478.98 Z" fill="none" stroke="#444" stroke-width="0.55"/><path d="M50 480.45 L51 480.16 L52 480.09 L53 480.18 L54 480.38 L54.54 480.5 L55.5 480.77 L56.5 480.99 L57 481.1 L58 481.29 L59 481.47 L59.5 481.61 L60.5 481.99 L61 482.39 L61.26 483 L61 483.54 L60.18 484 L59.5 484.14 L58.5 484.18 L57.5 484.11 L56.5 484 L56 483.93 L55 483.83 L54 483.77 L53 483.71 L52 483.61 L51.35 483.5 L50.5 483.24 L49.94 483 L49.31 482.5 L49 481.74 L49 481.48 L49.5 480.77 L50 480.45 Z" fill="none" stroke="#444" stroke-width="0.55"/></g>
<path d="M161.64 479.63h0.8M142.69 476.01h0.8M140.16 504.64h0.8M159.51 485.29h0.8M150.62 476.94h0.8M146.44 469.98h0.8M139.92 475.74h0.8M130.48 490.2h0.8M134.29 490.58h0.8M141.2 480.82h0.8M143.8 483.52h0.8M149.56 479.95h0.8M151.52 471.92h0.8M148.23 496.02h0.8M148.2 486.73h0.8M135.92 507.76h0.8M124.45 475.44h0.8M140.79 481.62h0.8M136.46 491.83h0.8M139.47 480.55h0.8M143.25 469.12h0.8M133.56 473.51h0.8M134.89 484.01h0.8M145 486.43h0.8M147.16 482.05h0.8M139.44 493.03h0.8M150.98 492.93h0.8M143.81 486.23h0.8M135.8 483.27h0.8M146.41 480.47h0.8M164.82 488.51h0.8M139.25 492.2h0.8M157.66 483.61h0.8M159.78 487.5h0.8M160.98 479.76h0.8M137.77 468.88h0.8M166.15 472.99h0.8M147.16 490.66h0.8M143.46 487.47h0.8M143.7 498.9h0.8M152.02 483.56h0.8M146.51 491.65h0.8M144.23 496.23h0.8M158.84 492.94h0.8M138.77 476.91h0.8M135.57 481.15h0.8M153.93 484.3h0.8M153.04 473.14h0.8M156.94 487.74h0.8M135.28 493.24h0.8M156.81 478.19h0.8M150.82 502.73h0.8M163.63 480.09h0.8M133.52 480.97h0.8M148.18 480.62h0.8M143.22 475.92h0.8M130.1 487.18h0.8M138.85 483.2h0.8M157.27 499.61h0.8M141.31 489.07h0.8M138.77 488.38h0.8M154.68 480.78h0.8M155.89 468.86h0.8M155.87 482.1h0.8M138.1 474.5h0.8M145.42 492.52h0.8M156.31 482.7h0.8M139.44 499.66h0.8M138.51 490.35h0.8M154.28 491.36h0.8M161.62 485.31h0.8M134.48 485.09h0.8M120.02 489.53h0.8M131.5 492.23h0.8M135.88 475.89h0.8M144.62 487.92h0.8M152.16 509.21h0.8M144.53 482.1h0.8M139 480.44h0.8M147.53 476.08h0.8M136.38 468.51h0.8M145.53 494.89h0.8M139.58 483.61h0.8M172.8 486h0.8M154.17 501.45h0.8M137.65 508.09h0.8M136.03 474.11h0.8M141.62 493.55h0.8M129.55 489.24h0.8M138.7 487h0.8M138.62 487.8h0.8M154.84 482.78h0.8M141.73 498.91h0.8M138.09 489.17h0.8M132.6 486.47h0.8M134.23 495.49h0.8M145.34 491.99h0.8M143.85 487.63h0.8M157.34 486.3h0.8M139.71 500.58h0.8M156.59 488.12h0.8M148.57 482.13h0.8M145.95 474.46h0.8M125.92 479.59h0.8M133.1 472.53h0.8M153.41 484.1h0.8M159.98 485.6h0.8M148.06 462.52h0.8M153.63 483.21h0.8M141.92 489.52h0.8M142.29 484.69h0.8M139.37 473.48h0.8M155.75 495.71h0.8M149.43 476.06h0.8M143.66 470.74h0.8M142.72 472.22h0.8M151.57 482.88h0.8M149.23 492.85h0.8M137.68 494.68h0.8M163.16 485.12h0.8M148.57 471.09h0.8M146.1 476.45h0.8M160.77 474.04h0.8M156.24 481.23h0.8M145.12 465.28h0.8M151.36 484.13h0.8M135.3 489.47h0.8M139.59 481.52h0.8M123.4 487.61h0.8M158.2 473.63h0.8M127.02 468.46h0.8M152.81 476.64h0.8M137.69 494.58h0.8M136.21 493.31h0.8M144.05 478.44h0.8M148.66 495.05h0.8M152.12 479.76h0.8M163.72 498.13h0.8M149.59 487.83h0.8M154.81 478.49h0.8M140.02 490.96h0.8M153.14 475.26h0.8M147.53 473.65h0.8M141.37 468.49h0.8M145.04 485.59h0.8M145.38 482.47h0.8M147.91 482.23h0.8M150.01 478.9h0.8M140.91 497.38h0.8M138.59 478.76h0.8M153.47 475.77h0.8M129.03 495.46h0.8M139.82 497.21h0.8M161.53 486.39h0.8M118.93 465.6h0.8M139.07 477h0.8M152.88 489.13h0.8M129.5 483.18h0.8M171.98 498.54h0.8M120.12 469.33h0.8M160.37 489.78h0.8M161.57 476.73h0.8M155.16 496.23h0.8M143.78 482.25h0.8M149.57 493.31h0.8M137.03 476.52h0.8M154.09 468.91h0.8M134.8 471.9h0.8M143.26 476.93h0.8M155.96 472.75h0.8M134.86 495h0.8M142.36 496.39h0.8M147.64 485.73h0.8M132.58 472.66h0.8M157.64 481.82h0.8M149.41 476.14h0.8M130.84 497.54h0.8M145.53 486.16h0.8M138.25 487.89h0.8M139.42 479h0.8M146.77 462.89h0.8M138.9 475.29h0.8M155.65 471.83h0.8M138.95 486.7h0.8M155.82 483.97h0.8M145.56 474.98h0.8M154.56 479.11h0.8M140.59 498.66h0.8M140.95 473.41h0.8M134.48 473.82h0.8M151.78 480.72h0.8M155.38 476.01h0.8M167.19 478.71h0.8M158.91 488.31h0.8M148.5 500.32h0.8M143.89 465.21h0.8M149.89 482.82h0.8M145.72 483.41h0.8M160.63 482.16h0.8M155.44 481.13h0.8M137.63 479.6h0.8M139.12 493.04h0.8M159.67 478.35h0.8M149.08 481.73h0.8M143.68 483h0.8M157.86 484.07h0.8M142.12 481.29h0.8M143.2 492.99h0.8M141.39 482.91h0.8M126.38 484.74h0.8M154.64 482.49h0.8M133.91 472.97h0.8M140.31 474.7h0.8M138.56 472.5h0.8M153.27 484.93h0.8M145.31 475.87h0.8M146.15 472.39h0.8M129.21 485.38h0.8M145.13 488.25h0.8M131.24 465.39h0.8M149.07 499.9h0.8M149.67 483.32h0.8M145.83 481.95h0.8M166.43 493.67h0.8M151.28 483.7h0.8M151.96 476.96h0.8M147.42 504.95h0.8M144.07 472.26h0.8M155.66 482.02h0.8M157.01 491.47h0.8M132.99 472.3h0.8M156.54 481.98h0.8M151.14 486.87h0.8M155.61 507.02h0.8M150.66 474.07h0.8M133.56 482.52h0.8M134.27 489.59h0.8M164.25 483.81h0.8M148.52 470.97h0.8M131.83 487.08h0.8M149.48 484.08h0.8M142.38 487.46h0.8M127.57 494.31h0.8M123.1 493.13h0.8M129.97 487.08h0.8M148.72 486.11h0.8M145.52 472.02h0.8M143.51 481.66h0.8M148.85 485.2h0.8M152.01 478.99h0.8M124.97 483.98h0.8M142.99 474.75h0.8M137.72 498.34h0.8M133.67 504.52h0.8M140.53 479.1h0.8M144.77 487h0.8M143.34 480.66h0.8M131.45 495.63h0.8M141.17 487.35h0.8M166.16 483.77h0.8M135.45 480.76h0.8M129.13 484.26h0.8M148.75 473h0.8M151.97 489.76h0.8M150.64 475.86h0.8M134.8 488.35h0.8M155.98 484.3h0.8M138.15 493.95h0.8M134.65 482.83h0.8M139.92 493.23h0.8M144.91 473.78h0.8M153.14 489.09h0.8M152.24 480.76h0.8M145.78 484.94h0.8M155.33 483.72h0.8M146.81 492.36h0.8M154.96 462.8h0.8M131.96 486.23h0.8M130.26 468.06h0.8M153.76 495.07h0.8M132.1 463.27h0.8M142.98 472.96h0.8M145.02 466.26h0.8M141.12 499.39h0.8M141.47 470.11h0.8M159.93 484.14h0.8M120.7 477.64h0.8M154.84 465h0.8M168.95 479.63h0.8M146.24 489.63h0.8M145.81 481.16h0.8M153.26 492.41h0.8M164.29 479.38h0.8M134.12 483.07h0.8M146.88 479.15h0.8M144.14 486.44h0.8M151.59 501.99h0.8M147.59 486.62h0.8M152.6 484.94h0.8M141.78 476.82h0.8M146.49 475.45h0.8M139.3 497.64h0.8M139.36 471.88h0.8M144.58 473.87h0.8M144.58 482.03h0.8M134.28 478.74h0.8M161.7 502.56h0.8M144.65 459.34h0.8M132.16 486.61h0.8M157.02 490.13h0.8M138.52 471.8h0.8M151.08 476.55h0.8M145.83 487.33h0.8M148.51 499.3h0.8M147.71 473.79h0.8M140.25 467.21h0.8M146.41 492.72h0.8M166.33 498.24h0.8M123.62 479.65h0.8M146.66 460.86h0.8M150.35 497.52h0.8M135.48 481.01h0.8M132.3 494.24h0.8M167.59 482.57h0.8M142.28 479.24h0.8M166.79 478.48h0.8M151.36 497.73h0.8M146.76 497.34h0.8M150.76 461.62h0.8M152.35 473.64h0.8M157.8 500.77h0.8M150.36 479.33h0.8M147.45 469.4h0.8M147.76 483.04h0.8M159.52 481.92h0.8M154.17 482.03h0.8M135.98 478.2h0.8M139.64 479.9h0.8M149.31 478.44h0.8M139.77 486.34h0.8M142.24 474.87h0.8M136.44 480.1h0.8M143.38 481.56h0.8M150.24 496.06h0.8M155.95 486.73h0.8M146.09 481.9h0.8M166.75 488.36h0.8M145.24 487.06h0.8M177.93 493.88h0.8M156.02 488.07h0.8M150.97 500.94h0.8M141.01 496.45h0.8M144.45 478.85h0.8M147.78 491.83h0.8M165.22 488.17h0.8M132.2 482.05h0.8M165.06 468.23h0.8M143.49 464.68h0.8M153.24 486.48h0.8M120.6 490.71h0.8M147.39 491.03h0.8M142.56 470.13h0.8M152.82 493.37h0.8M146.91 477.66h0.8M134.58 486.88h0.8M155.47 487.17h0.8M152.95 474.98h0.8M151.97 477.09h0.8M156.09 462.27h0.8M157.01 473.83h0.8M145.78 464.97h0.8M132.42 487.37h0.8M132.15 483.61h0.8M159.5 492.14h0.8M153.1 486.57h0.8M147.02 476.65h0.8M141.65 486.46h0.8M146.32 479.1h0.8M146.25 489.09h0.8" stroke="#a0a0a0" stroke-width="0.8" opacity="1" fill="none"/>
<g clip-path="url(#cH2)"><path d="M164.5 459.91 L165.5 459.72 L166.5 459.68 L167.5 459.95 L167.96 460.5 L168.01 461 L167.89 461.5 L167.5 462.24 L167 462.93 L166.5 463.49 L166 463.98 L165.5 464.42 L165 464.84 L164.5 465.22 L164 465.58 L163.37 466 L162.57 466.5 L162 466.86 L161.5 467.15 L160.86 467.5 L160.02 468 L159.5 468.38 L159 468.83 L158.59 469.5 L158.69 470.5 L159 471.24 L159.37 472 L159.59 472.5 L159.97 473.5 L160.14 474 L160.4 475 L160.5 475.5 L160.67 476.5 L160.77 477.5 L160.81 478.5 L160.79 479.5 L160.71 480.5 L160.57 481.5 L160.48 482 L160.27 483 L160 483.94 L159.83 484.5 L159.5 485.35 L159.23 486 L158.98 486.5 L158.5 487.4 L158.14 488 L157.81 488.5 L157.45 489 L157 489.58 L156.5 490.16 L156 490.69 L155.5 491.17 L155 491.62 L154.5 492.02 L153.86 492.5 L153.11 493 L152.5 493.36 L152 493.64 L151.24 494 L150.5 494.32 L150 494.5 L149 494.83 L148.33 495 L147.5 495.19 L146.5 495.34 L145.5 495.43 L144.5 495.46 L143.5 495.43 L142.5 495.34 L141.5 495.19 L140.67 495 L140 494.83 L139 494.5 L138.5 494.32 L137.76 494 L137 493.63 L136.5 493.36 L135.9 493 L135.14 492.5 L134.5 492.02 L134 491.61 L133.5 491.17 L133 490.68 L132.5 490.15 L132 489.56 L131.56 489 L131.21 488.5 L130.88 488 L130.5 487.35 L130.05 486.5 L129.82 486 L129.5 485.19 L129.25 484.5 L129 483.61 L128.85 483 L128.66 482 L128.55 481 L128.5 480.17 L128.49 479.5 L128.5 478.95 L128.56 478 L128.68 477 L128.87 476 L129 475.5 L129.28 474.5 L129.5 473.9 L129.86 473 L130.09 472.5 L130.5 471.72 L130.92 471 L131.24 470.5 L131.6 470 L132 469.49 L132.5 468.89 L133 468.36 L133.5 467.87 L134 467.42 L134.51 467 L135.18 466.5 L135.93 466 L136.5 465.65 L137 465.38 L137.78 465 L138.5 464.68 L139 464.49 L140 464.15 L140.57 464 L141.5 463.77 L142.5 463.6 L143.46 463.5 L144 463.46 L145 463.43 L146 463.46 L146.5 463.5 L147.5 463.61 L148.5 463.78 L149.38 464 L150 464.16 L150.99 464.5 L151.5 464.67 L152.42 465 L153 465.14 L154 465.2 L154.81 465 L155.5 464.68 L156 464.39 L156.59 464 L157.31 463.5 L158 463.04 L158.5 462.7 L159 462.38 L159.64 462 L160.5 461.52 L161 461.24 L161.54 461 L162.5 460.57 L163 460.37 L164 460.04 L164.5 459.91 Z" fill="none" stroke="#333" stroke-width="0.6"/><path d="M163.5 461.99 L164 462 L164.54 462.5 L164.41 463 L164 463.58 L163.5 464.09 L163 464.51 L162.27 465 L161.5 465.44 L161 465.69 L160.23 466 L159.5 466.22 L158.5 466.32 L157.93 466 L158 465.5 L158.5 464.8 L159 464.27 L159.5 463.84 L160 463.46 L160.74 463 L161.5 462.6 L162 462.38 L163 462.07 L163.5 461.99 Z" fill="none" stroke="#333" stroke-width="0.6"/><path d="M143.5 465.96 L144.5 465.87 L145.5 465.86 L146.5 465.93 L147.08 466 L148 466.15 L149 466.39 L149.5 466.55 L150.5 466.89 L151 467.08 L152 467.49 L152.5 467.68 L153.29 468 L154 468.36 L154.5 468.77 L154.98 469.5 L155.25 470 L155.5 470.5 L156 471.4 L156.33 472 L156.58 472.5 L157 473.5 L157.18 474 L157.44 475 L157.54 475.5 L157.68 476.5 L157.72 477.5 L157.69 478.5 L157.57 479.5 L157.49 480 L157.28 481 L157 481.95 L156.82 482.5 L156.5 483.3 L156.19 484 L155.93 484.5 L155.5 485.27 L155.03 486 L154.67 486.5 L154.28 487 L153.85 487.5 L153.37 488 L152.83 488.5 L152.23 489 L151.55 489.5 L151 489.86 L150.5 490.15 L149.8 490.5 L149 490.84 L148.5 491.02 L147.5 491.32 L146.6 491.5 L146 491.59 L145 491.67 L144 491.67 L143 491.59 L142.41 491.5 L141.5 491.31 L140.5 491.02 L140 490.84 L139.23 490.5 L138.5 490.13 L138 489.84 L137.49 489.5 L136.81 489 L136.22 488.5 L135.7 488 L135.23 487.5 L134.82 487 L134.44 486.5 L134 485.84 L133.52 485 L133.27 484.5 L133 483.87 L132.67 483 L132.5 482.41 L132.27 481.5 L132.1 480.5 L132.01 479.5 L131.99 479 L132 478.2 L132.04 477.5 L132.16 476.5 L132.36 475.5 L132.5 475 L132.83 474 L133.04 473.5 L133.5 472.55 L133.81 472 L134.13 471.5 L134.5 470.99 L135 470.37 L135.5 469.82 L136 469.33 L136.5 468.9 L137.02 468.5 L137.74 468 L138.5 467.55 L139 467.28 L139.63 467 L140.5 466.65 L141 466.49 L142 466.21 L143 466.03 L143.5 465.96 Z" fill="none" stroke="#333" stroke-width="0.6"/><path d="M144 467.98 L145 467.91 L146 467.93 L146.65 468 L147.5 468.13 L148.5 468.38 L149 468.55 L150 468.95 L150.5 469.19 L151.05 469.5 L151.8 470 L152.39 470.5 L152.87 471 L153.28 471.5 L153.64 472 L154 472.59 L154.46 473.5 L154.66 474 L154.94 475 L155.04 475.5 L155.14 476.5 L155.13 477.5 L155.01 478.5 L154.91 479 L154.63 480 L154.45 480.5 L154.01 481.5 L153.76 482 L153.46 482.5 L153 483.21 L152.5 483.87 L152 484.45 L151.5 484.96 L151 485.42 L150.5 485.83 L150 486.19 L149.5 486.51 L148.57 487 L148 487.25 L147.27 487.5 L146.5 487.71 L145.5 487.86 L144.5 487.91 L143.5 487.85 L142.5 487.67 L141.9 487.5 L141 487.17 L140.5 486.94 L139.73 486.5 L139.01 486 L138.5 485.58 L138 485.11 L137.5 484.56 L137.05 484 L136.7 483.5 L136.4 483 L136 482.23 L135.68 481.5 L135.5 480.99 L135.21 480 L135.04 479 L134.98 478.5 L134.94 477.5 L135 476.58 L135.07 476 L135.29 475 L135.5 474.38 L135.86 473.5 L136.12 473 L136.5 472.39 L137 471.7 L137.5 471.13 L138 470.64 L138.5 470.21 L139 469.84 L139.52 469.5 L140.43 469 L141 468.74 L141.66 468.5 L142.5 468.24 L143.5 468.04 L144 467.98 Z" fill="none" stroke="#333" stroke-width="0.6"/><path d="M143.5 469.96 L144.5 469.8 L145.5 469.77 L146.5 469.85 L147.27 470 L148 470.2 L148.76 470.5 L149.5 470.87 L150 471.19 L150.5 471.57 L151 472.03 L151.5 472.61 L152 473.35 L152.33 474 L152.53 474.5 L152.78 475.5 L152.86 476.5 L152.79 477.5 L152.56 478.5 L152.39 479 L152 479.86 L151.63 480.5 L151.28 481 L150.87 481.5 L150.39 482 L149.83 482.5 L149.16 483 L148.5 483.41 L148 483.66 L147.12 484 L146.5 484.18 L145.5 484.35 L144.5 484.37 L143.5 484.26 L142.53 484 L142 483.8 L141.4 483.5 L140.62 483 L140 482.5 L139.5 482.01 L139.07 481.5 L138.71 481 L138.41 480.5 L138 479.62 L137.78 479 L137.56 478 L137.5 477.5 L137.49 476.5 L137.54 476 L137.75 475 L138 474.33 L138.41 473.5 L138.73 473 L139.12 472.5 L139.59 472 L140.17 471.5 L140.88 471 L141.5 470.65 L142 470.42 L143 470.08 L143.5 469.96 Z" fill="none" stroke="#333" stroke-width="0.6"/><path d="M143 472 L144 471.69 L145 471.55 L146 471.58 L147 471.78 L147.64 472 L148.5 472.44 L149 472.81 L149.5 473.28 L150 473.92 L150.32 474.5 L150.51 475 L150.71 476 L150.67 477 L150.5 477.72 L150.19 478.5 L149.89 479 L149.5 479.53 L149 480.05 L148.45 480.5 L147.61 481 L147 481.27 L146.13 481.5 L145.5 481.59 L144.5 481.58 L143.97 481.5 L143 481.21 L142.5 480.98 L141.76 480.5 L141.2 480 L140.76 479.5 L140.43 479 L140 478.05 L139.85 477.5 L139.76 476.5 L139.88 475.5 L140.03 475 L140.5 474.04 L140.9 473.5 L141.39 473 L142 472.53 L142.5 472.23 L143 472 Z" fill="none" stroke="#333" stroke-width="0.6"/><path d="M145 473.47 L145.83 473.5 L146.5 473.66 L147.19 474 L147.77 474.5 L148.13 475 L148.45 476 L148.34 477 L148 477.7 L147.5 478.29 L147 478.67 L146.28 479 L145.5 479.16 L144.5 479.1 L144 478.96 L143.2 478.5 L142.7 478 L142.38 477.5 L142.11 476.5 L142.25 475.5 L142.5 474.96 L143 474.35 L143.5 473.97 L144.5 473.56 L145 473.47 Z" fill="none" stroke="#333" stroke-width="0.6"/></g>
<path d="M241.15 477.93h0.8M228.11 499.52h0.8M238.02 480.99h0.8M238.55 473.34h0.8M234.92 487.87h0.8M246.95 501.36h0.8M255.13 483.81h0.8M234.32 495.31h0.8M234.49 478.62h0.8M215.52 478.09h0.8M236.71 476.1h0.8M233.64 481.57h0.8M216.39 501.36h0.8M240.88 471.45h0.8M243.91 499.37h0.8M230.66 472.92h0.8M234.27 480.66h0.8M228.34 491.36h0.8M245.63 489.3h0.8M222.83 485.82h0.8M234.87 466.51h0.8M257.51 486.62h0.8M238.52 472.78h0.8M242.68 508.69h0.8M236.53 480.87h0.8M226.26 484.89h0.8M237.67 471.53h0.8M242.06 478.21h0.8M227.77 470.09h0.8M241.42 492.82h0.8M250.45 480.38h0.8M248.7 488.63h0.8M222.17 476.15h0.8M228.25 477.99h0.8M221.86 495.88h0.8M248.71 473.28h0.8M244.1 464.99h0.8M245.03 487.06h0.8M229.22 471.59h0.8M226.33 478.61h0.8M238.77 492.12h0.8M239.01 474.81h0.8M229.46 491.78h0.8M239.42 476.19h0.8M244.45 497.91h0.8M240.28 496.25h0.8M227.61 478.29h0.8M216.87 480.87h0.8M235.41 474.68h0.8M239.64 485h0.8M235.4 494.49h0.8M233.72 468.53h0.8M231.09 492.17h0.8M245.16 469.76h0.8M237.48 474.4h0.8M239.23 465.12h0.8M228.28 504.05h0.8M231.8 483.59h0.8M239.64 485.45h0.8M227.95 476.24h0.8M225.41 493.67h0.8M234.71 461.97h0.8M250.01 483.27h0.8M239.91 505.07h0.8M252.6 479.18h0.8M236.68 483.17h0.8M234.9 489.72h0.8M224.08 474.89h0.8M232.24 483.23h0.8M252.35 492.61h0.8M241.28 484.94h0.8M245.33 486.71h0.8M245.05 479.51h0.8M237.9 486.16h0.8M235.95 483.56h0.8M239.19 497.55h0.8M244.71 490.24h0.8M242.58 480.56h0.8M242.92 458.53h0.8M239.54 490.16h0.8M230.3 490.55h0.8M235.38 473.83h0.8M228.59 463.02h0.8M248.05 471.58h0.8M216.98 492.26h0.8M235.82 472.35h0.8M261.87 478.4h0.8M234.58 485.2h0.8M226.65 495.24h0.8M237.82 482.82h0.8M250.89 482h0.8M236.4 477.51h0.8M244.13 499.31h0.8M239 493.66h0.8M234.27 482.05h0.8M269.5 469.03h0.8M238.71 475.1h0.8M232.63 488.79h0.8M233.1 475.79h0.8M241.81 491.92h0.8M242.09 486.61h0.8M245.72 485.93h0.8M239.41 489.53h0.8M223.68 487.99h0.8M243.32 474.45h0.8M234.91 479.74h0.8M235.14 506.4h0.8M223.17 470.92h0.8M232.26 478.25h0.8M230.73 493.66h0.8M237.64 481.41h0.8M223.47 474.88h0.8M238.51 469.77h0.8M239.24 488.36h0.8M226.8 493.2h0.8M231.75 497h0.8M229.42 483.54h0.8M247.08 493.45h0.8M212.72 472.67h0.8M234.57 484.68h0.8M221.39 476.23h0.8M233.68 484.74h0.8M246.47 490.51h0.8M231.69 493.7h0.8M239.38 473.1h0.8M229.55 495.67h0.8M257.39 478.26h0.8M247.13 472.74h0.8M249.27 481.29h0.8M224.72 468.37h0.8M226.99 483.05h0.8M248.8 485.9h0.8M236.06 481h0.8M235.42 488.36h0.8M241.34 479.85h0.8M225.45 483.04h0.8M245.73 468.59h0.8M238.18 483.43h0.8M242.79 474.49h0.8M231.29 478.5h0.8M243.13 482.06h0.8M230.95 484.91h0.8M247.54 466.53h0.8M249.3 467.37h0.8M247.12 479.98h0.8M243.16 487.74h0.8M244.34 486.6h0.8M210.94 491.93h0.8M246.35 496.01h0.8M235.26 487.96h0.8M238.95 482.8h0.8M235.16 472.69h0.8M224.09 473.54h0.8M232.61 478.33h0.8M244.59 485.67h0.8M252.17 485.21h0.8M231.77 483.04h0.8M228.96 481.47h0.8M252.52 489.3h0.8M229.17 485.08h0.8M258.74 485.98h0.8M238.51 486.08h0.8M229.17 477.54h0.8M247.84 472.69h0.8M254.93 487.91h0.8M223.65 487.17h0.8M253.59 480.8h0.8M235.19 478.84h0.8M252.86 505.78h0.8M234.2 475.41h0.8M222.23 480.82h0.8M243.02 485.66h0.8M247.27 471.46h0.8M258.96 484.17h0.8M255.24 500.98h0.8M244.95 492.34h0.8M235.62 489.32h0.8M232.79 488.92h0.8M235.05 484.12h0.8M229.69 492.58h0.8M235.25 481.44h0.8M212.55 478.77h0.8M239.79 484.02h0.8M237.71 492.06h0.8M263.66 486.3h0.8M245.59 489.75h0.8M233.2 462.76h0.8M243.65 494.93h0.8M225.74 506.41h0.8M231.97 496.35h0.8M219.32 479.82h0.8M252.36 474.52h0.8M243.93 485.77h0.8M226.24 473.13h0.8M237.4 490.26h0.8M247.5 477.75h0.8M242.95 492.61h0.8M241.82 496.62h0.8M229.42 462.68h0.8M231.63 485.93h0.8M238.95 476.02h0.8M247.2 468.9h0.8M229.71 476.83h0.8M226.79 480.81h0.8M249.44 493.34h0.8M228.7 467.79h0.8M248.77 493.51h0.8M240.43 503.18h0.8M246.81 488.97h0.8M255.44 488.46h0.8M244.89 482.87h0.8M245.76 471.25h0.8M228.82 488.35h0.8M231.05 486.84h0.8M244.44 490.32h0.8M253.34 508.69h0.8M251.92 490.28h0.8M261.17 487.26h0.8M241.11 498.62h0.8M240.03 469.55h0.8M248.06 471.57h0.8M238.19 479.25h0.8M237.38 476.45h0.8M227.53 489.94h0.8M247.91 479.83h0.8M227.28 500.4h0.8M243.12 498.2h0.8M223.81 490.7h0.8M248.96 479.14h0.8M227.71 489.17h0.8M246.43 491.11h0.8M222.11 472.33h0.8M233.6 486.49h0.8M249.78 490.06h0.8M229.95 485.16h0.8M238.67 498.71h0.8M233.22 495.14h0.8M214.91 474.74h0.8M241.08 484.24h0.8M242.32 474.64h0.8M226.92 488.8h0.8M243.74 474.33h0.8M230.04 492.23h0.8M227.97 486.88h0.8M238.07 492.71h0.8M231.19 481.55h0.8M260.92 468.44h0.8M222.45 500.66h0.8M245.38 481.27h0.8M247.89 496.77h0.8M218.21 487.3h0.8M220.68 489.74h0.8M243.62 501.3h0.8M233.18 486.4h0.8M241.84 497h0.8M249.39 468.16h0.8M234.28 491.71h0.8M227.36 480.58h0.8M210.71 481.66h0.8M240.05 483.09h0.8M228.71 486.47h0.8M241.13 499.57h0.8M240.32 464.46h0.8M224.16 483.44h0.8M255.24 475.84h0.8M248.83 494.66h0.8M246.48 478.77h0.8M226.16 487.57h0.8M233.93 479.02h0.8M232.53 489.68h0.8M233.85 493.15h0.8M226.76 479.03h0.8M242.35 483.49h0.8M240.29 468.8h0.8M241.65 486.05h0.8M232.94 491.56h0.8M250.91 477.45h0.8M239.88 494.2h0.8M210.62 462.27h0.8M231.6 464.49h0.8M237.43 469.12h0.8M247.65 478.15h0.8M234.99 483.19h0.8M235.5 482.21h0.8M231.37 482.33h0.8M244.66 490.24h0.8M233.52 478.28h0.8M231.97 470.36h0.8M230.58 470.56h0.8M243.57 504.13h0.8M232.67 459.48h0.8M221.24 481.24h0.8M244.23 497.58h0.8M230.99 487.83h0.8M241.57 474.7h0.8M241.74 483.02h0.8M250.04 491.64h0.8M248.45 495.08h0.8M232.25 474.01h0.8M236.34 490.6h0.8M225.1 485.53h0.8M254.77 494.04h0.8M242.42 496.9h0.8M251.94 479.57h0.8M234.81 468.5h0.8M217.51 486.96h0.8M253.32 500.77h0.8M238.93 489.86h0.8M239.33 485.3h0.8M238.55 507.01h0.8M244.45 472.6h0.8M243.33 492.03h0.8M222.09 477.3h0.8M248.87 483.5h0.8M232.71 483.9h0.8M233.33 498.15h0.8M255.27 473.64h0.8M247.21 477.65h0.8M234.62 467.07h0.8M219.44 487.87h0.8M239.62 478.42h0.8M243.39 487.22h0.8M237.19 472.27h0.8M225.54 479.41h0.8M230.09 493.39h0.8M225.45 481.26h0.8M240.15 489.26h0.8M246.19 488.28h0.8M248.25 479.47h0.8M230.68 467.4h0.8M240.35 492.85h0.8M243.54 484.71h0.8M232.89 492.83h0.8M236.51 462.87h0.8M259.24 466.45h0.8M240.05 461.57h0.8M246.83 474.23h0.8M233.65 493.42h0.8M238.42 488.66h0.8M220.86 482.66h0.8M237.75 484.31h0.8M249.92 490.61h0.8M258.99 479.98h0.8M249.97 486.96h0.8M244.87 484.4h0.8M238.53 461.13h0.8M232 479.15h0.8M236.4 496.59h0.8M244.13 479.04h0.8M230.15 481.57h0.8M247.33 476.93h0.8M228.16 478.15h0.8M220.21 494.24h0.8M227.88 480.32h0.8M221.35 472.78h0.8M224.28 451.89h0.8M249.32 477.27h0.8M236 463.33h0.8M240.19 464.76h0.8M249.58 490.95h0.8M250.59 490.09h0.8M232.95 463.83h0.8M251.29 491.51h0.8M241.85 487.59h0.8M238.03 475.16h0.8M242.42 490.34h0.8M223.74 466.73h0.8M230.14 470.96h0.8M236.92 468.6h0.8M244.1 471.88h0.8M234.28 491.79h0.8M236.73 469.66h0.8M247.69 471.49h0.8M252.12 473.48h0.8M245.67 484.95h0.8M250.68 479.6h0.8M233.96 491.62h0.8M234.94 475.89h0.8M241.18 470.11h0.8M234.99 477.96h0.8" stroke="#a0a0a0" stroke-width="0.8" opacity="1" fill="none"/>
<g clip-path="url(#cH3)"><path d="M254.5 457.39 L255.5 457.14 L256.5 457.1 L257.43 457.5 L257.71 458 L257.72 459 L257.5 459.71 L257.15 460.5 L256.87 461 L256.5 461.55 L256 462.24 L255.5 462.86 L255 463.43 L254.5 463.96 L254 464.47 L253.5 464.95 L253 465.42 L252.5 465.88 L252 466.33 L251.5 466.79 L251 467.29 L250.5 467.87 L250.14 468.5 L250.15 469.5 L250.5 470.19 L251 470.92 L251.41 471.5 L251.73 472 L252.02 472.5 L252.5 473.44 L252.75 474 L253 474.69 L253.26 475.5 L253.48 476.5 L253.57 477 L253.69 478 L253.73 479 L253.7 480 L253.6 481 L253.5 481.58 L253.32 482.5 L253.03 483.5 L252.87 484 L252.5 484.93 L252.25 485.5 L251.99 486 L251.5 486.87 L251.1 487.5 L250.75 488 L250.36 488.5 L249.94 489 L249.48 489.5 L248.98 490 L248.44 490.5 L247.85 491 L247.19 491.5 L246.5 491.97 L246 492.28 L245.5 492.57 L244.67 493 L244 493.31 L243.5 493.52 L242.5 493.89 L242 494.05 L241 494.32 L240.16 494.5 L239.5 494.62 L238.5 494.76 L237.5 494.83 L236.5 494.86 L235.5 494.83 L234.5 494.76 L233.5 494.62 L232.86 494.5 L232 494.32 L231 494.04 L230.5 493.88 L229.5 493.51 L229 493.3 L228.36 493 L227.5 492.55 L227 492.26 L226.5 491.94 L225.86 491.5 L225.21 491 L224.61 490.5 L224.06 490 L223.5 489.52 L223 489.25 L222 489.14 L221 489.02 L220.5 488.81 L220 488.37 L219.62 487.5 L219.73 486.5 L220 485.89 L220.41 485 L220.38 484 L220.17 483 L220.01 482 L219.96 481.5 L219.91 480.5 L219.94 479.5 L220 478.93 L220.14 478 L220.37 477 L220.52 476.5 L220.87 475.5 L221.09 475 L221.5 474.17 L221.87 473.5 L222.18 473 L222.53 472.5 L223 471.87 L223.5 471.26 L224 470.71 L224.5 470.21 L225 469.74 L225.5 469.31 L226 468.91 L226.56 468.5 L227.3 468 L228 467.57 L228.5 467.28 L229.06 467 L230 466.56 L230.5 466.34 L231.44 466 L232 465.8 L233 465.53 L233.5 465.4 L234.5 465.2 L235.5 465.06 L236.08 465 L237 464.93 L238 464.91 L239 464.94 L239.69 465 L240.5 465.07 L241.5 465.17 L242.5 465.19 L243.5 465.03 L244 464.83 L244.59 464.5 L245.26 464 L245.83 463.5 L246.38 463 L246.91 462.5 L247.45 462 L248 461.51 L248.5 461.07 L249 460.65 L249.5 460.25 L250 459.87 L250.53 459.5 L251.27 459 L252 458.55 L252.5 458.26 L253.04 458 L254 457.57 L254.5 457.39 Z" fill="none" stroke="#333" stroke-width="0.6"/><path d="M253.5 459.94 L254.07 460 L254.5 460.5 L254.47 461 L254.02 462 L253.68 462.5 L253.28 463 L252.82 463.5 L252.31 464 L251.74 464.5 L251.11 465 L250.5 465.44 L250 465.77 L249.5 466.07 L248.72 466.5 L248 466.9 L247.5 467.18 L247 467.59 L246.69 468.5 L246.93 469.5 L247.18 470 L247.5 470.5 L248 471.15 L248.5 471.81 L248.99 472.5 L249.31 473 L249.58 473.5 L250 474.42 L250.22 475 L250.49 476 L250.6 476.5 L250.72 477.5 L250.74 478.5 L250.67 479.5 L250.5 480.5 L250.39 481 L250.1 482 L249.91 482.5 L249.5 483.43 L249.21 484 L248.92 484.5 L248.5 485.16 L248 485.85 L247.5 486.45 L247 487 L246.5 487.49 L246 487.94 L245.5 488.35 L245 488.72 L244.5 489.06 L243.76 489.5 L243 489.9 L242.5 490.14 L241.58 490.5 L241 490.7 L240 490.97 L239.5 491.09 L238.5 491.26 L237.5 491.35 L236.5 491.38 L235.5 491.34 L234.5 491.24 L233.5 491.05 L233 490.94 L232 490.65 L231.5 490.47 L230.5 490.04 L230 489.8 L229.47 489.5 L228.68 489 L228.01 488.5 L227.5 488.08 L227 487.61 L226.5 487.08 L226.02 486.5 L225.65 486 L225.32 485.5 L225 484.93 L224.56 484 L224.37 483.5 L224.08 482.5 L223.97 482 L223.83 481 L223.78 480 L223.84 479 L223.99 478 L224.1 477.5 L224.39 476.5 L224.58 476 L225 475.06 L225.29 474.5 L225.59 474 L226 473.38 L226.5 472.72 L227 472.13 L227.5 471.6 L228 471.12 L228.5 470.68 L229 470.29 L229.5 469.92 L230.15 469.5 L231 469.01 L231.5 468.75 L232.06 468.5 L233 468.12 L233.5 467.95 L234.5 467.66 L235.28 467.5 L236 467.37 L237 467.25 L238 467.21 L239 467.22 L240 467.29 L241 467.39 L242 467.48 L242.5 467.51 L243.5 467.52 L244 467.48 L245 467.3 L245.72 467 L246.22 466.5 L246.51 466 L247 465.18 L247.43 464.5 L247.79 464 L248.2 463.5 L248.65 463 L249.15 462.5 L249.7 462 L250.32 461.5 L251 461.01 L251.5 460.71 L252 460.43 L253 460.04 L253.5 459.94 Z" fill="none" stroke="#333" stroke-width="0.6"/><path d="M236 469.43 L237 469.27 L238 469.19 L239 469.19 L240 469.26 L241 469.41 L241.5 469.51 L242.5 469.76 L243.12 470 L244 470.46 L244.5 470.81 L245 471.22 L245.5 471.69 L246 472.22 L246.5 472.82 L246.98 473.5 L247.28 474 L247.53 474.5 L247.91 475.5 L248.04 476 L248.21 477 L248.25 478 L248.16 479 L248 479.77 L247.8 480.5 L247.5 481.25 L247.14 482 L246.85 482.5 L246.5 483.03 L246 483.69 L245.5 484.26 L245 484.77 L244.5 485.21 L244 485.61 L243.45 486 L242.64 486.5 L242 486.84 L241.5 487.07 L240.5 487.45 L240 487.6 L239 487.84 L238 487.98 L237.5 488.02 L236.5 488.03 L235.94 488 L235 487.89 L234 487.66 L233.47 487.5 L232.5 487.13 L232 486.88 L231.33 486.5 L230.61 486 L230.01 485.5 L229.5 485 L229.07 484.5 L228.7 484 L228.38 483.5 L228 482.76 L227.69 482 L227.5 481.34 L227.33 480.5 L227.24 479.5 L227.27 478.5 L227.42 477.5 L227.54 477 L227.86 476 L228.08 475.5 L228.5 474.68 L228.92 474 L229.29 473.5 L229.7 473 L230.18 472.5 L230.72 472 L231.34 471.5 L232 471.04 L232.5 470.74 L233 470.47 L234 470.02 L234.5 469.84 L235.5 469.54 L236 469.43 Z" fill="none" stroke="#333" stroke-width="0.6"/><path d="M236 471.36 L237 471.14 L238 471.03 L239 471.02 L240 471.12 L241 471.34 L241.5 471.51 L242.5 471.96 L243 472.26 L243.5 472.62 L244 473.06 L244.5 473.59 L245 474.25 L245.43 475 L245.64 475.5 L245.91 476.5 L246 477.45 L246 477.57 L245.93 478.5 L245.68 479.5 L245.49 480 L245 480.95 L244.63 481.5 L244.22 482 L243.75 482.5 L243.18 483 L242.5 483.5 L242 483.81 L241.5 484.08 L240.51 484.5 L240 484.67 L239 484.9 L238.25 485 L237.5 485.04 L236.63 485 L236 484.92 L235 484.68 L234.49 484.5 L233.5 484.03 L233 483.72 L232.5 483.34 L232 482.87 L231.5 482.3 L231 481.55 L230.72 481 L230.5 480.43 L230.26 479.5 L230.17 478.5 L230.24 477.5 L230.46 476.5 L230.64 476 L231 475.23 L231.45 474.5 L231.83 474 L232.29 473.5 L232.85 473 L233.5 472.51 L234 472.2 L234.5 471.93 L235.5 471.52 L236 471.36 Z" fill="none" stroke="#333" stroke-width="0.6"/><path d="M237 472.95 L238 472.79 L239 472.78 L240 472.94 L240.5 473.08 L241.44 473.5 L242 473.86 L242.5 474.28 L243 474.84 L243.42 475.5 L243.64 476 L243.86 477 L243.84 478 L243.58 479 L243.35 479.5 L243 480.06 L242.5 480.66 L242 481.13 L241.5 481.5 L240.58 482 L240 482.23 L239 482.48 L238.5 482.54 L237.5 482.56 L237 482.5 L236 482.26 L235.38 482 L234.55 481.5 L234 481.03 L233.55 480.5 L233.23 480 L232.99 479.5 L232.72 478.5 L232.7 477.5 L232.91 476.5 L233.1 476 L233.5 475.3 L234 474.67 L234.5 474.2 L235 473.82 L235.54 473.5 L236.5 473.09 L237 472.95 Z" fill="none" stroke="#333" stroke-width="0.6"/><path d="M237 474.99 L238 474.71 L239 474.71 L240 474.99 L240.5 475.29 L241 475.75 L241.46 476.5 L241.59 477 L241.53 478 L241.33 478.5 L241 479.02 L240.5 479.5 L239.62 480 L239 480.19 L238 480.26 L237 480.04 L236.5 479.8 L236 479.43 L235.5 478.79 L235.21 478 L235.24 477 L235.5 476.35 L236 475.68 L236.5 475.28 L237 474.99 Z" fill="none" stroke="#333" stroke-width="0.6"/></g>
<path d="M329.33 490.25h0.8M320.13 484.39h0.8M331.6 473.91h0.8M346.21 493.65h0.8M323.41 467.78h0.8M329.34 475.91h0.8M341.76 486.97h0.8M322.75 472.08h0.8M320.85 498.23h0.8M318.5 493.97h0.8M332.66 478.15h0.8M333.76 478.27h0.8M327.45 470.99h0.8M329.25 470.22h0.8M340.94 487.78h0.8M337.07 489.5h0.8M315.51 486.91h0.8M328.72 486.09h0.8M329.8 478.22h0.8M335.63 487h0.8M326.66 469.53h0.8M322.64 483.64h0.8M324.41 497.61h0.8M311.86 496.17h0.8M328.5 479.15h0.8M323.07 480.38h0.8M333.16 496.7h0.8M318.98 500.6h0.8M324.57 469.3h0.8M319.41 479.5h0.8M318.57 485.8h0.8M335.34 495.18h0.8M324.27 475.57h0.8M332.9 489.69h0.8M318.04 480.7h0.8M329.58 506.22h0.8M312.61 487.67h0.8M324.1 482.28h0.8M323.87 480.37h0.8M334.17 493.64h0.8M330.34 490.05h0.8M326.96 473.24h0.8M336.57 485.64h0.8M330.42 470.8h0.8M333.71 476.36h0.8M335.88 471.22h0.8M327.97 470.93h0.8M325.81 477.02h0.8M331.69 474.22h0.8M324.63 488.61h0.8M332.26 491.17h0.8M339.1 481.29h0.8M336.69 472.9h0.8M324.95 491.24h0.8M316.38 464.27h0.8M328.04 465.15h0.8M327.38 490.51h0.8M339.06 489.83h0.8M324.93 492.87h0.8M326.58 481.52h0.8M335.54 471.54h0.8M324.03 478.72h0.8M327.05 488.98h0.8M344.81 476.26h0.8M342.68 476.88h0.8M334.53 470.27h0.8M331.1 472.47h0.8M319.36 491.62h0.8M333.85 487.91h0.8M329.1 472.49h0.8M330.64 473.27h0.8M323.64 478.21h0.8M328.44 488.8h0.8M326.8 472.43h0.8M331.54 481.97h0.8M342.09 463.11h0.8M331.98 471.58h0.8M312.83 487.59h0.8M319.35 492.14h0.8M313.53 472.54h0.8M321.03 476.2h0.8M333.85 491.19h0.8M332.35 479.85h0.8M322.87 478.41h0.8M331.07 488.53h0.8M321.37 485.45h0.8M315.08 494.19h0.8M315.21 491.16h0.8M320.4 478.09h0.8M342.01 482.45h0.8M315.83 483.01h0.8M340.33 470.65h0.8M341.13 474.3h0.8M326.81 492.86h0.8M328.07 468.45h0.8M322.72 493.08h0.8M328.3 486.31h0.8M334.77 482.26h0.8M328.61 488.72h0.8M337.98 488.13h0.8M339.77 495.12h0.8M331.78 479.78h0.8M331.62 481.42h0.8M327.93 481.25h0.8M331.8 501.55h0.8M317.95 492.61h0.8M332.36 474.79h0.8M330.46 480.42h0.8M320.34 476.87h0.8M348.91 483.73h0.8M319.29 485.65h0.8M320.27 505.47h0.8M331.15 466.21h0.8M310.14 493.42h0.8M321 487.77h0.8M314.05 476.92h0.8M319.34 482.19h0.8M327.24 478.89h0.8M331.53 484.1h0.8M338.96 493.22h0.8M336.14 469.16h0.8M339.73 496.14h0.8M334.07 480.07h0.8M324.05 497.95h0.8M339.07 487.56h0.8M323.86 495.39h0.8M322.66 489.03h0.8M342.99 493.99h0.8M335.96 484.18h0.8M330.57 475.73h0.8M335.62 490.06h0.8M336.82 490.43h0.8M315.55 503.65h0.8M327.59 464.57h0.8M317.29 481.78h0.8M329.64 493.78h0.8M322.11 471.73h0.8M341.37 481.5h0.8M333.4 503.84h0.8M320.77 497.17h0.8M328.3 475.3h0.8M316.98 497.26h0.8M328.86 494.96h0.8M333.67 491.09h0.8M330.97 487.32h0.8M310.16 485.96h0.8M325.29 475.42h0.8M333.3 478.78h0.8M331.37 490.68h0.8M339.47 485.04h0.8M316.26 501.31h0.8M333.44 480.53h0.8M322.28 460.86h0.8M330.31 480.53h0.8M332.31 486.36h0.8M334.98 487.36h0.8M322.98 484.37h0.8M330.21 475.9h0.8M317.37 497.95h0.8M315.06 477.41h0.8M333.73 490.5h0.8M327.94 481h0.8M313.08 472.34h0.8M320.38 497.19h0.8M328.63 459.87h0.8M343.22 475.64h0.8M338.37 487.86h0.8M336.03 480.36h0.8M311.5 490.89h0.8M327.53 482.81h0.8M332.98 479.45h0.8M332.19 504.31h0.8M332.4 481.68h0.8M326.23 482.27h0.8M345.14 473.48h0.8M342.47 476.67h0.8M327.56 489.96h0.8M319.14 489.15h0.8M347.95 483.81h0.8M323.2 477.14h0.8M339.81 490.32h0.8M346.58 467.61h0.8M319.49 480.56h0.8M331.2 481.41h0.8M325.14 475.77h0.8M333.33 485.27h0.8M331.49 477.48h0.8M346.92 476.19h0.8M334.05 500.96h0.8M328.36 490.88h0.8M339.14 495.25h0.8M325.86 484.34h0.8M324.97 493.03h0.8M349.71 491.29h0.8M320.65 495.4h0.8M323.8 506.38h0.8M328.86 481.73h0.8M318.4 486.35h0.8M308.41 483.4h0.8M338.47 450.5h0.8M320.99 470.63h0.8M323.3 484.09h0.8M324.91 489.93h0.8M319.12 478.45h0.8M318.24 494.71h0.8M329.97 496.13h0.8M351.22 480.01h0.8M335.44 497.47h0.8M335.54 500.59h0.8M314.14 488.36h0.8M328.21 474.63h0.8M317.2 497.91h0.8M335.78 482.41h0.8M326.27 480.38h0.8M328.8 485.08h0.8M327.6 478.87h0.8M322.9 494.17h0.8M313.99 491.37h0.8M333.95 495.57h0.8M315.3 489.51h0.8M317.22 476.45h0.8M325.61 482.48h0.8M321.73 492.32h0.8M330.93 480.13h0.8M338.04 511.74h0.8M330.8 481.7h0.8M330.31 478.43h0.8M328.66 494.91h0.8M336.59 491.1h0.8M310.9 483.73h0.8M331.93 481.81h0.8M319.58 488.05h0.8M316.73 491.94h0.8M328.49 491.25h0.8M324.76 481.13h0.8M333.98 488.1h0.8M338.9 492.02h0.8M306.35 491.27h0.8M327.75 454.68h0.8M347.04 475.54h0.8M336.68 476.63h0.8M342.18 481.81h0.8M329.41 485.7h0.8M314.8 492.75h0.8M317.75 489.87h0.8M335.2 482.79h0.8M337.55 484.22h0.8M321.49 500.71h0.8M325.89 478.18h0.8M330.92 486.89h0.8M311.81 498.87h0.8M325.12 487.29h0.8M343.81 464.59h0.8M349.2 487.56h0.8M327.41 480.32h0.8M345.84 482.93h0.8M323.45 493.98h0.8M320.74 488.46h0.8M307.18 481.49h0.8M337.53 492.47h0.8M324.89 488.14h0.8M350.67 485h0.8M331.59 486.86h0.8M330.23 486.4h0.8M311.29 480.77h0.8M342.7 479.64h0.8M325 484.24h0.8M326.92 474.93h0.8M307.49 472.04h0.8M337.25 496.36h0.8M337.84 481.72h0.8M322.7 483.77h0.8M329.34 482.72h0.8M332.18 484.22h0.8M337.6 484.22h0.8M329.45 484.62h0.8M344.83 476.35h0.8M326.16 492.85h0.8M322.7 477.43h0.8M324.03 493.83h0.8M304.36 465.77h0.8M320.8 473.92h0.8M338.03 493.43h0.8M330.98 482.59h0.8M320.69 477.63h0.8M331.79 487.56h0.8M309.3 474.07h0.8M325.77 484.73h0.8M333.46 462.96h0.8M335.11 479.7h0.8M321.12 477.83h0.8M337.15 489.13h0.8M346.24 492.32h0.8M324.43 475.88h0.8M335.52 499.28h0.8M313.69 478.38h0.8M309.85 464.47h0.8M334.31 461.39h0.8M328.9 498.62h0.8M330.39 483.17h0.8M322.96 477.85h0.8M325.71 476.89h0.8M336.2 473.62h0.8M344.82 496.85h0.8M326.44 483.2h0.8M312.82 501.01h0.8M340.61 482.11h0.8M334.23 461.67h0.8M334.99 492.02h0.8M330.24 480.5h0.8M350.59 481.75h0.8M329.23 498.89h0.8M333.4 481.5h0.8M310.9 495.04h0.8M323.01 483.95h0.8M321.98 476.86h0.8M328.23 488.82h0.8M331.82 478.29h0.8M321.39 495.67h0.8M344.96 493.12h0.8M318.39 484.6h0.8M324.23 489.79h0.8M330.78 489.36h0.8M316.62 481.38h0.8M333.94 492.5h0.8M334.53 481.84h0.8M325.73 489.85h0.8M346.66 474.97h0.8M329.29 484.97h0.8M331.19 487.95h0.8M319.39 476.51h0.8M312.6 480.06h0.8M322.51 478.96h0.8M325.46 490.94h0.8M324.18 477.19h0.8M335.82 488.2h0.8M305.83 498.52h0.8M317.73 487.43h0.8M311.15 468.73h0.8M341.27 485.24h0.8M323.14 493.94h0.8M323.62 481.34h0.8M318.04 494.6h0.8M337.07 489.94h0.8M324.6 488.07h0.8M330.63 481.59h0.8M309.18 479.21h0.8M339.65 481.64h0.8M332.27 484.68h0.8M333.77 489.05h0.8M340.28 488.08h0.8M326.69 481.23h0.8M326.93 484.72h0.8M335.35 487.78h0.8M332.58 468.67h0.8M326.2 476.81h0.8M328.95 476.52h0.8M323.73 482.18h0.8M335.33 481.5h0.8M337.41 481.67h0.8M328.58 475.83h0.8M346.41 490.52h0.8M313.9 486.77h0.8M326.32 468.53h0.8M344.82 484.26h0.8M324.53 473.44h0.8M313.31 500.31h0.8M341.82 479.81h0.8M333.73 480.4h0.8M317.17 484.94h0.8M335.92 482.25h0.8M318.81 483.6h0.8M315.78 498.85h0.8M327.1 486.3h0.8M323.97 492.09h0.8M318.09 494.87h0.8M325.06 474.9h0.8M318.98 500.21h0.8M329.12 490.7h0.8M328.33 493.26h0.8M335.64 475.96h0.8M324.22 491.93h0.8M315.87 488.1h0.8M315.98 479.07h0.8M326.21 505.86h0.8M343.18 489.56h0.8M336.63 481.9h0.8M322.44 486.02h0.8M337.52 492.82h0.8M317.5 494.91h0.8M338.2 489.7h0.8M324.9 495.74h0.8M335.87 498.15h0.8M334.48 472.45h0.8M325.91 479.57h0.8M331.67 475.26h0.8M318.39 485.11h0.8M327.85 497.9h0.8M338.87 490.39h0.8M367.59 474.25h0.8" stroke="#a0a0a0" stroke-width="0.8" opacity="1" fill="none"/>
<g clip-path="url(#cH4)"><path d="M327.5 467.94 L328.5 467.79 L329.5 467.71 L330.5 467.68 L331.5 467.71 L332.5 467.8 L333.5 467.95 L334 468.05 L335 468.29 L335.61 468.5 L336.5 468.82 L337 469.04 L337.91 469.5 L338.5 469.84 L339 470.16 L339.5 470.53 L340.08 471 L340.63 471.5 L341.12 472 L341.55 472.5 L342 473.08 L342.5 473.84 L342.88 474.5 L343.12 475 L343.5 475.96 L343.68 476.5 L343.92 477.5 L344 478.01 L344.11 479 L344.13 480 L344.05 481 L343.98 481.5 L343.79 482.5 L343.5 483.49 L343.34 484 L343 484.82 L342.69 485.5 L342.43 486 L342 486.76 L341.53 487.5 L341.19 488 L340.82 488.5 L340.42 489 L339.99 489.5 L339.5 490.05 L339 490.57 L338.5 491.05 L338 491.5 L337.41 492 L336.76 492.5 L336.05 493 L335.5 493.36 L335 493.65 L334.34 494 L333.5 494.4 L333 494.62 L332 494.98 L331.5 495.14 L330.5 495.39 L329.95 495.5 L329 495.66 L328 495.75 L327 495.78 L326 495.75 L325 495.65 L324.14 495.5 L323.5 495.37 L322.5 495.1 L322 494.94 L321 494.56 L320.5 494.34 L319.84 494 L319 493.52 L318.5 493.2 L318 492.84 L317.5 492.45 L316.97 492 L316.44 491.5 L315.97 491 L315.5 490.45 L315 489.8 L314.5 489.04 L314.18 488.5 L313.92 488 L313.5 487.04 L313.29 486.5 L313 485.5 L312.88 485 L312.71 484 L312.63 483 L312.63 482 L312.71 481 L312.88 480 L313 479.48 L313.28 478.5 L313.5 477.92 L313.9 477 L314.15 476.5 L314.5 475.91 L315 475.14 L315.48 474.5 L315.89 474 L316.34 473.5 L316.84 473 L317.39 472.5 L318 472 L318.5 471.61 L319 471.26 L319.5 470.93 L320.22 470.5 L321 470.07 L321.5 469.82 L322.21 469.5 L323 469.17 L323.5 468.99 L324.5 468.64 L325 468.5 L326 468.23 L327 468.03 L327.5 467.94 Z" fill="none" stroke="#333" stroke-width="0.6"/><path d="M329 469.94 L330 469.83 L331 469.79 L332 469.83 L333 469.95 L333.5 470.04 L334.5 470.27 L335.18 470.5 L336 470.81 L336.5 471.06 L337.29 471.5 L338 471.97 L338.5 472.36 L339 472.8 L339.5 473.31 L340 473.91 L340.42 474.5 L340.73 475 L341 475.52 L341.41 476.5 L341.57 477 L341.8 478 L341.91 479 L341.91 480 L341.81 481 L341.59 482 L341.44 482.5 L341.07 483.5 L340.84 484 L340.5 484.63 L340 485.44 L339.61 486 L339.22 486.5 L338.8 487 L338.33 487.5 L337.83 488 L337.28 488.5 L336.68 489 L336.03 489.5 L335.5 489.88 L335 490.21 L334.5 490.5 L333.59 491 L333 491.29 L332.5 491.5 L331.5 491.88 L331 492.04 L330 492.3 L329 492.47 L328.5 492.53 L327.5 492.59 L326.5 492.57 L325.73 492.5 L325 492.4 L324 492.17 L323.45 492 L322.5 491.65 L322 491.42 L321.21 491 L320.5 490.55 L320 490.18 L319.5 489.77 L319 489.3 L318.5 488.76 L318 488.13 L317.57 487.5 L317.28 487 L317 486.44 L316.62 485.5 L316.46 485 L316.23 484 L316.12 483 L316.11 482 L316.2 481 L316.41 480 L316.55 479.5 L316.92 478.5 L317.15 478 L317.5 477.34 L318 476.55 L318.4 476 L318.8 475.5 L319.25 475 L319.74 474.5 L320.29 474 L320.89 473.5 L321.5 473.04 L322 472.69 L322.5 472.37 L323.12 472 L324 471.53 L324.5 471.28 L325.17 471 L326 470.68 L326.56 470.5 L327.5 470.23 L328.5 470.02 L329 469.94 Z" fill="none" stroke="#333" stroke-width="0.6"/><path d="M329 471.89 L330 471.73 L331 471.66 L332 471.68 L333 471.81 L333.83 472 L334.5 472.2 L335.24 472.5 L336 472.88 L336.5 473.19 L337 473.56 L337.52 474 L338.01 474.5 L338.5 475.1 L339 475.88 L339.32 476.5 L339.51 477 L339.79 478 L339.92 479 L339.91 480 L339.77 481 L339.5 481.94 L339.29 482.5 L339 483.11 L338.5 483.96 L338.12 484.5 L337.72 485 L337.26 485.5 L336.75 486 L336.16 486.5 L335.5 487 L335 487.34 L334.5 487.65 L333.86 488 L333 488.42 L332.5 488.63 L331.5 488.98 L331 489.13 L330 489.36 L329 489.5 L328.5 489.54 L327.5 489.55 L326.78 489.5 L326 489.39 L325 489.15 L324.5 488.97 L323.5 488.53 L323 488.24 L322.5 487.9 L322 487.5 L321.48 487 L321 486.44 L320.5 485.71 L320.13 485 L319.93 484.5 L319.65 483.5 L319.52 482.5 L319.54 481.5 L319.68 480.5 L319.96 479.5 L320.15 479 L320.5 478.26 L320.93 477.5 L321.26 477 L321.64 476.5 L322.06 476 L322.52 475.5 L323.04 475 L323.62 474.5 L324.27 474 L325 473.52 L325.5 473.22 L326 472.95 L327 472.5 L327.5 472.31 L328.5 472.01 L329 471.89 Z" fill="none" stroke="#333" stroke-width="0.6"/><path d="M330.5 473.45 L331.5 473.41 L332.5 473.49 L333 473.58 L334 473.88 L334.5 474.09 L335.25 474.5 L335.94 475 L336.47 475.5 L336.89 476 L337.23 476.5 L337.5 477.01 L337.86 478 L338 478.8 L338.04 479.5 L338 480.04 L337.82 481 L337.5 481.85 L337.17 482.5 L336.85 483 L336.47 483.5 L336 484.01 L335.47 484.5 L334.82 485 L334.03 485.5 L333.5 485.79 L333 486.01 L332 486.37 L331.5 486.51 L330.5 486.71 L329.5 486.81 L328.5 486.79 L327.5 486.66 L326.88 486.5 L326 486.18 L325.5 485.93 L324.85 485.5 L324.28 485 L323.84 484.5 L323.5 484 L323.04 483 L322.9 482.5 L322.77 481.5 L322.83 480.5 L323 479.68 L323.21 479 L323.5 478.36 L323.98 477.5 L324.33 477 L324.73 476.5 L325.21 476 L325.76 475.5 L326.41 475 L327 474.62 L327.5 474.35 L328.29 474 L329 473.75 L330 473.52 L330.5 473.45 Z" fill="none" stroke="#333" stroke-width="0.6"/><path d="M329.5 475.42 L330.5 475.17 L331.5 475.1 L332.5 475.21 L333.44 475.5 L334 475.77 L334.5 476.1 L335 476.54 L335.5 477.15 L335.94 478 L336.09 478.5 L336.19 479.5 L336.04 480.5 L335.87 481 L335.5 481.73 L335 482.41 L334.5 482.91 L334 483.31 L333.5 483.63 L332.75 484 L332 484.27 L331 484.47 L330.5 484.51 L329.74 484.5 L329 484.4 L328 484.09 L327.5 483.84 L327 483.5 L326.48 483 L326 482.3 L325.68 481.5 L325.54 480.5 L325.65 479.5 L326 478.5 L326.26 478 L326.6 477.5 L327.03 477 L327.56 476.5 L328.27 476 L329 475.62 L329.5 475.42 Z" fill="none" stroke="#333" stroke-width="0.6"/><path d="M331 476.97 L331.99 477 L332.5 477.15 L333.15 477.5 L333.67 478 L334 478.58 L334.16 479.5 L334 480.3 L333.62 481 L333.15 481.5 L332.5 481.94 L332 482.16 L331 482.35 L330 482.25 L329.37 482 L328.71 481.5 L328.35 481 L328.09 480 L328.27 479 L328.52 478.5 L329 477.91 L329.51 477.5 L330.5 477.07 L331 476.97 Z" fill="none" stroke="#333" stroke-width="0.6"/></g>
<line x1="340" y1="466.5" x2="347.5" y2="460.8" stroke="#999" stroke-width="0.5"/>
<line x1="43.9" y1="438.3" x2="43.9" y2="516.1" stroke="#555" stroke-width="0.6"/>
<line x1="26.1" y1="469.5" x2="105.1" y2="469.5" stroke="#555" stroke-width="0.6"/>
<text x="94" y="446.79" font-size="5.9" text-anchor="middle" font-weight="normal" fill="#111" stroke="#111" stroke-width="0.14" transform="matrix(1,0,0,1.2,0,-89.36)">1.8%</text>
<line x1="135.6" y1="438.3" x2="135.6" y2="516.1" stroke="#555" stroke-width="0.6"/>
<line x1="117.8" y1="469.5" x2="196.2" y2="469.5" stroke="#555" stroke-width="0.6"/>
<text x="184.7" y="446.79" font-size="5.9" text-anchor="middle" font-weight="normal" fill="#111" stroke="#111" stroke-width="0.14" transform="matrix(1,0,0,1.2,0,-89.36)">11.8%</text>
<line x1="227.3" y1="438.3" x2="227.3" y2="516.1" stroke="#555" stroke-width="0.6"/>
<line x1="209.9" y1="469.5" x2="290.8" y2="469.5" stroke="#555" stroke-width="0.6"/>
<text x="278.7" y="446.79" font-size="5.9" text-anchor="middle" font-weight="normal" fill="#111" stroke="#111" stroke-width="0.14" transform="matrix(1,0,0,1.2,0,-89.36)">10.3%</text>
<line x1="319.2" y1="438.3" x2="319.2" y2="516.1" stroke="#555" stroke-width="0.6"/>
<line x1="301.9" y1="469.5" x2="380.6" y2="469.5" stroke="#555" stroke-width="0.6"/>
<text x="370.6" y="446.79" font-size="5.9" text-anchor="middle" font-weight="normal" fill="#111" stroke="#111" stroke-width="0.14" transform="matrix(1,0,0,1.2,0,-89.36)">5.8%</text>
<line x1="441.5" y1="436.6" x2="441.5" y2="505.4" stroke="#333" stroke-width="0.8"/>
<line x1="441.5" y1="505.4" x2="512" y2="505.4" stroke="#333" stroke-width="0.8"/>
<line x1="439.3" y1="436.6" x2="441.5" y2="436.6" stroke="#333" stroke-width="0.8"/>
<text x="437.3" y="438.91" font-size="6.5" text-anchor="end" font-weight="normal" fill="#2a2a2a" stroke="#2a2a2a" stroke-width="0.16">16</text>
<line x1="439.3" y1="453.6" x2="441.5" y2="453.6" stroke="#333" stroke-width="0.8"/>
<text x="437.3" y="455.91" font-size="6.5" text-anchor="end" font-weight="normal" fill="#2a2a2a" stroke="#2a2a2a" stroke-width="0.16">12</text>
<line x1="439.3" y1="470.8" x2="441.5" y2="470.8" stroke="#333" stroke-width="0.8"/>
<text x="437.3" y="473.11" font-size="6.5" text-anchor="end" font-weight="normal" fill="#2a2a2a" stroke="#2a2a2a" stroke-width="0.16">8</text>
<line x1="439.3" y1="488" x2="441.5" y2="488" stroke="#333" stroke-width="0.8"/>
<text x="437.3" y="490.31" font-size="6.5" text-anchor="end" font-weight="normal" fill="#2a2a2a" stroke="#2a2a2a" stroke-width="0.16">4</text>
<line x1="439.3" y1="505.4" x2="441.5" y2="505.4" stroke="#333" stroke-width="0.8"/>
<text x="437.3" y="507.71" font-size="6.5" text-anchor="end" font-weight="normal" fill="#2a2a2a" stroke="#2a2a2a" stroke-width="0.16">0</text>
<rect x="448.3" y="451" width="13" height="54.4" fill="#c4c4c4" stroke="#5a5a5a" stroke-width="0.75" rx="0"/>
<line x1="454.8" y1="441" x2="454.8" y2="460" stroke="#333" stroke-width="0.7"/>
<line x1="453.2" y1="441" x2="456.4" y2="441" stroke="#333" stroke-width="0.7"/>
<line x1="453.2" y1="460" x2="456.4" y2="460" stroke="#333" stroke-width="0.7"/>
<circle cx="454.8" cy="443" r="1.1" fill="none" stroke="#444" stroke-width="0.55"/>
<circle cx="454.8" cy="452" r="1.1" fill="none" stroke="#444" stroke-width="0.55"/>
<circle cx="454.8" cy="459" r="1.1" fill="none" stroke="#444" stroke-width="0.55"/>
<rect x="472.4" y="458.4" width="14" height="47" fill="#8ec0ec" stroke="#3a5a85" stroke-width="0.75" rx="0"/>
<line x1="479.4" y1="455" x2="479.4" y2="462" stroke="#3a5a85" stroke-width="0.7"/>
<line x1="477.8" y1="455" x2="481" y2="455" stroke="#3a5a85" stroke-width="0.7"/>
<line x1="477.8" y1="462" x2="481" y2="462" stroke="#3a5a85" stroke-width="0.7"/>
<circle cx="479.4" cy="456" r="1.1" fill="none" stroke="#3a5a85" stroke-width="0.55"/>
<circle cx="479.4" cy="459" r="1.1" fill="none" stroke="#3a5a85" stroke-width="0.55"/>
<circle cx="479.4" cy="461" r="1.1" fill="none" stroke="#3a5a85" stroke-width="0.55"/>
<rect x="495.7" y="480.2" width="13.5" height="25.2" fill="#f4868b" stroke="#963232" stroke-width="0.75" rx="0"/>
<line x1="502.45" y1="476" x2="502.45" y2="484" stroke="#963232" stroke-width="0.7"/>
<line x1="500.85" y1="476" x2="504.05" y2="476" stroke="#963232" stroke-width="0.7"/>
<line x1="500.85" y1="484" x2="504.05" y2="484" stroke="#963232" stroke-width="0.7"/>
<circle cx="502.45" cy="477.5" r="1.1" fill="none" stroke="#963232" stroke-width="0.55"/>
<circle cx="502.45" cy="480" r="1.1" fill="none" stroke="#963232" stroke-width="0.55"/>
<circle cx="502.45" cy="483" r="1.1" fill="none" stroke="#963232" stroke-width="0.55"/>
<text x="455.4" y="513.3" font-size="6.2" text-anchor="middle" font-weight="normal" fill="#111" stroke="#111" stroke-width="0.15">Tfh</text>
<text x="477.9" y="513.3" font-size="6.2" text-anchor="middle" font-weight="normal" fill="#111" stroke="#111" stroke-width="0.15">Tfh+B</text>
<text x="504" y="513.3" font-size="6.2" text-anchor="middle" font-weight="normal" fill="#111" stroke="#111" stroke-width="0.15">Tfh+Breg</text>
<text x="421.2" y="472.88" font-size="8.1" text-anchor="middle" font-weight="normal" fill="#111" stroke="#111" stroke-width="0.19" transform="rotate(-90 421.2 470)">% Plasma cells</text>
<line x1="456.4" y1="439.3" x2="475.6" y2="439.3" stroke="#333" stroke-width="0.6"/>
<text x="465.8" y="437.96" font-size="4.4" text-anchor="middle" font-weight="normal" fill="#111" stroke="#111" stroke-width="0.11">NS</text>
<line x1="456.4" y1="431.4" x2="501" y2="431.4" stroke="#333" stroke-width="0.6"/>
<text x="490.8" y="429.86" font-size="4.4" text-anchor="middle" font-weight="normal" fill="#111" stroke="#111" stroke-width="0.11"><tspan font-style="italic">P</tspan> &lt; 0.01</text>
<text x="479.8" y="523.59" font-size="7.3" text-anchor="middle" font-weight="normal" fill="#111" stroke="#111" stroke-width="0.18">Superntant</text></svg>
</body></html>
